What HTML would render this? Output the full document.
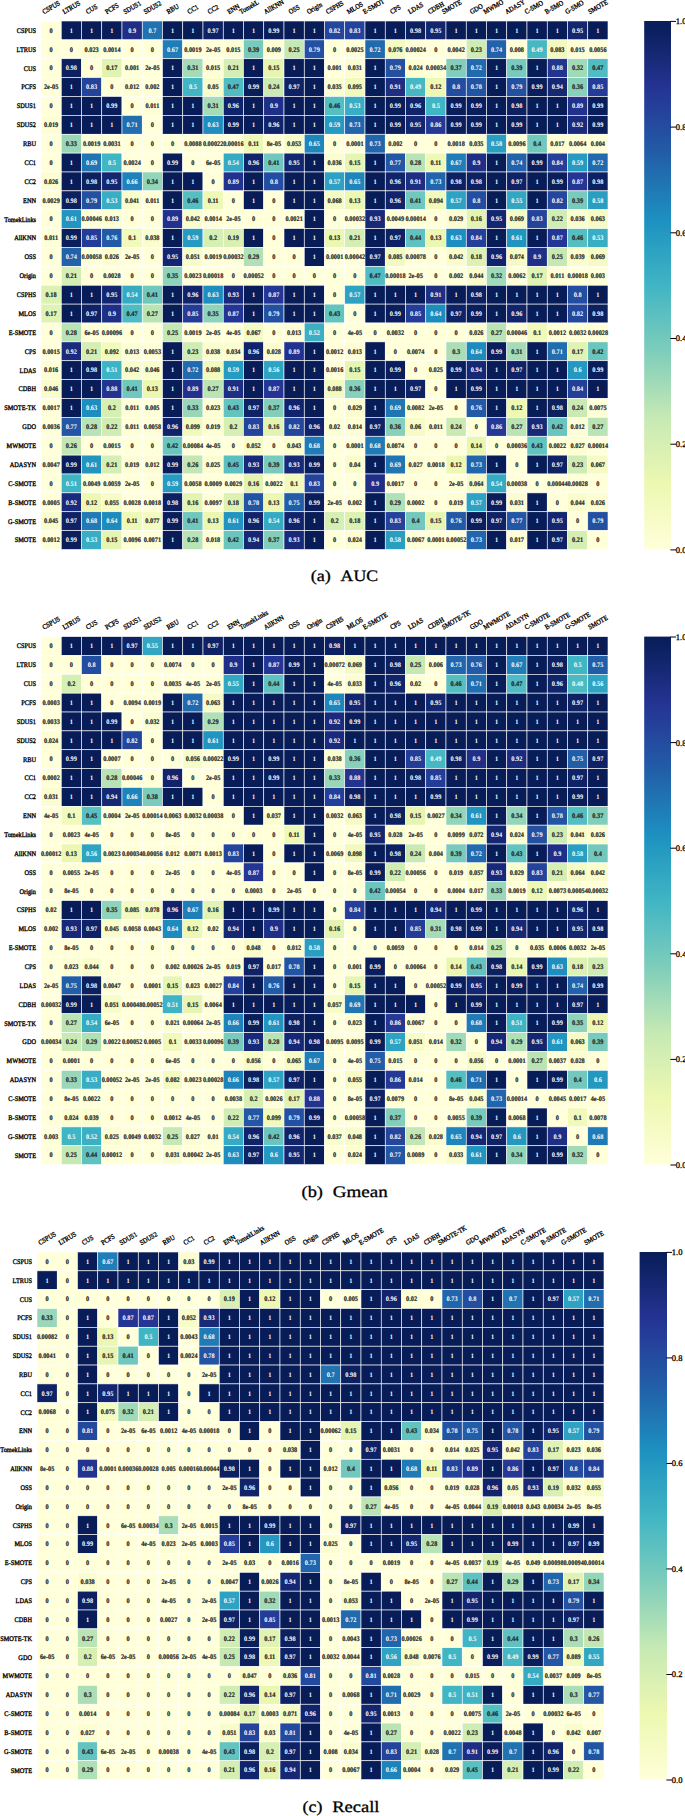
<!DOCTYPE html>
<html><head><meta charset="utf-8"><title>Heatmaps</title>
<style>html,body{margin:0;padding:0;background:#fff;width:685px;height:1816px;overflow:hidden}</style>
</head><body><svg width="685" height="1816" viewBox="0 0 685 1816" style="display:block;text-rendering:geometricPrecision" font-family="Liberation Serif, serif"><defs><linearGradient id="cb" x1="0" y1="1" x2="0" y2="0"><stop offset="0.0000" stop-color="#ffffd9"/><stop offset="0.0312" stop-color="#fafdcf"/><stop offset="0.0625" stop-color="#f6fbc5"/><stop offset="0.0938" stop-color="#f1fabb"/><stop offset="0.1250" stop-color="#edf8b1"/><stop offset="0.1562" stop-color="#e3f4b2"/><stop offset="0.1875" stop-color="#daf0b3"/><stop offset="0.2188" stop-color="#d0edb3"/><stop offset="0.2500" stop-color="#c6e9b4"/><stop offset="0.2812" stop-color="#b4e2b6"/><stop offset="0.3125" stop-color="#a2dbb8"/><stop offset="0.3438" stop-color="#90d4b9"/><stop offset="0.3750" stop-color="#7ecdbb"/><stop offset="0.4062" stop-color="#6fc7bd"/><stop offset="0.4375" stop-color="#5fc1c0"/><stop offset="0.4688" stop-color="#50bbc2"/><stop offset="0.5000" stop-color="#40b5c4"/><stop offset="0.5312" stop-color="#37acc3"/><stop offset="0.5625" stop-color="#2ea3c2"/><stop offset="0.5938" stop-color="#259ac1"/><stop offset="0.6250" stop-color="#1d90c0"/><stop offset="0.6562" stop-color="#1e83ba"/><stop offset="0.6875" stop-color="#2076b3"/><stop offset="0.7188" stop-color="#216aad"/><stop offset="0.7500" stop-color="#225da8"/><stop offset="0.7812" stop-color="#2352a3"/><stop offset="0.8125" stop-color="#24489d"/><stop offset="0.8438" stop-color="#243d98"/><stop offset="0.8750" stop-color="#243392"/><stop offset="0.9062" stop-color="#1d2e83"/><stop offset="0.9375" stop-color="#162874"/><stop offset="0.9688" stop-color="#0e2265"/><stop offset="1.0000" stop-color="#081d58"/></linearGradient></defs><g stroke="#fff" stroke-width="0.6"><rect x="41.00" y="21.00" width="20.25" height="18.88" fill="#ffffd9"/><rect x="61.25" y="21.00" width="20.25" height="18.88" fill="#081d58"/><rect x="81.50" y="21.00" width="20.25" height="18.88" fill="#081d58"/><rect x="101.75" y="21.00" width="20.25" height="18.88" fill="#081d58"/><rect x="122.00" y="21.00" width="20.25" height="18.88" fill="#1f2f87"/><rect x="142.25" y="21.00" width="20.25" height="18.88" fill="#2072b1"/><rect x="162.50" y="21.00" width="20.25" height="18.88" fill="#081d58"/><rect x="182.75" y="21.00" width="20.25" height="18.88" fill="#081d58"/><rect x="203.00" y="21.00" width="20.25" height="18.88" fill="#0e2265"/><rect x="223.25" y="21.00" width="20.25" height="18.88" fill="#081d58"/><rect x="243.50" y="21.00" width="20.25" height="18.88" fill="#081d58"/><rect x="263.75" y="21.00" width="20.25" height="18.88" fill="#0a1e5c"/><rect x="284.00" y="21.00" width="20.25" height="18.88" fill="#081d58"/><rect x="304.25" y="21.00" width="20.25" height="18.88" fill="#081d58"/><rect x="324.50" y="21.00" width="20.25" height="18.88" fill="#24479d"/><rect x="344.75" y="21.00" width="20.25" height="18.88" fill="#24439b"/><rect x="365.00" y="21.00" width="20.25" height="18.88" fill="#081d58"/><rect x="385.25" y="21.00" width="20.25" height="18.88" fill="#081d58"/><rect x="405.50" y="21.00" width="20.25" height="18.88" fill="#0d2161"/><rect x="425.75" y="21.00" width="20.25" height="18.88" fill="#13266f"/><rect x="446.00" y="21.00" width="20.25" height="18.88" fill="#081d58"/><rect x="466.25" y="21.00" width="20.25" height="18.88" fill="#081d58"/><rect x="486.50" y="21.00" width="20.25" height="18.88" fill="#081d58"/><rect x="506.75" y="21.00" width="20.25" height="18.88" fill="#081d58"/><rect x="527.00" y="21.00" width="20.25" height="18.88" fill="#081d58"/><rect x="547.25" y="21.00" width="20.25" height="18.88" fill="#081d58"/><rect x="567.50" y="21.00" width="20.25" height="18.88" fill="#13266f"/><rect x="587.75" y="21.00" width="20.25" height="18.88" fill="#081d58"/><rect x="41.00" y="39.88" width="20.25" height="18.88" fill="#ffffd9"/><rect x="61.25" y="39.88" width="20.25" height="18.88" fill="#ffffd9"/><rect x="81.50" y="39.88" width="20.25" height="18.88" fill="#fcfed3"/><rect x="101.75" y="39.88" width="20.25" height="18.88" fill="#ffffd9"/><rect x="122.00" y="39.88" width="20.25" height="18.88" fill="#ffffd9"/><rect x="142.25" y="39.88" width="20.25" height="18.88" fill="#ffffd9"/><rect x="162.50" y="39.88" width="20.25" height="18.88" fill="#1f7eb7"/><rect x="182.75" y="39.88" width="20.25" height="18.88" fill="#ffffd9"/><rect x="203.00" y="39.88" width="20.25" height="18.88" fill="#ffffd9"/><rect x="223.25" y="39.88" width="20.25" height="18.88" fill="#fdfed5"/><rect x="243.50" y="39.88" width="20.25" height="18.88" fill="#78cbbc"/><rect x="263.75" y="39.88" width="20.25" height="18.88" fill="#feffd6"/><rect x="284.00" y="39.88" width="20.25" height="18.88" fill="#c6e9b4"/><rect x="304.25" y="39.88" width="20.25" height="18.88" fill="#2350a1"/><rect x="324.50" y="39.88" width="20.25" height="18.88" fill="#ffffd9"/><rect x="344.75" y="39.88" width="20.25" height="18.88" fill="#ffffd9"/><rect x="365.00" y="39.88" width="20.25" height="18.88" fill="#216aad"/><rect x="385.25" y="39.88" width="20.25" height="18.88" fill="#f4fbc1"/><rect x="405.50" y="39.88" width="20.25" height="18.88" fill="#ffffd9"/><rect x="425.75" y="39.88" width="20.25" height="18.88" fill="#ffffd9"/><rect x="446.00" y="39.88" width="20.25" height="18.88" fill="#feffd8"/><rect x="466.25" y="39.88" width="20.25" height="18.88" fill="#ceecb3"/><rect x="486.50" y="39.88" width="20.25" height="18.88" fill="#2262aa"/><rect x="506.75" y="39.88" width="20.25" height="18.88" fill="#feffd6"/><rect x="527.00" y="39.88" width="20.25" height="18.88" fill="#46b8c3"/><rect x="547.25" y="39.88" width="20.25" height="18.88" fill="#f3fabf"/><rect x="567.50" y="39.88" width="20.25" height="18.88" fill="#fdfed5"/><rect x="587.75" y="39.88" width="20.25" height="18.88" fill="#feffd8"/><rect x="41.00" y="58.75" width="20.25" height="18.88" fill="#ffffd9"/><rect x="61.25" y="58.75" width="20.25" height="18.88" fill="#0d2161"/><rect x="81.50" y="58.75" width="20.25" height="18.88" fill="#ffffd9"/><rect x="101.75" y="58.75" width="20.25" height="18.88" fill="#e0f3b2"/><rect x="122.00" y="58.75" width="20.25" height="18.88" fill="#ffffd9"/><rect x="142.25" y="58.75" width="20.25" height="18.88" fill="#ffffd9"/><rect x="162.50" y="58.75" width="20.25" height="18.88" fill="#081d58"/><rect x="182.75" y="58.75" width="20.25" height="18.88" fill="#a5dcb7"/><rect x="203.00" y="58.75" width="20.25" height="18.88" fill="#fdfed5"/><rect x="223.25" y="58.75" width="20.25" height="18.88" fill="#d4eeb3"/><rect x="243.50" y="58.75" width="20.25" height="18.88" fill="#081d58"/><rect x="263.75" y="58.75" width="20.25" height="18.88" fill="#e6f5b2"/><rect x="284.00" y="58.75" width="20.25" height="18.88" fill="#081d58"/><rect x="304.25" y="58.75" width="20.25" height="18.88" fill="#081d58"/><rect x="324.50" y="58.75" width="20.25" height="18.88" fill="#ffffd9"/><rect x="344.75" y="58.75" width="20.25" height="18.88" fill="#fbfdd0"/><rect x="365.00" y="58.75" width="20.25" height="18.88" fill="#081d58"/><rect x="385.25" y="58.75" width="20.25" height="18.88" fill="#2350a1"/><rect x="405.50" y="58.75" width="20.25" height="18.88" fill="#fcfed1"/><rect x="425.75" y="58.75" width="20.25" height="18.88" fill="#ffffd9"/><rect x="446.00" y="58.75" width="20.25" height="18.88" fill="#83cebb"/><rect x="466.25" y="58.75" width="20.25" height="18.88" fill="#216aad"/><rect x="486.50" y="58.75" width="20.25" height="18.88" fill="#081d58"/><rect x="506.75" y="58.75" width="20.25" height="18.88" fill="#78cbbc"/><rect x="527.00" y="58.75" width="20.25" height="18.88" fill="#081d58"/><rect x="547.25" y="58.75" width="20.25" height="18.88" fill="#233390"/><rect x="567.50" y="58.75" width="20.25" height="18.88" fill="#a0dab8"/><rect x="587.75" y="58.75" width="20.25" height="18.88" fill="#50bbc2"/><rect x="41.00" y="77.62" width="20.25" height="18.88" fill="#ffffd9"/><rect x="61.25" y="77.62" width="20.25" height="18.88" fill="#081d58"/><rect x="81.50" y="77.62" width="20.25" height="18.88" fill="#24439b"/><rect x="101.75" y="77.62" width="20.25" height="18.88" fill="#ffffd9"/><rect x="122.00" y="77.62" width="20.25" height="18.88" fill="#fdfed5"/><rect x="142.25" y="77.62" width="20.25" height="18.88" fill="#ffffd9"/><rect x="162.50" y="77.62" width="20.25" height="18.88" fill="#081d58"/><rect x="182.75" y="77.62" width="20.25" height="18.88" fill="#40b5c4"/><rect x="203.00" y="77.62" width="20.25" height="18.88" fill="#f8fcca"/><rect x="223.25" y="77.62" width="20.25" height="18.88" fill="#50bbc2"/><rect x="243.50" y="77.62" width="20.25" height="18.88" fill="#0a1e5c"/><rect x="263.75" y="77.62" width="20.25" height="18.88" fill="#caeab4"/><rect x="284.00" y="77.62" width="20.25" height="18.88" fill="#0e2265"/><rect x="304.25" y="77.62" width="20.25" height="18.88" fill="#081d58"/><rect x="324.50" y="77.62" width="20.25" height="18.88" fill="#fafdcf"/><rect x="344.75" y="77.62" width="20.25" height="18.88" fill="#f1fabb"/><rect x="365.00" y="77.62" width="20.25" height="18.88" fill="#081d58"/><rect x="385.25" y="77.62" width="20.25" height="18.88" fill="#1d2e83"/><rect x="405.50" y="77.62" width="20.25" height="18.88" fill="#46b8c3"/><rect x="425.75" y="77.62" width="20.25" height="18.88" fill="#eef8b3"/><rect x="446.00" y="77.62" width="20.25" height="18.88" fill="#234da0"/><rect x="466.25" y="77.62" width="20.25" height="18.88" fill="#2354a3"/><rect x="486.50" y="77.62" width="20.25" height="18.88" fill="#081d58"/><rect x="506.75" y="77.62" width="20.25" height="18.88" fill="#2350a1"/><rect x="527.00" y="77.62" width="20.25" height="18.88" fill="#0a1e5c"/><rect x="547.25" y="77.62" width="20.25" height="18.88" fill="#162874"/><rect x="567.50" y="77.62" width="20.25" height="18.88" fill="#87d0ba"/><rect x="587.75" y="77.62" width="20.25" height="18.88" fill="#243c98"/><rect x="41.00" y="96.50" width="20.25" height="18.88" fill="#ffffd9"/><rect x="61.25" y="96.50" width="20.25" height="18.88" fill="#081d58"/><rect x="81.50" y="96.50" width="20.25" height="18.88" fill="#081d58"/><rect x="101.75" y="96.50" width="20.25" height="18.88" fill="#0a1e5c"/><rect x="122.00" y="96.50" width="20.25" height="18.88" fill="#ffffd9"/><rect x="142.25" y="96.50" width="20.25" height="18.88" fill="#feffd6"/><rect x="162.50" y="96.50" width="20.25" height="18.88" fill="#081d58"/><rect x="182.75" y="96.50" width="20.25" height="18.88" fill="#081d58"/><rect x="203.00" y="96.50" width="20.25" height="18.88" fill="#a5dcb7"/><rect x="223.25" y="96.50" width="20.25" height="18.88" fill="#11246b"/><rect x="243.50" y="96.50" width="20.25" height="18.88" fill="#081d58"/><rect x="263.75" y="96.50" width="20.25" height="18.88" fill="#1f2f87"/><rect x="284.00" y="96.50" width="20.25" height="18.88" fill="#081d58"/><rect x="304.25" y="96.50" width="20.25" height="18.88" fill="#081d58"/><rect x="324.50" y="96.50" width="20.25" height="18.88" fill="#55bec1"/><rect x="344.75" y="96.50" width="20.25" height="18.88" fill="#39adc3"/><rect x="365.00" y="96.50" width="20.25" height="18.88" fill="#081d58"/><rect x="385.25" y="96.50" width="20.25" height="18.88" fill="#0a1e5c"/><rect x="405.50" y="96.50" width="20.25" height="18.88" fill="#11246b"/><rect x="425.75" y="96.50" width="20.25" height="18.88" fill="#40b5c4"/><rect x="446.00" y="96.50" width="20.25" height="18.88" fill="#0a1e5c"/><rect x="466.25" y="96.50" width="20.25" height="18.88" fill="#0a1e5c"/><rect x="486.50" y="96.50" width="20.25" height="18.88" fill="#081d58"/><rect x="506.75" y="96.50" width="20.25" height="18.88" fill="#0d2161"/><rect x="527.00" y="96.50" width="20.25" height="18.88" fill="#081d58"/><rect x="547.25" y="96.50" width="20.25" height="18.88" fill="#081d58"/><rect x="567.50" y="96.50" width="20.25" height="18.88" fill="#21318d"/><rect x="587.75" y="96.50" width="20.25" height="18.88" fill="#0a1e5c"/><rect x="41.00" y="115.38" width="20.25" height="18.88" fill="#fdfed4"/><rect x="61.25" y="115.38" width="20.25" height="18.88" fill="#081d58"/><rect x="81.50" y="115.38" width="20.25" height="18.88" fill="#081d58"/><rect x="101.75" y="115.38" width="20.25" height="18.88" fill="#081d58"/><rect x="122.00" y="115.38" width="20.25" height="18.88" fill="#206eb0"/><rect x="142.25" y="115.38" width="20.25" height="18.88" fill="#ffffd9"/><rect x="162.50" y="115.38" width="20.25" height="18.88" fill="#081d58"/><rect x="182.75" y="115.38" width="20.25" height="18.88" fill="#081d58"/><rect x="203.00" y="115.38" width="20.25" height="18.88" fill="#1d8ebf"/><rect x="223.25" y="115.38" width="20.25" height="18.88" fill="#0a1e5c"/><rect x="243.50" y="115.38" width="20.25" height="18.88" fill="#081d58"/><rect x="263.75" y="115.38" width="20.25" height="18.88" fill="#11246b"/><rect x="284.00" y="115.38" width="20.25" height="18.88" fill="#081d58"/><rect x="304.25" y="115.38" width="20.25" height="18.88" fill="#081d58"/><rect x="324.50" y="115.38" width="20.25" height="18.88" fill="#269bc1"/><rect x="344.75" y="115.38" width="20.25" height="18.88" fill="#2166ac"/><rect x="365.00" y="115.38" width="20.25" height="18.88" fill="#081d58"/><rect x="385.25" y="115.38" width="20.25" height="18.88" fill="#0a1e5c"/><rect x="405.50" y="115.38" width="20.25" height="18.88" fill="#13266f"/><rect x="425.75" y="115.38" width="20.25" height="18.88" fill="#253896"/><rect x="446.00" y="115.38" width="20.25" height="18.88" fill="#0a1e5c"/><rect x="466.25" y="115.38" width="20.25" height="18.88" fill="#0a1e5c"/><rect x="486.50" y="115.38" width="20.25" height="18.88" fill="#081d58"/><rect x="506.75" y="115.38" width="20.25" height="18.88" fill="#0a1e5c"/><rect x="527.00" y="115.38" width="20.25" height="18.88" fill="#081d58"/><rect x="547.25" y="115.38" width="20.25" height="18.88" fill="#081d58"/><rect x="567.50" y="115.38" width="20.25" height="18.88" fill="#1a2b7e"/><rect x="587.75" y="115.38" width="20.25" height="18.88" fill="#0a1e5c"/><rect x="41.00" y="134.25" width="20.25" height="18.88" fill="#ffffd9"/><rect x="61.25" y="134.25" width="20.25" height="18.88" fill="#99d7b8"/><rect x="81.50" y="134.25" width="20.25" height="18.88" fill="#ffffd9"/><rect x="101.75" y="134.25" width="20.25" height="18.88" fill="#ffffd9"/><rect x="122.00" y="134.25" width="20.25" height="18.88" fill="#ffffd9"/><rect x="142.25" y="134.25" width="20.25" height="18.88" fill="#ffffd9"/><rect x="162.50" y="134.25" width="20.25" height="18.88" fill="#ffffd9"/><rect x="182.75" y="134.25" width="20.25" height="18.88" fill="#feffd6"/><rect x="203.00" y="134.25" width="20.25" height="18.88" fill="#ffffd9"/><rect x="223.25" y="134.25" width="20.25" height="18.88" fill="#ffffd9"/><rect x="243.50" y="134.25" width="20.25" height="18.88" fill="#eff9b6"/><rect x="263.75" y="134.25" width="20.25" height="18.88" fill="#ffffd9"/><rect x="284.00" y="134.25" width="20.25" height="18.88" fill="#f8fcc9"/><rect x="304.25" y="134.25" width="20.25" height="18.88" fill="#1e86bb"/><rect x="324.50" y="134.25" width="20.25" height="18.88" fill="#ffffd9"/><rect x="344.75" y="134.25" width="20.25" height="18.88" fill="#ffffd9"/><rect x="365.00" y="134.25" width="20.25" height="18.88" fill="#2166ac"/><rect x="385.25" y="134.25" width="20.25" height="18.88" fill="#ffffd9"/><rect x="405.50" y="134.25" width="20.25" height="18.88" fill="#ffffd9"/><rect x="425.75" y="134.25" width="20.25" height="18.88" fill="#ffffd9"/><rect x="446.00" y="134.25" width="20.25" height="18.88" fill="#ffffd9"/><rect x="466.25" y="134.25" width="20.25" height="18.88" fill="#fafdcf"/><rect x="486.50" y="134.25" width="20.25" height="18.88" fill="#2a9ec1"/><rect x="506.75" y="134.25" width="20.25" height="18.88" fill="#feffd6"/><rect x="527.00" y="134.25" width="20.25" height="18.88" fill="#73c8bd"/><rect x="547.25" y="134.25" width="20.25" height="18.88" fill="#fdfed4"/><rect x="567.50" y="134.25" width="20.25" height="18.88" fill="#feffd8"/><rect x="587.75" y="134.25" width="20.25" height="18.88" fill="#feffd8"/><rect x="41.00" y="153.12" width="20.25" height="18.88" fill="#ffffd9"/><rect x="61.25" y="153.12" width="20.25" height="18.88" fill="#081d58"/><rect x="81.50" y="153.12" width="20.25" height="18.88" fill="#2076b3"/><rect x="101.75" y="153.12" width="20.25" height="18.88" fill="#40b5c4"/><rect x="122.00" y="153.12" width="20.25" height="18.88" fill="#ffffd9"/><rect x="142.25" y="153.12" width="20.25" height="18.88" fill="#ffffd9"/><rect x="162.50" y="153.12" width="20.25" height="18.88" fill="#0a1e5c"/><rect x="182.75" y="153.12" width="20.25" height="18.88" fill="#ffffd9"/><rect x="203.00" y="153.12" width="20.25" height="18.88" fill="#ffffd9"/><rect x="223.25" y="153.12" width="20.25" height="18.88" fill="#35aac3"/><rect x="243.50" y="153.12" width="20.25" height="18.88" fill="#11246b"/><rect x="263.75" y="153.12" width="20.25" height="18.88" fill="#6fc7bd"/><rect x="284.00" y="153.12" width="20.25" height="18.88" fill="#13266f"/><rect x="304.25" y="153.12" width="20.25" height="18.88" fill="#081d58"/><rect x="324.50" y="153.12" width="20.25" height="18.88" fill="#fafdce"/><rect x="344.75" y="153.12" width="20.25" height="18.88" fill="#e6f5b2"/><rect x="365.00" y="153.12" width="20.25" height="18.88" fill="#081d58"/><rect x="385.25" y="153.12" width="20.25" height="18.88" fill="#2356a4"/><rect x="405.50" y="153.12" width="20.25" height="18.88" fill="#b7e3b6"/><rect x="425.75" y="153.12" width="20.25" height="18.88" fill="#eff9b6"/><rect x="446.00" y="153.12" width="20.25" height="18.88" fill="#1f7eb7"/><rect x="466.25" y="153.12" width="20.25" height="18.88" fill="#1f2f87"/><rect x="486.50" y="153.12" width="20.25" height="18.88" fill="#081d58"/><rect x="506.75" y="153.12" width="20.25" height="18.88" fill="#2262aa"/><rect x="527.00" y="153.12" width="20.25" height="18.88" fill="#0a1e5c"/><rect x="547.25" y="153.12" width="20.25" height="18.88" fill="#243f99"/><rect x="567.50" y="153.12" width="20.25" height="18.88" fill="#269bc1"/><rect x="587.75" y="153.12" width="20.25" height="18.88" fill="#216aad"/><rect x="41.00" y="172.00" width="20.25" height="18.88" fill="#fcfed1"/><rect x="61.25" y="172.00" width="20.25" height="18.88" fill="#081d58"/><rect x="81.50" y="172.00" width="20.25" height="18.88" fill="#0d2161"/><rect x="101.75" y="172.00" width="20.25" height="18.88" fill="#13266f"/><rect x="122.00" y="172.00" width="20.25" height="18.88" fill="#1e83ba"/><rect x="142.25" y="172.00" width="20.25" height="18.88" fill="#92d5b9"/><rect x="162.50" y="172.00" width="20.25" height="18.88" fill="#081d58"/><rect x="182.75" y="172.00" width="20.25" height="18.88" fill="#081d58"/><rect x="203.00" y="172.00" width="20.25" height="18.88" fill="#ffffd9"/><rect x="223.25" y="172.00" width="20.25" height="18.88" fill="#21318d"/><rect x="243.50" y="172.00" width="20.25" height="18.88" fill="#081d58"/><rect x="263.75" y="172.00" width="20.25" height="18.88" fill="#234da0"/><rect x="284.00" y="172.00" width="20.25" height="18.88" fill="#081d58"/><rect x="304.25" y="172.00" width="20.25" height="18.88" fill="#081d58"/><rect x="324.50" y="172.00" width="20.25" height="18.88" fill="#2da2c2"/><rect x="344.75" y="172.00" width="20.25" height="18.88" fill="#1e86bb"/><rect x="365.00" y="172.00" width="20.25" height="18.88" fill="#081d58"/><rect x="385.25" y="172.00" width="20.25" height="18.88" fill="#11246b"/><rect x="405.50" y="172.00" width="20.25" height="18.88" fill="#1d2e83"/><rect x="425.75" y="172.00" width="20.25" height="18.88" fill="#2166ac"/><rect x="446.00" y="172.00" width="20.25" height="18.88" fill="#0d2161"/><rect x="466.25" y="172.00" width="20.25" height="18.88" fill="#0d2161"/><rect x="486.50" y="172.00" width="20.25" height="18.88" fill="#081d58"/><rect x="506.75" y="172.00" width="20.25" height="18.88" fill="#0e2265"/><rect x="527.00" y="172.00" width="20.25" height="18.88" fill="#081d58"/><rect x="547.25" y="172.00" width="20.25" height="18.88" fill="#0a1e5c"/><rect x="567.50" y="172.00" width="20.25" height="18.88" fill="#253595"/><rect x="587.75" y="172.00" width="20.25" height="18.88" fill="#0d2161"/><rect x="41.00" y="190.88" width="20.25" height="18.88" fill="#ffffd9"/><rect x="61.25" y="190.88" width="20.25" height="18.88" fill="#0d2161"/><rect x="81.50" y="190.88" width="20.25" height="18.88" fill="#2350a1"/><rect x="101.75" y="190.88" width="20.25" height="18.88" fill="#39adc3"/><rect x="122.00" y="190.88" width="20.25" height="18.88" fill="#f9fdcc"/><rect x="142.25" y="190.88" width="20.25" height="18.88" fill="#feffd6"/><rect x="162.50" y="190.88" width="20.25" height="18.88" fill="#081d58"/><rect x="182.75" y="190.88" width="20.25" height="18.88" fill="#55bec1"/><rect x="203.00" y="190.88" width="20.25" height="18.88" fill="#eff9b6"/><rect x="223.25" y="190.88" width="20.25" height="18.88" fill="#ffffd9"/><rect x="243.50" y="190.88" width="20.25" height="18.88" fill="#081d58"/><rect x="263.75" y="190.88" width="20.25" height="18.88" fill="#ffffd9"/><rect x="284.00" y="190.88" width="20.25" height="18.88" fill="#081d58"/><rect x="304.25" y="190.88" width="20.25" height="18.88" fill="#081d58"/><rect x="324.50" y="190.88" width="20.25" height="18.88" fill="#f5fbc4"/><rect x="344.75" y="190.88" width="20.25" height="18.88" fill="#ecf7b1"/><rect x="365.00" y="190.88" width="20.25" height="18.88" fill="#081d58"/><rect x="385.25" y="190.88" width="20.25" height="18.88" fill="#11246b"/><rect x="405.50" y="190.88" width="20.25" height="18.88" fill="#6fc7bd"/><rect x="425.75" y="190.88" width="20.25" height="18.88" fill="#f1fabb"/><rect x="446.00" y="190.88" width="20.25" height="18.88" fill="#2da2c2"/><rect x="466.25" y="190.88" width="20.25" height="18.88" fill="#234da0"/><rect x="486.50" y="190.88" width="20.25" height="18.88" fill="#081d58"/><rect x="506.75" y="190.88" width="20.25" height="18.88" fill="#33a7c2"/><rect x="527.00" y="190.88" width="20.25" height="18.88" fill="#081d58"/><rect x="547.25" y="190.88" width="20.25" height="18.88" fill="#24479d"/><rect x="567.50" y="190.88" width="20.25" height="18.88" fill="#78cbbc"/><rect x="587.75" y="190.88" width="20.25" height="18.88" fill="#2a9ec1"/><rect x="41.00" y="209.75" width="20.25" height="18.88" fill="#ffffd9"/><rect x="61.25" y="209.75" width="20.25" height="18.88" fill="#2195c0"/><rect x="81.50" y="209.75" width="20.25" height="18.88" fill="#ffffd9"/><rect x="101.75" y="209.75" width="20.25" height="18.88" fill="#fdfed5"/><rect x="122.00" y="209.75" width="20.25" height="18.88" fill="#ffffd9"/><rect x="142.25" y="209.75" width="20.25" height="18.88" fill="#ffffd9"/><rect x="162.50" y="209.75" width="20.25" height="18.88" fill="#21318d"/><rect x="182.75" y="209.75" width="20.25" height="18.88" fill="#f9fdcc"/><rect x="203.00" y="209.75" width="20.25" height="18.88" fill="#ffffd9"/><rect x="223.25" y="209.75" width="20.25" height="18.88" fill="#ffffd9"/><rect x="243.50" y="209.75" width="20.25" height="18.88" fill="#ffffd9"/><rect x="263.75" y="209.75" width="20.25" height="18.88" fill="#ffffd9"/><rect x="284.00" y="209.75" width="20.25" height="18.88" fill="#ffffd9"/><rect x="304.25" y="209.75" width="20.25" height="18.88" fill="#081d58"/><rect x="324.50" y="209.75" width="20.25" height="18.88" fill="#ffffd9"/><rect x="344.75" y="209.75" width="20.25" height="18.88" fill="#ffffd9"/><rect x="365.00" y="209.75" width="20.25" height="18.88" fill="#172978"/><rect x="385.25" y="209.75" width="20.25" height="18.88" fill="#feffd8"/><rect x="405.50" y="209.75" width="20.25" height="18.88" fill="#ffffd9"/><rect x="425.75" y="209.75" width="20.25" height="18.88" fill="#ffffd9"/><rect x="446.00" y="209.75" width="20.25" height="18.88" fill="#fbfdd0"/><rect x="466.25" y="209.75" width="20.25" height="18.88" fill="#e3f4b2"/><rect x="486.50" y="209.75" width="20.25" height="18.88" fill="#13266f"/><rect x="506.75" y="209.75" width="20.25" height="18.88" fill="#f5fbc4"/><rect x="527.00" y="209.75" width="20.25" height="18.88" fill="#24439b"/><rect x="547.25" y="209.75" width="20.25" height="18.88" fill="#d0edb3"/><rect x="567.50" y="209.75" width="20.25" height="18.88" fill="#fafdce"/><rect x="587.75" y="209.75" width="20.25" height="18.88" fill="#f6fbc5"/><rect x="41.00" y="228.62" width="20.25" height="18.88" fill="#feffd6"/><rect x="61.25" y="228.62" width="20.25" height="18.88" fill="#0a1e5c"/><rect x="81.50" y="228.62" width="20.25" height="18.88" fill="#243c98"/><rect x="101.75" y="228.62" width="20.25" height="18.88" fill="#225aa6"/><rect x="122.00" y="228.62" width="20.25" height="18.88" fill="#f1faba"/><rect x="142.25" y="228.62" width="20.25" height="18.88" fill="#fafdce"/><rect x="162.50" y="228.62" width="20.25" height="18.88" fill="#081d58"/><rect x="182.75" y="228.62" width="20.25" height="18.88" fill="#269bc1"/><rect x="203.00" y="228.62" width="20.25" height="18.88" fill="#d6efb3"/><rect x="223.25" y="228.62" width="20.25" height="18.88" fill="#daf0b3"/><rect x="243.50" y="228.62" width="20.25" height="18.88" fill="#081d58"/><rect x="263.75" y="228.62" width="20.25" height="18.88" fill="#ffffd9"/><rect x="284.00" y="228.62" width="20.25" height="18.88" fill="#081d58"/><rect x="304.25" y="228.62" width="20.25" height="18.88" fill="#081d58"/><rect x="324.50" y="228.62" width="20.25" height="18.88" fill="#ecf7b1"/><rect x="344.75" y="228.62" width="20.25" height="18.88" fill="#d4eeb3"/><rect x="365.00" y="228.62" width="20.25" height="18.88" fill="#081d58"/><rect x="385.25" y="228.62" width="20.25" height="18.88" fill="#0e2265"/><rect x="405.50" y="228.62" width="20.25" height="18.88" fill="#5fc1c0"/><rect x="425.75" y="228.62" width="20.25" height="18.88" fill="#ecf7b1"/><rect x="446.00" y="228.62" width="20.25" height="18.88" fill="#1d8ebf"/><rect x="466.25" y="228.62" width="20.25" height="18.88" fill="#243f99"/><rect x="486.50" y="228.62" width="20.25" height="18.88" fill="#081d58"/><rect x="506.75" y="228.62" width="20.25" height="18.88" fill="#2195c0"/><rect x="527.00" y="228.62" width="20.25" height="18.88" fill="#081d58"/><rect x="547.25" y="228.62" width="20.25" height="18.88" fill="#253595"/><rect x="567.50" y="228.62" width="20.25" height="18.88" fill="#55bec1"/><rect x="587.75" y="228.62" width="20.25" height="18.88" fill="#39adc3"/><rect x="41.00" y="247.50" width="20.25" height="18.88" fill="#ffffd9"/><rect x="61.25" y="247.50" width="20.25" height="18.88" fill="#2262aa"/><rect x="81.50" y="247.50" width="20.25" height="18.88" fill="#ffffd9"/><rect x="101.75" y="247.50" width="20.25" height="18.88" fill="#fcfed1"/><rect x="122.00" y="247.50" width="20.25" height="18.88" fill="#ffffd9"/><rect x="142.25" y="247.50" width="20.25" height="18.88" fill="#ffffd9"/><rect x="162.50" y="247.50" width="20.25" height="18.88" fill="#13266f"/><rect x="182.75" y="247.50" width="20.25" height="18.88" fill="#f8fcc9"/><rect x="203.00" y="247.50" width="20.25" height="18.88" fill="#ffffd9"/><rect x="223.25" y="247.50" width="20.25" height="18.88" fill="#ffffd9"/><rect x="243.50" y="247.50" width="20.25" height="18.88" fill="#b0e0b6"/><rect x="263.75" y="247.50" width="20.25" height="18.88" fill="#ffffd9"/><rect x="284.00" y="247.50" width="20.25" height="18.88" fill="#ffffd9"/><rect x="304.25" y="247.50" width="20.25" height="18.88" fill="#081d58"/><rect x="324.50" y="247.50" width="20.25" height="18.88" fill="#ffffd9"/><rect x="344.75" y="247.50" width="20.25" height="18.88" fill="#ffffd9"/><rect x="365.00" y="247.50" width="20.25" height="18.88" fill="#0e2265"/><rect x="385.25" y="247.50" width="20.25" height="18.88" fill="#f3fabf"/><rect x="405.50" y="247.50" width="20.25" height="18.88" fill="#ffffd9"/><rect x="425.75" y="247.50" width="20.25" height="18.88" fill="#ffffd9"/><rect x="446.00" y="247.50" width="20.25" height="18.88" fill="#f9fdcc"/><rect x="466.25" y="247.50" width="20.25" height="18.88" fill="#dcf1b2"/><rect x="486.50" y="247.50" width="20.25" height="18.88" fill="#11246b"/><rect x="506.75" y="247.50" width="20.25" height="18.88" fill="#f5fbc2"/><rect x="527.00" y="247.50" width="20.25" height="18.88" fill="#1f2f87"/><rect x="547.25" y="247.50" width="20.25" height="18.88" fill="#c6e9b4"/><rect x="567.50" y="247.50" width="20.25" height="18.88" fill="#fafdce"/><rect x="587.75" y="247.50" width="20.25" height="18.88" fill="#f5fbc4"/><rect x="41.00" y="266.38" width="20.25" height="18.88" fill="#ffffd9"/><rect x="61.25" y="266.38" width="20.25" height="18.88" fill="#d4eeb3"/><rect x="81.50" y="266.38" width="20.25" height="18.88" fill="#ffffd9"/><rect x="101.75" y="266.38" width="20.25" height="18.88" fill="#ffffd9"/><rect x="122.00" y="266.38" width="20.25" height="18.88" fill="#ffffd9"/><rect x="142.25" y="266.38" width="20.25" height="18.88" fill="#ffffd9"/><rect x="162.50" y="266.38" width="20.25" height="18.88" fill="#8ed3ba"/><rect x="182.75" y="266.38" width="20.25" height="18.88" fill="#ffffd9"/><rect x="203.00" y="266.38" width="20.25" height="18.88" fill="#ffffd9"/><rect x="223.25" y="266.38" width="20.25" height="18.88" fill="#ffffd9"/><rect x="243.50" y="266.38" width="20.25" height="18.88" fill="#ffffd9"/><rect x="263.75" y="266.38" width="20.25" height="18.88" fill="#ffffd9"/><rect x="284.00" y="266.38" width="20.25" height="18.88" fill="#ffffd9"/><rect x="304.25" y="266.38" width="20.25" height="18.88" fill="#ffffd9"/><rect x="324.50" y="266.38" width="20.25" height="18.88" fill="#ffffd9"/><rect x="344.75" y="266.38" width="20.25" height="18.88" fill="#ffffd9"/><rect x="365.00" y="266.38" width="20.25" height="18.88" fill="#50bbc2"/><rect x="385.25" y="266.38" width="20.25" height="18.88" fill="#ffffd9"/><rect x="405.50" y="266.38" width="20.25" height="18.88" fill="#ffffd9"/><rect x="425.75" y="266.38" width="20.25" height="18.88" fill="#ffffd9"/><rect x="446.00" y="266.38" width="20.25" height="18.88" fill="#ffffd9"/><rect x="466.25" y="266.38" width="20.25" height="18.88" fill="#f9fdcb"/><rect x="486.50" y="266.38" width="20.25" height="18.88" fill="#a0dab8"/><rect x="506.75" y="266.38" width="20.25" height="18.88" fill="#feffd8"/><rect x="527.00" y="266.38" width="20.25" height="18.88" fill="#e0f3b2"/><rect x="547.25" y="266.38" width="20.25" height="18.88" fill="#feffd6"/><rect x="567.50" y="266.38" width="20.25" height="18.88" fill="#ffffd9"/><rect x="587.75" y="266.38" width="20.25" height="18.88" fill="#ffffd9"/><rect x="41.00" y="285.25" width="20.25" height="18.88" fill="#dcf1b2"/><rect x="61.25" y="285.25" width="20.25" height="18.88" fill="#081d58"/><rect x="81.50" y="285.25" width="20.25" height="18.88" fill="#081d58"/><rect x="101.75" y="285.25" width="20.25" height="18.88" fill="#13266f"/><rect x="122.00" y="285.25" width="20.25" height="18.88" fill="#35aac3"/><rect x="142.25" y="285.25" width="20.25" height="18.88" fill="#6fc7bd"/><rect x="162.50" y="285.25" width="20.25" height="18.88" fill="#081d58"/><rect x="182.75" y="285.25" width="20.25" height="18.88" fill="#11246b"/><rect x="203.00" y="285.25" width="20.25" height="18.88" fill="#1d8ebf"/><rect x="223.25" y="285.25" width="20.25" height="18.88" fill="#172978"/><rect x="243.50" y="285.25" width="20.25" height="18.88" fill="#081d58"/><rect x="263.75" y="285.25" width="20.25" height="18.88" fill="#253595"/><rect x="284.00" y="285.25" width="20.25" height="18.88" fill="#081d58"/><rect x="304.25" y="285.25" width="20.25" height="18.88" fill="#081d58"/><rect x="324.50" y="285.25" width="20.25" height="18.88" fill="#ffffd9"/><rect x="344.75" y="285.25" width="20.25" height="18.88" fill="#2da2c2"/><rect x="365.00" y="285.25" width="20.25" height="18.88" fill="#081d58"/><rect x="385.25" y="285.25" width="20.25" height="18.88" fill="#081d58"/><rect x="405.50" y="285.25" width="20.25" height="18.88" fill="#081d58"/><rect x="425.75" y="285.25" width="20.25" height="18.88" fill="#1d2e83"/><rect x="446.00" y="285.25" width="20.25" height="18.88" fill="#081d58"/><rect x="466.25" y="285.25" width="20.25" height="18.88" fill="#0d2161"/><rect x="486.50" y="285.25" width="20.25" height="18.88" fill="#081d58"/><rect x="506.75" y="285.25" width="20.25" height="18.88" fill="#081d58"/><rect x="527.00" y="285.25" width="20.25" height="18.88" fill="#081d58"/><rect x="547.25" y="285.25" width="20.25" height="18.88" fill="#081d58"/><rect x="567.50" y="285.25" width="20.25" height="18.88" fill="#234da0"/><rect x="587.75" y="285.25" width="20.25" height="18.88" fill="#081d58"/><rect x="41.00" y="304.12" width="20.25" height="18.88" fill="#e0f3b2"/><rect x="61.25" y="304.12" width="20.25" height="18.88" fill="#081d58"/><rect x="81.50" y="304.12" width="20.25" height="18.88" fill="#0e2265"/><rect x="101.75" y="304.12" width="20.25" height="18.88" fill="#1f2f87"/><rect x="122.00" y="304.12" width="20.25" height="18.88" fill="#50bbc2"/><rect x="142.25" y="304.12" width="20.25" height="18.88" fill="#bbe4b5"/><rect x="162.50" y="304.12" width="20.25" height="18.88" fill="#081d58"/><rect x="182.75" y="304.12" width="20.25" height="18.88" fill="#243c98"/><rect x="203.00" y="304.12" width="20.25" height="18.88" fill="#8ed3ba"/><rect x="223.25" y="304.12" width="20.25" height="18.88" fill="#253595"/><rect x="243.50" y="304.12" width="20.25" height="18.88" fill="#081d58"/><rect x="263.75" y="304.12" width="20.25" height="18.88" fill="#2350a1"/><rect x="284.00" y="304.12" width="20.25" height="18.88" fill="#081d58"/><rect x="304.25" y="304.12" width="20.25" height="18.88" fill="#081d58"/><rect x="324.50" y="304.12" width="20.25" height="18.88" fill="#63c3bf"/><rect x="344.75" y="304.12" width="20.25" height="18.88" fill="#ffffd9"/><rect x="365.00" y="304.12" width="20.25" height="18.88" fill="#081d58"/><rect x="385.25" y="304.12" width="20.25" height="18.88" fill="#0a1e5c"/><rect x="405.50" y="304.12" width="20.25" height="18.88" fill="#243c98"/><rect x="425.75" y="304.12" width="20.25" height="18.88" fill="#1e8bbd"/><rect x="446.00" y="304.12" width="20.25" height="18.88" fill="#0e2265"/><rect x="466.25" y="304.12" width="20.25" height="18.88" fill="#0a1e5c"/><rect x="486.50" y="304.12" width="20.25" height="18.88" fill="#081d58"/><rect x="506.75" y="304.12" width="20.25" height="18.88" fill="#11246b"/><rect x="527.00" y="304.12" width="20.25" height="18.88" fill="#081d58"/><rect x="547.25" y="304.12" width="20.25" height="18.88" fill="#081d58"/><rect x="567.50" y="304.12" width="20.25" height="18.88" fill="#24479d"/><rect x="587.75" y="304.12" width="20.25" height="18.88" fill="#0d2161"/><rect x="41.00" y="323.00" width="20.25" height="18.88" fill="#ffffd9"/><rect x="61.25" y="323.00" width="20.25" height="18.88" fill="#b7e3b6"/><rect x="81.50" y="323.00" width="20.25" height="18.88" fill="#ffffd9"/><rect x="101.75" y="323.00" width="20.25" height="18.88" fill="#ffffd9"/><rect x="122.00" y="323.00" width="20.25" height="18.88" fill="#ffffd9"/><rect x="142.25" y="323.00" width="20.25" height="18.88" fill="#ffffd9"/><rect x="162.50" y="323.00" width="20.25" height="18.88" fill="#c6e9b4"/><rect x="182.75" y="323.00" width="20.25" height="18.88" fill="#ffffd9"/><rect x="203.00" y="323.00" width="20.25" height="18.88" fill="#ffffd9"/><rect x="223.25" y="323.00" width="20.25" height="18.88" fill="#ffffd9"/><rect x="243.50" y="323.00" width="20.25" height="18.88" fill="#f5fbc4"/><rect x="263.75" y="323.00" width="20.25" height="18.88" fill="#ffffd9"/><rect x="284.00" y="323.00" width="20.25" height="18.88" fill="#fdfed5"/><rect x="304.25" y="323.00" width="20.25" height="18.88" fill="#3bb0c3"/><rect x="324.50" y="323.00" width="20.25" height="18.88" fill="#ffffd9"/><rect x="344.75" y="323.00" width="20.25" height="18.88" fill="#ffffd9"/><rect x="365.00" y="323.00" width="20.25" height="18.88" fill="#ffffd9"/><rect x="385.25" y="323.00" width="20.25" height="18.88" fill="#ffffd9"/><rect x="405.50" y="323.00" width="20.25" height="18.88" fill="#ffffd9"/><rect x="425.75" y="323.00" width="20.25" height="18.88" fill="#ffffd9"/><rect x="446.00" y="323.00" width="20.25" height="18.88" fill="#ffffd9"/><rect x="466.25" y="323.00" width="20.25" height="18.88" fill="#fcfed1"/><rect x="486.50" y="323.00" width="20.25" height="18.88" fill="#bbe4b5"/><rect x="506.75" y="323.00" width="20.25" height="18.88" fill="#ffffd9"/><rect x="527.00" y="323.00" width="20.25" height="18.88" fill="#f1faba"/><rect x="547.25" y="323.00" width="20.25" height="18.88" fill="#ffffd9"/><rect x="567.50" y="323.00" width="20.25" height="18.88" fill="#ffffd9"/><rect x="587.75" y="323.00" width="20.25" height="18.88" fill="#ffffd9"/><rect x="41.00" y="341.88" width="20.25" height="18.88" fill="#ffffd9"/><rect x="61.25" y="341.88" width="20.25" height="18.88" fill="#1a2b7e"/><rect x="81.50" y="341.88" width="20.25" height="18.88" fill="#d4eeb3"/><rect x="101.75" y="341.88" width="20.25" height="18.88" fill="#f2fabc"/><rect x="122.00" y="341.88" width="20.25" height="18.88" fill="#fdfed5"/><rect x="142.25" y="341.88" width="20.25" height="18.88" fill="#feffd8"/><rect x="162.50" y="341.88" width="20.25" height="18.88" fill="#081d58"/><rect x="182.75" y="341.88" width="20.25" height="18.88" fill="#ceecb3"/><rect x="203.00" y="341.88" width="20.25" height="18.88" fill="#fafdce"/><rect x="223.25" y="341.88" width="20.25" height="18.88" fill="#fafdcf"/><rect x="243.50" y="341.88" width="20.25" height="18.88" fill="#11246b"/><rect x="263.75" y="341.88" width="20.25" height="18.88" fill="#fbfdd0"/><rect x="284.00" y="341.88" width="20.25" height="18.88" fill="#21318d"/><rect x="304.25" y="341.88" width="20.25" height="18.88" fill="#081d58"/><rect x="324.50" y="341.88" width="20.25" height="18.88" fill="#ffffd9"/><rect x="344.75" y="341.88" width="20.25" height="18.88" fill="#fdfed5"/><rect x="365.00" y="341.88" width="20.25" height="18.88" fill="#081d58"/><rect x="385.25" y="341.88" width="20.25" height="18.88" fill="#ffffd9"/><rect x="405.50" y="341.88" width="20.25" height="18.88" fill="#feffd8"/><rect x="425.75" y="341.88" width="20.25" height="18.88" fill="#ffffd9"/><rect x="446.00" y="341.88" width="20.25" height="18.88" fill="#abdeb7"/><rect x="466.25" y="341.88" width="20.25" height="18.88" fill="#1e8bbd"/><rect x="486.50" y="341.88" width="20.25" height="18.88" fill="#0a1e5c"/><rect x="506.75" y="341.88" width="20.25" height="18.88" fill="#a5dcb7"/><rect x="527.00" y="341.88" width="20.25" height="18.88" fill="#081d58"/><rect x="547.25" y="341.88" width="20.25" height="18.88" fill="#206eb0"/><rect x="567.50" y="341.88" width="20.25" height="18.88" fill="#e0f3b2"/><rect x="587.75" y="341.88" width="20.25" height="18.88" fill="#69c5be"/><rect x="41.00" y="360.75" width="20.25" height="18.88" fill="#fdfed4"/><rect x="61.25" y="360.75" width="20.25" height="18.88" fill="#081d58"/><rect x="81.50" y="360.75" width="20.25" height="18.88" fill="#0d2161"/><rect x="101.75" y="360.75" width="20.25" height="18.88" fill="#3eb3c4"/><rect x="122.00" y="360.75" width="20.25" height="18.88" fill="#f9fdcc"/><rect x="142.25" y="360.75" width="20.25" height="18.88" fill="#f9fdcb"/><rect x="162.50" y="360.75" width="20.25" height="18.88" fill="#081d58"/><rect x="182.75" y="360.75" width="20.25" height="18.88" fill="#216aad"/><rect x="203.00" y="360.75" width="20.25" height="18.88" fill="#f3fabd"/><rect x="223.25" y="360.75" width="20.25" height="18.88" fill="#269bc1"/><rect x="243.50" y="360.75" width="20.25" height="18.88" fill="#081d58"/><rect x="263.75" y="360.75" width="20.25" height="18.88" fill="#2fa4c2"/><rect x="284.00" y="360.75" width="20.25" height="18.88" fill="#081d58"/><rect x="304.25" y="360.75" width="20.25" height="18.88" fill="#081d58"/><rect x="324.50" y="360.75" width="20.25" height="18.88" fill="#ffffd9"/><rect x="344.75" y="360.75" width="20.25" height="18.88" fill="#e6f5b2"/><rect x="365.00" y="360.75" width="20.25" height="18.88" fill="#081d58"/><rect x="385.25" y="360.75" width="20.25" height="18.88" fill="#0a1e5c"/><rect x="405.50" y="360.75" width="20.25" height="18.88" fill="#ffffd9"/><rect x="425.75" y="360.75" width="20.25" height="18.88" fill="#fcfed1"/><rect x="446.00" y="360.75" width="20.25" height="18.88" fill="#0a1e5c"/><rect x="466.25" y="360.75" width="20.25" height="18.88" fill="#162874"/><rect x="486.50" y="360.75" width="20.25" height="18.88" fill="#081d58"/><rect x="506.75" y="360.75" width="20.25" height="18.88" fill="#0e2265"/><rect x="527.00" y="360.75" width="20.25" height="18.88" fill="#081d58"/><rect x="547.25" y="360.75" width="20.25" height="18.88" fill="#081d58"/><rect x="567.50" y="360.75" width="20.25" height="18.88" fill="#2498c1"/><rect x="587.75" y="360.75" width="20.25" height="18.88" fill="#0a1e5c"/><rect x="41.00" y="379.62" width="20.25" height="18.88" fill="#f9fdcb"/><rect x="61.25" y="379.62" width="20.25" height="18.88" fill="#081d58"/><rect x="81.50" y="379.62" width="20.25" height="18.88" fill="#081d58"/><rect x="101.75" y="379.62" width="20.25" height="18.88" fill="#233390"/><rect x="122.00" y="379.62" width="20.25" height="18.88" fill="#6fc7bd"/><rect x="142.25" y="379.62" width="20.25" height="18.88" fill="#ecf7b1"/><rect x="162.50" y="379.62" width="20.25" height="18.88" fill="#081d58"/><rect x="182.75" y="379.62" width="20.25" height="18.88" fill="#21318d"/><rect x="203.00" y="379.62" width="20.25" height="18.88" fill="#bbe4b5"/><rect x="223.25" y="379.62" width="20.25" height="18.88" fill="#1d2e83"/><rect x="243.50" y="379.62" width="20.25" height="18.88" fill="#081d58"/><rect x="263.75" y="379.62" width="20.25" height="18.88" fill="#253595"/><rect x="284.00" y="379.62" width="20.25" height="18.88" fill="#081d58"/><rect x="304.25" y="379.62" width="20.25" height="18.88" fill="#081d58"/><rect x="324.50" y="379.62" width="20.25" height="18.88" fill="#f3fabd"/><rect x="344.75" y="379.62" width="20.25" height="18.88" fill="#87d0ba"/><rect x="365.00" y="379.62" width="20.25" height="18.88" fill="#081d58"/><rect x="385.25" y="379.62" width="20.25" height="18.88" fill="#081d58"/><rect x="405.50" y="379.62" width="20.25" height="18.88" fill="#0e2265"/><rect x="425.75" y="379.62" width="20.25" height="18.88" fill="#ffffd9"/><rect x="446.00" y="379.62" width="20.25" height="18.88" fill="#081d58"/><rect x="466.25" y="379.62" width="20.25" height="18.88" fill="#0a1e5c"/><rect x="486.50" y="379.62" width="20.25" height="18.88" fill="#081d58"/><rect x="506.75" y="379.62" width="20.25" height="18.88" fill="#081d58"/><rect x="527.00" y="379.62" width="20.25" height="18.88" fill="#081d58"/><rect x="547.25" y="379.62" width="20.25" height="18.88" fill="#081d58"/><rect x="567.50" y="379.62" width="20.25" height="18.88" fill="#243f99"/><rect x="587.75" y="379.62" width="20.25" height="18.88" fill="#081d58"/><rect x="41.00" y="398.50" width="20.25" height="18.88" fill="#ffffd9"/><rect x="61.25" y="398.50" width="20.25" height="18.88" fill="#081d58"/><rect x="81.50" y="398.50" width="20.25" height="18.88" fill="#1d8ebf"/><rect x="101.75" y="398.50" width="20.25" height="18.88" fill="#d6efb3"/><rect x="122.00" y="398.50" width="20.25" height="18.88" fill="#feffd6"/><rect x="142.25" y="398.50" width="20.25" height="18.88" fill="#feffd8"/><rect x="162.50" y="398.50" width="20.25" height="18.88" fill="#081d58"/><rect x="182.75" y="398.50" width="20.25" height="18.88" fill="#99d7b8"/><rect x="203.00" y="398.50" width="20.25" height="18.88" fill="#fcfed3"/><rect x="223.25" y="398.50" width="20.25" height="18.88" fill="#63c3bf"/><rect x="243.50" y="398.50" width="20.25" height="18.88" fill="#0e2265"/><rect x="263.75" y="398.50" width="20.25" height="18.88" fill="#83cebb"/><rect x="284.00" y="398.50" width="20.25" height="18.88" fill="#11246b"/><rect x="304.25" y="398.50" width="20.25" height="18.88" fill="#081d58"/><rect x="324.50" y="398.50" width="20.25" height="18.88" fill="#ffffd9"/><rect x="344.75" y="398.50" width="20.25" height="18.88" fill="#fbfdd0"/><rect x="365.00" y="398.50" width="20.25" height="18.88" fill="#081d58"/><rect x="385.25" y="398.50" width="20.25" height="18.88" fill="#2076b3"/><rect x="405.50" y="398.50" width="20.25" height="18.88" fill="#feffd6"/><rect x="425.75" y="398.50" width="20.25" height="18.88" fill="#ffffd9"/><rect x="446.00" y="398.50" width="20.25" height="18.88" fill="#ffffd9"/><rect x="466.25" y="398.50" width="20.25" height="18.88" fill="#225aa6"/><rect x="486.50" y="398.50" width="20.25" height="18.88" fill="#081d58"/><rect x="506.75" y="398.50" width="20.25" height="18.88" fill="#eef8b3"/><rect x="527.00" y="398.50" width="20.25" height="18.88" fill="#081d58"/><rect x="547.25" y="398.50" width="20.25" height="18.88" fill="#0d2161"/><rect x="567.50" y="398.50" width="20.25" height="18.88" fill="#caeab4"/><rect x="587.75" y="398.50" width="20.25" height="18.88" fill="#feffd8"/><rect x="41.00" y="417.38" width="20.25" height="18.88" fill="#ffffd9"/><rect x="61.25" y="417.38" width="20.25" height="18.88" fill="#2356a4"/><rect x="81.50" y="417.38" width="20.25" height="18.88" fill="#b7e3b6"/><rect x="101.75" y="417.38" width="20.25" height="18.88" fill="#d0edb3"/><rect x="122.00" y="417.38" width="20.25" height="18.88" fill="#feffd6"/><rect x="142.25" y="417.38" width="20.25" height="18.88" fill="#feffd8"/><rect x="162.50" y="417.38" width="20.25" height="18.88" fill="#11246b"/><rect x="182.75" y="417.38" width="20.25" height="18.88" fill="#f1faba"/><rect x="203.00" y="417.38" width="20.25" height="18.88" fill="#fdfed4"/><rect x="223.25" y="417.38" width="20.25" height="18.88" fill="#d6efb3"/><rect x="243.50" y="417.38" width="20.25" height="18.88" fill="#24439b"/><rect x="263.75" y="417.38" width="20.25" height="18.88" fill="#e3f4b2"/><rect x="284.00" y="417.38" width="20.25" height="18.88" fill="#24479d"/><rect x="304.25" y="417.38" width="20.25" height="18.88" fill="#11246b"/><rect x="324.50" y="417.38" width="20.25" height="18.88" fill="#fcfed3"/><rect x="344.75" y="417.38" width="20.25" height="18.88" fill="#fdfed5"/><rect x="365.00" y="417.38" width="20.25" height="18.88" fill="#0e2265"/><rect x="385.25" y="417.38" width="20.25" height="18.88" fill="#87d0ba"/><rect x="405.50" y="417.38" width="20.25" height="18.88" fill="#f7fcc6"/><rect x="425.75" y="417.38" width="20.25" height="18.88" fill="#feffd6"/><rect x="446.00" y="417.38" width="20.25" height="18.88" fill="#caeab4"/><rect x="466.25" y="417.38" width="20.25" height="18.88" fill="#ffffd9"/><rect x="486.50" y="417.38" width="20.25" height="18.88" fill="#253896"/><rect x="506.75" y="417.38" width="20.25" height="18.88" fill="#bbe4b5"/><rect x="527.00" y="417.38" width="20.25" height="18.88" fill="#172978"/><rect x="547.25" y="417.38" width="20.25" height="18.88" fill="#69c5be"/><rect x="567.50" y="417.38" width="20.25" height="18.88" fill="#fdfed5"/><rect x="587.75" y="417.38" width="20.25" height="18.88" fill="#bbe4b5"/><rect x="41.00" y="436.25" width="20.25" height="18.88" fill="#ffffd9"/><rect x="61.25" y="436.25" width="20.25" height="18.88" fill="#c2e7b4"/><rect x="81.50" y="436.25" width="20.25" height="18.88" fill="#ffffd9"/><rect x="101.75" y="436.25" width="20.25" height="18.88" fill="#ffffd9"/><rect x="122.00" y="436.25" width="20.25" height="18.88" fill="#ffffd9"/><rect x="142.25" y="436.25" width="20.25" height="18.88" fill="#ffffd9"/><rect x="162.50" y="436.25" width="20.25" height="18.88" fill="#69c5be"/><rect x="182.75" y="436.25" width="20.25" height="18.88" fill="#ffffd9"/><rect x="203.00" y="436.25" width="20.25" height="18.88" fill="#ffffd9"/><rect x="223.25" y="436.25" width="20.25" height="18.88" fill="#ffffd9"/><rect x="243.50" y="436.25" width="20.25" height="18.88" fill="#f8fcc9"/><rect x="263.75" y="436.25" width="20.25" height="18.88" fill="#ffffd9"/><rect x="284.00" y="436.25" width="20.25" height="18.88" fill="#f9fdcb"/><rect x="304.25" y="436.25" width="20.25" height="18.88" fill="#1f7ab5"/><rect x="324.50" y="436.25" width="20.25" height="18.88" fill="#ffffd9"/><rect x="344.75" y="436.25" width="20.25" height="18.88" fill="#ffffd9"/><rect x="365.00" y="436.25" width="20.25" height="18.88" fill="#1f7ab5"/><rect x="385.25" y="436.25" width="20.25" height="18.88" fill="#feffd8"/><rect x="405.50" y="436.25" width="20.25" height="18.88" fill="#ffffd9"/><rect x="425.75" y="436.25" width="20.25" height="18.88" fill="#ffffd9"/><rect x="446.00" y="436.25" width="20.25" height="18.88" fill="#ffffd9"/><rect x="466.25" y="436.25" width="20.25" height="18.88" fill="#e9f7b1"/><rect x="486.50" y="436.25" width="20.25" height="18.88" fill="#ffffd9"/><rect x="506.75" y="436.25" width="20.25" height="18.88" fill="#ffffd9"/><rect x="527.00" y="436.25" width="20.25" height="18.88" fill="#63c3bf"/><rect x="547.25" y="436.25" width="20.25" height="18.88" fill="#ffffd9"/><rect x="567.50" y="436.25" width="20.25" height="18.88" fill="#fcfed1"/><rect x="587.75" y="436.25" width="20.25" height="18.88" fill="#ffffd9"/><rect x="41.00" y="455.12" width="20.25" height="18.88" fill="#feffd8"/><rect x="61.25" y="455.12" width="20.25" height="18.88" fill="#0a1e5c"/><rect x="81.50" y="455.12" width="20.25" height="18.88" fill="#2195c0"/><rect x="101.75" y="455.12" width="20.25" height="18.88" fill="#d4eeb3"/><rect x="122.00" y="455.12" width="20.25" height="18.88" fill="#fdfed4"/><rect x="142.25" y="455.12" width="20.25" height="18.88" fill="#fdfed5"/><rect x="162.50" y="455.12" width="20.25" height="18.88" fill="#0a1e5c"/><rect x="182.75" y="455.12" width="20.25" height="18.88" fill="#c2e7b4"/><rect x="203.00" y="455.12" width="20.25" height="18.88" fill="#fcfed1"/><rect x="223.25" y="455.12" width="20.25" height="18.88" fill="#59bfc0"/><rect x="243.50" y="455.12" width="20.25" height="18.88" fill="#172978"/><rect x="263.75" y="455.12" width="20.25" height="18.88" fill="#78cbbc"/><rect x="284.00" y="455.12" width="20.25" height="18.88" fill="#172978"/><rect x="304.25" y="455.12" width="20.25" height="18.88" fill="#0a1e5c"/><rect x="324.50" y="455.12" width="20.25" height="18.88" fill="#ffffd9"/><rect x="344.75" y="455.12" width="20.25" height="18.88" fill="#f9fdcc"/><rect x="365.00" y="455.12" width="20.25" height="18.88" fill="#081d58"/><rect x="385.25" y="455.12" width="20.25" height="18.88" fill="#2076b3"/><rect x="405.50" y="455.12" width="20.25" height="18.88" fill="#fcfed1"/><rect x="425.75" y="455.12" width="20.25" height="18.88" fill="#ffffd9"/><rect x="446.00" y="455.12" width="20.25" height="18.88" fill="#eef8b3"/><rect x="466.25" y="455.12" width="20.25" height="18.88" fill="#2166ac"/><rect x="486.50" y="455.12" width="20.25" height="18.88" fill="#081d58"/><rect x="506.75" y="455.12" width="20.25" height="18.88" fill="#ffffd9"/><rect x="527.00" y="455.12" width="20.25" height="18.88" fill="#081d58"/><rect x="547.25" y="455.12" width="20.25" height="18.88" fill="#0e2265"/><rect x="567.50" y="455.12" width="20.25" height="18.88" fill="#ceecb3"/><rect x="587.75" y="455.12" width="20.25" height="18.88" fill="#f5fbc4"/><rect x="41.00" y="474.00" width="20.25" height="18.88" fill="#ffffd9"/><rect x="61.25" y="474.00" width="20.25" height="18.88" fill="#3eb3c4"/><rect x="81.50" y="474.00" width="20.25" height="18.88" fill="#feffd8"/><rect x="101.75" y="474.00" width="20.25" height="18.88" fill="#feffd8"/><rect x="122.00" y="474.00" width="20.25" height="18.88" fill="#ffffd9"/><rect x="142.25" y="474.00" width="20.25" height="18.88" fill="#ffffd9"/><rect x="162.50" y="474.00" width="20.25" height="18.88" fill="#269bc1"/><rect x="182.75" y="474.00" width="20.25" height="18.88" fill="#feffd8"/><rect x="203.00" y="474.00" width="20.25" height="18.88" fill="#ffffd9"/><rect x="223.25" y="474.00" width="20.25" height="18.88" fill="#ffffd9"/><rect x="243.50" y="474.00" width="20.25" height="18.88" fill="#e3f4b2"/><rect x="263.75" y="474.00" width="20.25" height="18.88" fill="#ffffd9"/><rect x="284.00" y="474.00" width="20.25" height="18.88" fill="#f1faba"/><rect x="304.25" y="474.00" width="20.25" height="18.88" fill="#24439b"/><rect x="324.50" y="474.00" width="20.25" height="18.88" fill="#ffffd9"/><rect x="344.75" y="474.00" width="20.25" height="18.88" fill="#ffffd9"/><rect x="365.00" y="474.00" width="20.25" height="18.88" fill="#1f2f87"/><rect x="385.25" y="474.00" width="20.25" height="18.88" fill="#ffffd9"/><rect x="405.50" y="474.00" width="20.25" height="18.88" fill="#ffffd9"/><rect x="425.75" y="474.00" width="20.25" height="18.88" fill="#ffffd9"/><rect x="446.00" y="474.00" width="20.25" height="18.88" fill="#ffffd9"/><rect x="466.25" y="474.00" width="20.25" height="18.88" fill="#f6fbc5"/><rect x="486.50" y="474.00" width="20.25" height="18.88" fill="#35aac3"/><rect x="506.75" y="474.00" width="20.25" height="18.88" fill="#ffffd9"/><rect x="527.00" y="474.00" width="20.25" height="18.88" fill="#ffffd9"/><rect x="547.25" y="474.00" width="20.25" height="18.88" fill="#ffffd9"/><rect x="567.50" y="474.00" width="20.25" height="18.88" fill="#ffffd9"/><rect x="587.75" y="474.00" width="20.25" height="18.88" fill="#ffffd9"/><rect x="41.00" y="492.88" width="20.25" height="18.88" fill="#ffffd9"/><rect x="61.25" y="492.88" width="20.25" height="18.88" fill="#1a2b7e"/><rect x="81.50" y="492.88" width="20.25" height="18.88" fill="#eef8b3"/><rect x="101.75" y="492.88" width="20.25" height="18.88" fill="#f7fcc7"/><rect x="122.00" y="492.88" width="20.25" height="18.88" fill="#ffffd9"/><rect x="142.25" y="492.88" width="20.25" height="18.88" fill="#ffffd9"/><rect x="162.50" y="492.88" width="20.25" height="18.88" fill="#0d2161"/><rect x="182.75" y="492.88" width="20.25" height="18.88" fill="#e3f4b2"/><rect x="203.00" y="492.88" width="20.25" height="18.88" fill="#feffd6"/><rect x="223.25" y="492.88" width="20.25" height="18.88" fill="#dcf1b2"/><rect x="243.50" y="492.88" width="20.25" height="18.88" fill="#2354a3"/><rect x="263.75" y="492.88" width="20.25" height="18.88" fill="#ecf7b1"/><rect x="284.00" y="492.88" width="20.25" height="18.88" fill="#225da8"/><rect x="304.25" y="492.88" width="20.25" height="18.88" fill="#0a1e5c"/><rect x="324.50" y="492.88" width="20.25" height="18.88" fill="#ffffd9"/><rect x="344.75" y="492.88" width="20.25" height="18.88" fill="#ffffd9"/><rect x="365.00" y="492.88" width="20.25" height="18.88" fill="#081d58"/><rect x="385.25" y="492.88" width="20.25" height="18.88" fill="#b0e0b6"/><rect x="405.50" y="492.88" width="20.25" height="18.88" fill="#ffffd9"/><rect x="425.75" y="492.88" width="20.25" height="18.88" fill="#ffffd9"/><rect x="446.00" y="492.88" width="20.25" height="18.88" fill="#fdfed4"/><rect x="466.25" y="492.88" width="20.25" height="18.88" fill="#2da2c2"/><rect x="486.50" y="492.88" width="20.25" height="18.88" fill="#0a1e5c"/><rect x="506.75" y="492.88" width="20.25" height="18.88" fill="#fbfdd0"/><rect x="527.00" y="492.88" width="20.25" height="18.88" fill="#081d58"/><rect x="547.25" y="492.88" width="20.25" height="18.88" fill="#ffffd9"/><rect x="567.50" y="492.88" width="20.25" height="18.88" fill="#f9fdcb"/><rect x="587.75" y="492.88" width="20.25" height="18.88" fill="#fcfed1"/><rect x="41.00" y="511.75" width="20.25" height="18.88" fill="#f9fdcb"/><rect x="61.25" y="511.75" width="20.25" height="18.88" fill="#0e2265"/><rect x="81.50" y="511.75" width="20.25" height="18.88" fill="#1f7ab5"/><rect x="101.75" y="511.75" width="20.25" height="18.88" fill="#1e8bbd"/><rect x="122.00" y="511.75" width="20.25" height="18.88" fill="#eff9b6"/><rect x="142.25" y="511.75" width="20.25" height="18.88" fill="#f4fbc1"/><rect x="162.50" y="511.75" width="20.25" height="18.88" fill="#0a1e5c"/><rect x="182.75" y="511.75" width="20.25" height="18.88" fill="#6fc7bd"/><rect x="203.00" y="511.75" width="20.25" height="18.88" fill="#ecf7b1"/><rect x="223.25" y="511.75" width="20.25" height="18.88" fill="#2195c0"/><rect x="243.50" y="511.75" width="20.25" height="18.88" fill="#11246b"/><rect x="263.75" y="511.75" width="20.25" height="18.88" fill="#35aac3"/><rect x="284.00" y="511.75" width="20.25" height="18.88" fill="#11246b"/><rect x="304.25" y="511.75" width="20.25" height="18.88" fill="#081d58"/><rect x="324.50" y="511.75" width="20.25" height="18.88" fill="#d6efb3"/><rect x="344.75" y="511.75" width="20.25" height="18.88" fill="#dcf1b2"/><rect x="365.00" y="511.75" width="20.25" height="18.88" fill="#081d58"/><rect x="385.25" y="511.75" width="20.25" height="18.88" fill="#24439b"/><rect x="405.50" y="511.75" width="20.25" height="18.88" fill="#73c8bd"/><rect x="425.75" y="511.75" width="20.25" height="18.88" fill="#e6f5b2"/><rect x="446.00" y="511.75" width="20.25" height="18.88" fill="#225aa6"/><rect x="466.25" y="511.75" width="20.25" height="18.88" fill="#0a1e5c"/><rect x="486.50" y="511.75" width="20.25" height="18.88" fill="#0e2265"/><rect x="506.75" y="511.75" width="20.25" height="18.88" fill="#2356a4"/><rect x="527.00" y="511.75" width="20.25" height="18.88" fill="#081d58"/><rect x="547.25" y="511.75" width="20.25" height="18.88" fill="#13266f"/><rect x="567.50" y="511.75" width="20.25" height="18.88" fill="#ffffd9"/><rect x="587.75" y="511.75" width="20.25" height="18.88" fill="#2350a1"/><rect x="41.00" y="530.62" width="20.25" height="18.88" fill="#ffffd9"/><rect x="61.25" y="530.62" width="20.25" height="18.88" fill="#0a1e5c"/><rect x="81.50" y="530.62" width="20.25" height="18.88" fill="#39adc3"/><rect x="101.75" y="530.62" width="20.25" height="18.88" fill="#e6f5b2"/><rect x="122.00" y="530.62" width="20.25" height="18.88" fill="#feffd6"/><rect x="142.25" y="530.62" width="20.25" height="18.88" fill="#feffd8"/><rect x="162.50" y="530.62" width="20.25" height="18.88" fill="#081d58"/><rect x="182.75" y="530.62" width="20.25" height="18.88" fill="#b7e3b6"/><rect x="203.00" y="530.62" width="20.25" height="18.88" fill="#fdfed4"/><rect x="223.25" y="530.62" width="20.25" height="18.88" fill="#69c5be"/><rect x="243.50" y="530.62" width="20.25" height="18.88" fill="#162874"/><rect x="263.75" y="530.62" width="20.25" height="18.88" fill="#83cebb"/><rect x="284.00" y="530.62" width="20.25" height="18.88" fill="#172978"/><rect x="304.25" y="530.62" width="20.25" height="18.88" fill="#081d58"/><rect x="324.50" y="530.62" width="20.25" height="18.88" fill="#ffffd9"/><rect x="344.75" y="530.62" width="20.25" height="18.88" fill="#fcfed1"/><rect x="365.00" y="530.62" width="20.25" height="18.88" fill="#081d58"/><rect x="385.25" y="530.62" width="20.25" height="18.88" fill="#2a9ec1"/><rect x="405.50" y="530.62" width="20.25" height="18.88" fill="#feffd8"/><rect x="425.75" y="530.62" width="20.25" height="18.88" fill="#ffffd9"/><rect x="446.00" y="530.62" width="20.25" height="18.88" fill="#ffffd9"/><rect x="466.25" y="530.62" width="20.25" height="18.88" fill="#2166ac"/><rect x="486.50" y="530.62" width="20.25" height="18.88" fill="#081d58"/><rect x="506.75" y="530.62" width="20.25" height="18.88" fill="#fdfed4"/><rect x="527.00" y="530.62" width="20.25" height="18.88" fill="#081d58"/><rect x="547.25" y="530.62" width="20.25" height="18.88" fill="#0e2265"/><rect x="567.50" y="530.62" width="20.25" height="18.88" fill="#d4eeb3"/><rect x="587.75" y="530.62" width="20.25" height="18.88" fill="#ffffd9"/></g><g transform="scale(0.9,1)" font-size="7.0" font-weight="bold" text-anchor="middle"><g fill="#262626" stroke="#262626" stroke-width="0.2" stroke-linejoin="round"><text x="56.81" y="32.74">0</text><text x="56.81" y="51.61">0</text><text x="79.31" y="51.61">0</text><text x="101.81" y="51.61">0.023</text><text x="124.31" y="51.61">0.0014</text><text x="146.81" y="51.61">0</text><text x="169.31" y="51.61">0</text><text x="214.31" y="51.61">0.0019</text><text x="236.81" y="51.61">2e-05</text><text x="259.31" y="51.61">0.015</text><text x="281.81" y="51.61">0.39</text><text x="304.31" y="51.61">0.009</text><text x="326.81" y="51.61">0.25</text><text x="371.81" y="51.61">0</text><text x="394.31" y="51.61">0.0025</text><text x="439.31" y="51.61">0.076</text><text x="461.81" y="51.61">0.00024</text><text x="484.31" y="51.61">0</text><text x="506.81" y="51.61">0.0042</text><text x="529.31" y="51.61">0.23</text><text x="574.31" y="51.61">0.008</text><text x="619.31" y="51.61">0.083</text><text x="641.81" y="51.61">0.015</text><text x="664.31" y="51.61">0.0056</text><text x="56.81" y="70.49">0</text><text x="101.81" y="70.49">0</text><text x="124.31" y="70.49">0.17</text><text x="146.81" y="70.49">0.001</text><text x="169.31" y="70.49">2e-05</text><text x="214.31" y="70.49">0.31</text><text x="236.81" y="70.49">0.015</text><text x="259.31" y="70.49">0.21</text><text x="304.31" y="70.49">0.15</text><text x="371.81" y="70.49">0.001</text><text x="394.31" y="70.49">0.031</text><text x="461.81" y="70.49">0.024</text><text x="484.31" y="70.49">0.00034</text><text x="506.81" y="70.49">0.37</text><text x="574.31" y="70.49">0.39</text><text x="641.81" y="70.49">0.32</text><text x="664.31" y="70.49">0.47</text><text x="56.81" y="89.36">2e-05</text><text x="124.31" y="89.36">0</text><text x="146.81" y="89.36">0.012</text><text x="169.31" y="89.36">0.002</text><text x="236.81" y="89.36">0.05</text><text x="259.31" y="89.36">0.47</text><text x="304.31" y="89.36">0.24</text><text x="371.81" y="89.36">0.035</text><text x="394.31" y="89.36">0.095</text><text x="484.31" y="89.36">0.12</text><text x="641.81" y="89.36">0.36</text><text x="56.81" y="108.24">0</text><text x="146.81" y="108.24">0</text><text x="169.31" y="108.24">0.011</text><text x="236.81" y="108.24">0.31</text><text x="371.81" y="108.24">0.46</text><text x="56.81" y="127.11">0.019</text><text x="169.31" y="127.11">0</text><text x="56.81" y="145.99">0</text><text x="79.31" y="145.99">0.33</text><text x="101.81" y="145.99">0.0019</text><text x="124.31" y="145.99">0.0031</text><text x="146.81" y="145.99">0</text><text x="169.31" y="145.99">0</text><text x="191.81" y="145.99">0</text><text x="214.31" y="145.99">0.0088</text><text x="236.81" y="145.99">0.00022</text><text x="259.31" y="145.99">0.00016</text><text x="281.81" y="145.99">0.11</text><text x="304.31" y="145.99">8e-05</text><text x="326.81" y="145.99">0.053</text><text x="371.81" y="145.99">0</text><text x="394.31" y="145.99">0.0001</text><text x="439.31" y="145.99">0.002</text><text x="461.81" y="145.99">0</text><text x="484.31" y="145.99">0</text><text x="506.81" y="145.99">0.0018</text><text x="529.31" y="145.99">0.035</text><text x="574.31" y="145.99">0.0096</text><text x="596.81" y="145.99">0.4</text><text x="619.31" y="145.99">0.017</text><text x="641.81" y="145.99">0.0064</text><text x="664.31" y="145.99">0.004</text><text x="56.81" y="164.86">0</text><text x="146.81" y="164.86">0.0024</text><text x="169.31" y="164.86">0</text><text x="214.31" y="164.86">0</text><text x="236.81" y="164.86">6e-05</text><text x="304.31" y="164.86">0.41</text><text x="371.81" y="164.86">0.036</text><text x="394.31" y="164.86">0.15</text><text x="461.81" y="164.86">0.28</text><text x="484.31" y="164.86">0.11</text><text x="56.81" y="183.74">0.026</text><text x="169.31" y="183.74">0.34</text><text x="236.81" y="183.74">0</text><text x="56.81" y="202.61">0.0029</text><text x="146.81" y="202.61">0.041</text><text x="169.31" y="202.61">0.011</text><text x="214.31" y="202.61">0.46</text><text x="236.81" y="202.61">0.11</text><text x="259.31" y="202.61">0</text><text x="304.31" y="202.61">0</text><text x="371.81" y="202.61">0.068</text><text x="394.31" y="202.61">0.13</text><text x="461.81" y="202.61">0.41</text><text x="484.31" y="202.61">0.094</text><text x="641.81" y="202.61">0.39</text><text x="56.81" y="221.49">0</text><text x="101.81" y="221.49">0.00046</text><text x="124.31" y="221.49">0.013</text><text x="146.81" y="221.49">0</text><text x="169.31" y="221.49">0</text><text x="214.31" y="221.49">0.042</text><text x="236.81" y="221.49">0.0014</text><text x="259.31" y="221.49">2e-05</text><text x="281.81" y="221.49">0</text><text x="304.31" y="221.49">0</text><text x="326.81" y="221.49">0.0021</text><text x="371.81" y="221.49">0</text><text x="394.31" y="221.49">0.00032</text><text x="439.31" y="221.49">0.0049</text><text x="461.81" y="221.49">0.00014</text><text x="484.31" y="221.49">0</text><text x="506.81" y="221.49">0.029</text><text x="529.31" y="221.49">0.16</text><text x="574.31" y="221.49">0.069</text><text x="619.31" y="221.49">0.22</text><text x="641.81" y="221.49">0.036</text><text x="664.31" y="221.49">0.063</text><text x="56.81" y="240.36">0.011</text><text x="146.81" y="240.36">0.1</text><text x="169.31" y="240.36">0.038</text><text x="236.81" y="240.36">0.2</text><text x="259.31" y="240.36">0.19</text><text x="304.31" y="240.36">0</text><text x="371.81" y="240.36">0.13</text><text x="394.31" y="240.36">0.21</text><text x="461.81" y="240.36">0.44</text><text x="484.31" y="240.36">0.13</text><text x="641.81" y="240.36">0.46</text><text x="56.81" y="259.24">0</text><text x="101.81" y="259.24">0.00058</text><text x="124.31" y="259.24">0.026</text><text x="146.81" y="259.24">2e-05</text><text x="169.31" y="259.24">0</text><text x="214.31" y="259.24">0.051</text><text x="236.81" y="259.24">0.0019</text><text x="259.31" y="259.24">0.00032</text><text x="281.81" y="259.24">0.29</text><text x="304.31" y="259.24">0</text><text x="326.81" y="259.24">0</text><text x="371.81" y="259.24">0.0001</text><text x="394.31" y="259.24">0.00042</text><text x="439.31" y="259.24">0.085</text><text x="461.81" y="259.24">0.00078</text><text x="484.31" y="259.24">0</text><text x="506.81" y="259.24">0.042</text><text x="529.31" y="259.24">0.18</text><text x="574.31" y="259.24">0.074</text><text x="619.31" y="259.24">0.25</text><text x="641.81" y="259.24">0.039</text><text x="664.31" y="259.24">0.069</text><text x="56.81" y="278.11">0</text><text x="79.31" y="278.11">0.21</text><text x="101.81" y="278.11">0</text><text x="124.31" y="278.11">0.0028</text><text x="146.81" y="278.11">0</text><text x="169.31" y="278.11">0</text><text x="191.81" y="278.11">0.35</text><text x="214.31" y="278.11">0.0023</text><text x="236.81" y="278.11">0.00018</text><text x="259.31" y="278.11">0</text><text x="281.81" y="278.11">0.00052</text><text x="304.31" y="278.11">0</text><text x="326.81" y="278.11">0</text><text x="349.31" y="278.11">0</text><text x="371.81" y="278.11">0</text><text x="394.31" y="278.11">0</text><text x="416.81" y="278.11">0.47</text><text x="439.31" y="278.11">0.00018</text><text x="461.81" y="278.11">2e-05</text><text x="484.31" y="278.11">0</text><text x="506.81" y="278.11">0.002</text><text x="529.31" y="278.11">0.044</text><text x="551.81" y="278.11">0.32</text><text x="574.31" y="278.11">0.0062</text><text x="596.81" y="278.11">0.17</text><text x="619.31" y="278.11">0.011</text><text x="641.81" y="278.11">0.00018</text><text x="664.31" y="278.11">0.003</text><text x="56.81" y="296.99">0.18</text><text x="169.31" y="296.99">0.41</text><text x="371.81" y="296.99">0</text><text x="56.81" y="315.86">0.17</text><text x="146.81" y="315.86">0.47</text><text x="169.31" y="315.86">0.27</text><text x="236.81" y="315.86">0.35</text><text x="371.81" y="315.86">0.43</text><text x="394.31" y="315.86">0</text><text x="56.81" y="334.74">0</text><text x="79.31" y="334.74">0.28</text><text x="101.81" y="334.74">6e-05</text><text x="124.31" y="334.74">0.00096</text><text x="146.81" y="334.74">0</text><text x="169.31" y="334.74">0</text><text x="191.81" y="334.74">0.25</text><text x="214.31" y="334.74">0.0019</text><text x="236.81" y="334.74">2e-05</text><text x="259.31" y="334.74">4e-05</text><text x="281.81" y="334.74">0.067</text><text x="304.31" y="334.74">0</text><text x="326.81" y="334.74">0.013</text><text x="371.81" y="334.74">0</text><text x="394.31" y="334.74">4e-05</text><text x="416.81" y="334.74">0</text><text x="439.31" y="334.74">0.0032</text><text x="461.81" y="334.74">0</text><text x="484.31" y="334.74">0</text><text x="506.81" y="334.74">0</text><text x="529.31" y="334.74">0.026</text><text x="551.81" y="334.74">0.27</text><text x="574.31" y="334.74">0.00046</text><text x="596.81" y="334.74">0.1</text><text x="619.31" y="334.74">0.0012</text><text x="641.81" y="334.74">0.0032</text><text x="664.31" y="334.74">0.00028</text><text x="56.81" y="353.61">0.0015</text><text x="101.81" y="353.61">0.21</text><text x="124.31" y="353.61">0.092</text><text x="146.81" y="353.61">0.013</text><text x="169.31" y="353.61">0.0053</text><text x="214.31" y="353.61">0.23</text><text x="236.81" y="353.61">0.038</text><text x="259.31" y="353.61">0.034</text><text x="304.31" y="353.61">0.028</text><text x="371.81" y="353.61">0.0012</text><text x="394.31" y="353.61">0.013</text><text x="439.31" y="353.61">0</text><text x="461.81" y="353.61">0.0074</text><text x="484.31" y="353.61">0</text><text x="506.81" y="353.61">0.3</text><text x="574.31" y="353.61">0.31</text><text x="641.81" y="353.61">0.17</text><text x="664.31" y="353.61">0.42</text><text x="56.81" y="372.49">0.016</text><text x="146.81" y="372.49">0.042</text><text x="169.31" y="372.49">0.046</text><text x="236.81" y="372.49">0.088</text><text x="371.81" y="372.49">0.0016</text><text x="394.31" y="372.49">0.15</text><text x="461.81" y="372.49">0</text><text x="484.31" y="372.49">0.025</text><text x="56.81" y="391.36">0.046</text><text x="146.81" y="391.36">0.41</text><text x="169.31" y="391.36">0.13</text><text x="236.81" y="391.36">0.27</text><text x="371.81" y="391.36">0.088</text><text x="394.31" y="391.36">0.36</text><text x="484.31" y="391.36">0</text><text x="56.81" y="410.24">0.0017</text><text x="124.31" y="410.24">0.2</text><text x="146.81" y="410.24">0.011</text><text x="169.31" y="410.24">0.005</text><text x="214.31" y="410.24">0.33</text><text x="236.81" y="410.24">0.023</text><text x="259.31" y="410.24">0.43</text><text x="304.31" y="410.24">0.37</text><text x="371.81" y="410.24">0</text><text x="394.31" y="410.24">0.029</text><text x="461.81" y="410.24">0.0082</text><text x="484.31" y="410.24">2e-05</text><text x="506.81" y="410.24">0</text><text x="574.31" y="410.24">0.12</text><text x="641.81" y="410.24">0.24</text><text x="664.31" y="410.24">0.0075</text><text x="56.81" y="429.11">0.0036</text><text x="101.81" y="429.11">0.28</text><text x="124.31" y="429.11">0.22</text><text x="146.81" y="429.11">0.011</text><text x="169.31" y="429.11">0.0058</text><text x="214.31" y="429.11">0.099</text><text x="236.81" y="429.11">0.019</text><text x="259.31" y="429.11">0.2</text><text x="304.31" y="429.11">0.16</text><text x="371.81" y="429.11">0.02</text><text x="394.31" y="429.11">0.014</text><text x="439.31" y="429.11">0.36</text><text x="461.81" y="429.11">0.06</text><text x="484.31" y="429.11">0.011</text><text x="506.81" y="429.11">0.24</text><text x="529.31" y="429.11">0</text><text x="574.31" y="429.11">0.27</text><text x="619.31" y="429.11">0.42</text><text x="641.81" y="429.11">0.012</text><text x="664.31" y="429.11">0.27</text><text x="56.81" y="447.99">0</text><text x="79.31" y="447.99">0.26</text><text x="101.81" y="447.99">0</text><text x="124.31" y="447.99">0.0015</text><text x="146.81" y="447.99">0</text><text x="169.31" y="447.99">0</text><text x="191.81" y="447.99">0.42</text><text x="214.31" y="447.99">0.00084</text><text x="236.81" y="447.99">4e-05</text><text x="259.31" y="447.99">0</text><text x="281.81" y="447.99">0.052</text><text x="304.31" y="447.99">0</text><text x="326.81" y="447.99">0.043</text><text x="371.81" y="447.99">0</text><text x="394.31" y="447.99">0.0001</text><text x="439.31" y="447.99">0.0074</text><text x="461.81" y="447.99">0</text><text x="484.31" y="447.99">0</text><text x="506.81" y="447.99">0</text><text x="529.31" y="447.99">0.14</text><text x="551.81" y="447.99">0</text><text x="574.31" y="447.99">0.00036</text><text x="596.81" y="447.99">0.43</text><text x="619.31" y="447.99">0.0022</text><text x="641.81" y="447.99">0.027</text><text x="664.31" y="447.99">0.00014</text><text x="56.81" y="466.86">0.0047</text><text x="124.31" y="466.86">0.21</text><text x="146.81" y="466.86">0.019</text><text x="169.31" y="466.86">0.012</text><text x="214.31" y="466.86">0.26</text><text x="236.81" y="466.86">0.025</text><text x="259.31" y="466.86">0.45</text><text x="304.31" y="466.86">0.39</text><text x="371.81" y="466.86">0</text><text x="394.31" y="466.86">0.04</text><text x="461.81" y="466.86">0.027</text><text x="484.31" y="466.86">0.0018</text><text x="506.81" y="466.86">0.12</text><text x="574.31" y="466.86">0</text><text x="641.81" y="466.86">0.23</text><text x="664.31" y="466.86">0.067</text><text x="56.81" y="485.74">0</text><text x="101.81" y="485.74">0.0049</text><text x="124.31" y="485.74">0.0059</text><text x="146.81" y="485.74">2e-05</text><text x="169.31" y="485.74">0</text><text x="214.31" y="485.74">0.0058</text><text x="236.81" y="485.74">0.0009</text><text x="259.31" y="485.74">0.0029</text><text x="281.81" y="485.74">0.16</text><text x="304.31" y="485.74">0.0022</text><text x="326.81" y="485.74">0.1</text><text x="371.81" y="485.74">0</text><text x="394.31" y="485.74">0</text><text x="439.31" y="485.74">0.0017</text><text x="461.81" y="485.74">0</text><text x="484.31" y="485.74">0</text><text x="506.81" y="485.74">2e-05</text><text x="529.31" y="485.74">0.064</text><text x="574.31" y="485.74">0.00038</text><text x="596.81" y="485.74">0</text><text x="619.31" y="485.74">0.00044</text><text x="641.81" y="485.74">0.00028</text><text x="664.31" y="485.74">0</text><text x="56.81" y="504.61">0.0005</text><text x="101.81" y="504.61">0.12</text><text x="124.31" y="504.61">0.055</text><text x="146.81" y="504.61">0.0028</text><text x="169.31" y="504.61">0.0018</text><text x="214.31" y="504.61">0.16</text><text x="236.81" y="504.61">0.0097</text><text x="259.31" y="504.61">0.18</text><text x="304.31" y="504.61">0.13</text><text x="371.81" y="504.61">2e-05</text><text x="394.31" y="504.61">0.002</text><text x="439.31" y="504.61">0.29</text><text x="461.81" y="504.61">0.0002</text><text x="484.31" y="504.61">0</text><text x="506.81" y="504.61">0.019</text><text x="574.31" y="504.61">0.031</text><text x="619.31" y="504.61">0</text><text x="641.81" y="504.61">0.044</text><text x="664.31" y="504.61">0.026</text><text x="56.81" y="523.49">0.045</text><text x="146.81" y="523.49">0.11</text><text x="169.31" y="523.49">0.077</text><text x="214.31" y="523.49">0.41</text><text x="236.81" y="523.49">0.13</text><text x="371.81" y="523.49">0.2</text><text x="394.31" y="523.49">0.18</text><text x="461.81" y="523.49">0.4</text><text x="484.31" y="523.49">0.15</text><text x="641.81" y="523.49">0</text><text x="56.81" y="542.36">0.0012</text><text x="124.31" y="542.36">0.15</text><text x="146.81" y="542.36">0.0096</text><text x="169.31" y="542.36">0.0071</text><text x="214.31" y="542.36">0.28</text><text x="236.81" y="542.36">0.018</text><text x="259.31" y="542.36">0.42</text><text x="304.31" y="542.36">0.37</text><text x="371.81" y="542.36">0</text><text x="394.31" y="542.36">0.024</text><text x="461.81" y="542.36">0.0067</text><text x="484.31" y="542.36">0.0001</text><text x="506.81" y="542.36">0.00052</text><text x="574.31" y="542.36">0.017</text><text x="641.81" y="542.36">0.21</text><text x="664.31" y="542.36">0</text></g><g fill="#fff" stroke="#fff" stroke-width="0.0" stroke-linejoin="round"><text x="79.31" y="32.74">1</text><text x="101.81" y="32.74">1</text><text x="124.31" y="32.74">1</text><text x="146.81" y="32.74">0.9</text><text x="169.31" y="32.74">0.7</text><text x="191.81" y="32.74">1</text><text x="214.31" y="32.74">1</text><text x="236.81" y="32.74">0.97</text><text x="259.31" y="32.74">1</text><text x="281.81" y="32.74">1</text><text x="304.31" y="32.74">0.99</text><text x="326.81" y="32.74">1</text><text x="349.31" y="32.74">1</text><text x="371.81" y="32.74">0.82</text><text x="394.31" y="32.74">0.83</text><text x="416.81" y="32.74">1</text><text x="439.31" y="32.74">1</text><text x="461.81" y="32.74">0.98</text><text x="484.31" y="32.74">0.95</text><text x="506.81" y="32.74">1</text><text x="529.31" y="32.74">1</text><text x="551.81" y="32.74">1</text><text x="574.31" y="32.74">1</text><text x="596.81" y="32.74">1</text><text x="619.31" y="32.74">1</text><text x="641.81" y="32.74">0.95</text><text x="664.31" y="32.74">1</text><text x="191.81" y="51.61">0.67</text><text x="349.31" y="51.61">0.79</text><text x="416.81" y="51.61">0.72</text><text x="551.81" y="51.61">0.74</text><text x="596.81" y="51.61">0.49</text><text x="79.31" y="70.49">0.98</text><text x="191.81" y="70.49">1</text><text x="281.81" y="70.49">1</text><text x="326.81" y="70.49">1</text><text x="349.31" y="70.49">1</text><text x="416.81" y="70.49">1</text><text x="439.31" y="70.49">0.79</text><text x="529.31" y="70.49">0.72</text><text x="551.81" y="70.49">1</text><text x="596.81" y="70.49">1</text><text x="619.31" y="70.49">0.88</text><text x="79.31" y="89.36">1</text><text x="101.81" y="89.36">0.83</text><text x="191.81" y="89.36">1</text><text x="214.31" y="89.36">0.5</text><text x="281.81" y="89.36">0.99</text><text x="326.81" y="89.36">0.97</text><text x="349.31" y="89.36">1</text><text x="416.81" y="89.36">1</text><text x="439.31" y="89.36">0.91</text><text x="461.81" y="89.36">0.49</text><text x="506.81" y="89.36">0.8</text><text x="529.31" y="89.36">0.78</text><text x="551.81" y="89.36">1</text><text x="574.31" y="89.36">0.79</text><text x="596.81" y="89.36">0.99</text><text x="619.31" y="89.36">0.94</text><text x="664.31" y="89.36">0.85</text><text x="79.31" y="108.24">1</text><text x="101.81" y="108.24">1</text><text x="124.31" y="108.24">0.99</text><text x="191.81" y="108.24">1</text><text x="214.31" y="108.24">1</text><text x="259.31" y="108.24">0.96</text><text x="281.81" y="108.24">1</text><text x="304.31" y="108.24">0.9</text><text x="326.81" y="108.24">1</text><text x="349.31" y="108.24">1</text><text x="394.31" y="108.24">0.53</text><text x="416.81" y="108.24">1</text><text x="439.31" y="108.24">0.99</text><text x="461.81" y="108.24">0.96</text><text x="484.31" y="108.24">0.5</text><text x="506.81" y="108.24">0.99</text><text x="529.31" y="108.24">0.99</text><text x="551.81" y="108.24">1</text><text x="574.31" y="108.24">0.98</text><text x="596.81" y="108.24">1</text><text x="619.31" y="108.24">1</text><text x="641.81" y="108.24">0.89</text><text x="664.31" y="108.24">0.99</text><text x="79.31" y="127.11">1</text><text x="101.81" y="127.11">1</text><text x="124.31" y="127.11">1</text><text x="146.81" y="127.11">0.71</text><text x="191.81" y="127.11">1</text><text x="214.31" y="127.11">1</text><text x="236.81" y="127.11">0.63</text><text x="259.31" y="127.11">0.99</text><text x="281.81" y="127.11">1</text><text x="304.31" y="127.11">0.96</text><text x="326.81" y="127.11">1</text><text x="349.31" y="127.11">1</text><text x="371.81" y="127.11">0.59</text><text x="394.31" y="127.11">0.73</text><text x="416.81" y="127.11">1</text><text x="439.31" y="127.11">0.99</text><text x="461.81" y="127.11">0.95</text><text x="484.31" y="127.11">0.86</text><text x="506.81" y="127.11">0.99</text><text x="529.31" y="127.11">0.99</text><text x="551.81" y="127.11">1</text><text x="574.31" y="127.11">0.99</text><text x="596.81" y="127.11">1</text><text x="619.31" y="127.11">1</text><text x="641.81" y="127.11">0.92</text><text x="664.31" y="127.11">0.99</text><text x="349.31" y="145.99">0.65</text><text x="416.81" y="145.99">0.73</text><text x="551.81" y="145.99">0.58</text><text x="79.31" y="164.86">1</text><text x="101.81" y="164.86">0.69</text><text x="124.31" y="164.86">0.5</text><text x="191.81" y="164.86">0.99</text><text x="259.31" y="164.86">0.54</text><text x="281.81" y="164.86">0.96</text><text x="326.81" y="164.86">0.95</text><text x="349.31" y="164.86">1</text><text x="416.81" y="164.86">1</text><text x="439.31" y="164.86">0.77</text><text x="506.81" y="164.86">0.67</text><text x="529.31" y="164.86">0.9</text><text x="551.81" y="164.86">1</text><text x="574.31" y="164.86">0.74</text><text x="596.81" y="164.86">0.99</text><text x="619.31" y="164.86">0.84</text><text x="641.81" y="164.86">0.59</text><text x="664.31" y="164.86">0.72</text><text x="79.31" y="183.74">1</text><text x="101.81" y="183.74">0.98</text><text x="124.31" y="183.74">0.95</text><text x="146.81" y="183.74">0.66</text><text x="191.81" y="183.74">1</text><text x="214.31" y="183.74">1</text><text x="259.31" y="183.74">0.89</text><text x="281.81" y="183.74">1</text><text x="304.31" y="183.74">0.8</text><text x="326.81" y="183.74">1</text><text x="349.31" y="183.74">1</text><text x="371.81" y="183.74">0.57</text><text x="394.31" y="183.74">0.65</text><text x="416.81" y="183.74">1</text><text x="439.31" y="183.74">0.96</text><text x="461.81" y="183.74">0.91</text><text x="484.31" y="183.74">0.73</text><text x="506.81" y="183.74">0.98</text><text x="529.31" y="183.74">0.98</text><text x="551.81" y="183.74">1</text><text x="574.31" y="183.74">0.97</text><text x="596.81" y="183.74">1</text><text x="619.31" y="183.74">0.99</text><text x="641.81" y="183.74">0.87</text><text x="664.31" y="183.74">0.98</text><text x="79.31" y="202.61">0.98</text><text x="101.81" y="202.61">0.79</text><text x="124.31" y="202.61">0.53</text><text x="191.81" y="202.61">1</text><text x="281.81" y="202.61">1</text><text x="326.81" y="202.61">1</text><text x="349.31" y="202.61">1</text><text x="416.81" y="202.61">1</text><text x="439.31" y="202.61">0.96</text><text x="506.81" y="202.61">0.57</text><text x="529.31" y="202.61">0.8</text><text x="551.81" y="202.61">1</text><text x="574.31" y="202.61">0.55</text><text x="596.81" y="202.61">1</text><text x="619.31" y="202.61">0.82</text><text x="664.31" y="202.61">0.58</text><text x="79.31" y="221.49">0.61</text><text x="191.81" y="221.49">0.89</text><text x="349.31" y="221.49">1</text><text x="416.81" y="221.49">0.93</text><text x="551.81" y="221.49">0.95</text><text x="596.81" y="221.49">0.83</text><text x="79.31" y="240.36">0.99</text><text x="101.81" y="240.36">0.85</text><text x="124.31" y="240.36">0.76</text><text x="191.81" y="240.36">1</text><text x="214.31" y="240.36">0.59</text><text x="281.81" y="240.36">1</text><text x="326.81" y="240.36">1</text><text x="349.31" y="240.36">1</text><text x="416.81" y="240.36">1</text><text x="439.31" y="240.36">0.97</text><text x="506.81" y="240.36">0.63</text><text x="529.31" y="240.36">0.84</text><text x="551.81" y="240.36">1</text><text x="574.31" y="240.36">0.61</text><text x="596.81" y="240.36">1</text><text x="619.31" y="240.36">0.87</text><text x="664.31" y="240.36">0.53</text><text x="79.31" y="259.24">0.74</text><text x="191.81" y="259.24">0.95</text><text x="349.31" y="259.24">1</text><text x="416.81" y="259.24">0.97</text><text x="551.81" y="259.24">0.96</text><text x="596.81" y="259.24">0.9</text><text x="79.31" y="296.99">1</text><text x="101.81" y="296.99">1</text><text x="124.31" y="296.99">0.95</text><text x="146.81" y="296.99">0.54</text><text x="191.81" y="296.99">1</text><text x="214.31" y="296.99">0.96</text><text x="236.81" y="296.99">0.63</text><text x="259.31" y="296.99">0.93</text><text x="281.81" y="296.99">1</text><text x="304.31" y="296.99">0.87</text><text x="326.81" y="296.99">1</text><text x="349.31" y="296.99">1</text><text x="394.31" y="296.99">0.57</text><text x="416.81" y="296.99">1</text><text x="439.31" y="296.99">1</text><text x="461.81" y="296.99">1</text><text x="484.31" y="296.99">0.91</text><text x="506.81" y="296.99">1</text><text x="529.31" y="296.99">0.98</text><text x="551.81" y="296.99">1</text><text x="574.31" y="296.99">1</text><text x="596.81" y="296.99">1</text><text x="619.31" y="296.99">1</text><text x="641.81" y="296.99">0.8</text><text x="664.31" y="296.99">1</text><text x="79.31" y="315.86">1</text><text x="101.81" y="315.86">0.97</text><text x="124.31" y="315.86">0.9</text><text x="191.81" y="315.86">1</text><text x="214.31" y="315.86">0.85</text><text x="259.31" y="315.86">0.87</text><text x="281.81" y="315.86">1</text><text x="304.31" y="315.86">0.79</text><text x="326.81" y="315.86">1</text><text x="349.31" y="315.86">1</text><text x="416.81" y="315.86">1</text><text x="439.31" y="315.86">0.99</text><text x="461.81" y="315.86">0.85</text><text x="484.31" y="315.86">0.64</text><text x="506.81" y="315.86">0.97</text><text x="529.31" y="315.86">0.99</text><text x="551.81" y="315.86">1</text><text x="574.31" y="315.86">0.96</text><text x="596.81" y="315.86">1</text><text x="619.31" y="315.86">1</text><text x="641.81" y="315.86">0.82</text><text x="664.31" y="315.86">0.98</text><text x="349.31" y="334.74">0.52</text><text x="79.31" y="353.61">0.92</text><text x="191.81" y="353.61">1</text><text x="281.81" y="353.61">0.96</text><text x="326.81" y="353.61">0.89</text><text x="349.31" y="353.61">1</text><text x="416.81" y="353.61">1</text><text x="529.31" y="353.61">0.64</text><text x="551.81" y="353.61">0.99</text><text x="596.81" y="353.61">1</text><text x="619.31" y="353.61">0.71</text><text x="79.31" y="372.49">1</text><text x="101.81" y="372.49">0.98</text><text x="124.31" y="372.49">0.51</text><text x="191.81" y="372.49">1</text><text x="214.31" y="372.49">0.72</text><text x="259.31" y="372.49">0.59</text><text x="281.81" y="372.49">1</text><text x="304.31" y="372.49">0.56</text><text x="326.81" y="372.49">1</text><text x="349.31" y="372.49">1</text><text x="416.81" y="372.49">1</text><text x="439.31" y="372.49">0.99</text><text x="506.81" y="372.49">0.99</text><text x="529.31" y="372.49">0.94</text><text x="551.81" y="372.49">1</text><text x="574.31" y="372.49">0.97</text><text x="596.81" y="372.49">1</text><text x="619.31" y="372.49">1</text><text x="641.81" y="372.49">0.6</text><text x="664.31" y="372.49">0.99</text><text x="79.31" y="391.36">1</text><text x="101.81" y="391.36">1</text><text x="124.31" y="391.36">0.88</text><text x="191.81" y="391.36">1</text><text x="214.31" y="391.36">0.89</text><text x="259.31" y="391.36">0.91</text><text x="281.81" y="391.36">1</text><text x="304.31" y="391.36">0.87</text><text x="326.81" y="391.36">1</text><text x="349.31" y="391.36">1</text><text x="416.81" y="391.36">1</text><text x="439.31" y="391.36">1</text><text x="461.81" y="391.36">0.97</text><text x="506.81" y="391.36">1</text><text x="529.31" y="391.36">0.99</text><text x="551.81" y="391.36">1</text><text x="574.31" y="391.36">1</text><text x="596.81" y="391.36">1</text><text x="619.31" y="391.36">1</text><text x="641.81" y="391.36">0.84</text><text x="664.31" y="391.36">1</text><text x="79.31" y="410.24">1</text><text x="101.81" y="410.24">0.63</text><text x="191.81" y="410.24">1</text><text x="281.81" y="410.24">0.97</text><text x="326.81" y="410.24">0.96</text><text x="349.31" y="410.24">1</text><text x="416.81" y="410.24">1</text><text x="439.31" y="410.24">0.69</text><text x="529.31" y="410.24">0.76</text><text x="551.81" y="410.24">1</text><text x="596.81" y="410.24">1</text><text x="619.31" y="410.24">0.98</text><text x="79.31" y="429.11">0.77</text><text x="191.81" y="429.11">0.96</text><text x="281.81" y="429.11">0.83</text><text x="326.81" y="429.11">0.82</text><text x="349.31" y="429.11">0.96</text><text x="416.81" y="429.11">0.97</text><text x="551.81" y="429.11">0.86</text><text x="596.81" y="429.11">0.93</text><text x="349.31" y="447.99">0.68</text><text x="416.81" y="447.99">0.68</text><text x="79.31" y="466.86">0.99</text><text x="101.81" y="466.86">0.61</text><text x="191.81" y="466.86">0.99</text><text x="281.81" y="466.86">0.93</text><text x="326.81" y="466.86">0.93</text><text x="349.31" y="466.86">0.99</text><text x="416.81" y="466.86">1</text><text x="439.31" y="466.86">0.69</text><text x="529.31" y="466.86">0.73</text><text x="551.81" y="466.86">1</text><text x="596.81" y="466.86">1</text><text x="619.31" y="466.86">0.97</text><text x="79.31" y="485.74">0.51</text><text x="191.81" y="485.74">0.59</text><text x="349.31" y="485.74">0.83</text><text x="416.81" y="485.74">0.9</text><text x="551.81" y="485.74">0.54</text><text x="79.31" y="504.61">0.92</text><text x="191.81" y="504.61">0.98</text><text x="281.81" y="504.61">0.78</text><text x="326.81" y="504.61">0.75</text><text x="349.31" y="504.61">0.99</text><text x="416.81" y="504.61">1</text><text x="529.31" y="504.61">0.57</text><text x="551.81" y="504.61">0.99</text><text x="596.81" y="504.61">1</text><text x="79.31" y="523.49">0.97</text><text x="101.81" y="523.49">0.68</text><text x="124.31" y="523.49">0.64</text><text x="191.81" y="523.49">0.99</text><text x="259.31" y="523.49">0.61</text><text x="281.81" y="523.49">0.96</text><text x="304.31" y="523.49">0.54</text><text x="326.81" y="523.49">0.96</text><text x="349.31" y="523.49">1</text><text x="416.81" y="523.49">1</text><text x="439.31" y="523.49">0.83</text><text x="506.81" y="523.49">0.76</text><text x="529.31" y="523.49">0.99</text><text x="551.81" y="523.49">0.97</text><text x="574.31" y="523.49">0.77</text><text x="596.81" y="523.49">1</text><text x="619.31" y="523.49">0.95</text><text x="664.31" y="523.49">0.79</text><text x="79.31" y="542.36">0.99</text><text x="101.81" y="542.36">0.53</text><text x="191.81" y="542.36">1</text><text x="281.81" y="542.36">0.94</text><text x="326.81" y="542.36">0.93</text><text x="349.31" y="542.36">1</text><text x="416.81" y="542.36">1</text><text x="439.31" y="542.36">0.58</text><text x="529.31" y="542.36">0.73</text><text x="551.81" y="542.36">1</text><text x="596.81" y="542.36">1</text><text x="619.31" y="542.36">0.97</text></g></g><g transform="scale(0.9,1)" font-size="7.0" font-weight="normal" text-anchor="end" fill="#000" stroke="#000" stroke-width="0.35" stroke-linejoin="round"><text x="40.00" y="32.84">CSPUS</text><text x="40.00" y="51.71">LTRUS</text><text x="40.00" y="70.59">CUS</text><text x="40.00" y="89.46">PCFS</text><text x="40.00" y="108.34">SDUS1</text><text x="40.00" y="127.21">SDUS2</text><text x="40.00" y="146.09">RBU</text><text x="40.00" y="164.96">CC1</text><text x="40.00" y="183.84">CC2</text><text x="40.00" y="202.71">ENN</text><text x="40.00" y="221.59">TomekLinks</text><text x="40.00" y="240.46">AllKNN</text><text x="40.00" y="259.34">OSS</text><text x="40.00" y="278.21">Origin</text><text x="40.00" y="297.09">CSPHS</text><text x="40.00" y="315.96">MLOS</text><text x="40.00" y="334.84">E-SMOTE</text><text x="40.00" y="353.71">CPS</text><text x="40.00" y="372.59">LDAS</text><text x="40.00" y="391.46">CDBH</text><text x="40.00" y="410.34">SMOTE-TK</text><text x="40.00" y="429.21">GDO</text><text x="40.00" y="448.09">MWMOTE</text><text x="40.00" y="466.96">ADASYN</text><text x="40.00" y="485.84">C-SMOTE</text><text x="40.00" y="504.71">B-SMOTE</text><text x="40.00" y="523.59">G-SMOTE</text><text x="40.00" y="542.46">SMOTE</text></g><g font-size="7.0" font-weight="normal" text-anchor="middle" fill="#000" stroke="#000" stroke-width="0.3" stroke-linejoin="round"><text transform="translate(52.27,9.38) rotate(-30) scale(0.9,1)">CSPUS</text><text transform="translate(72.52,9.36) rotate(-30) scale(0.9,1)">LTRUS</text><text transform="translate(92.77,11.14) rotate(-30) scale(0.9,1)">CUS</text><text transform="translate(113.02,10.52) rotate(-30) scale(0.9,1)">PCFS</text><text transform="translate(133.27,9.39) rotate(-30) scale(0.9,1)">SDUS1</text><text transform="translate(153.52,9.39) rotate(-30) scale(0.9,1)">SDUS2</text><text transform="translate(173.77,10.96) rotate(-30) scale(0.9,1)">RBU</text><text transform="translate(194.02,11.31) rotate(-30) scale(0.9,1)">CC1</text><text transform="translate(214.27,11.31) rotate(-30) scale(0.9,1)">CC2</text><text transform="translate(234.52,10.96) rotate(-30) scale(0.9,1)">ENN</text><text text-anchor="start" transform="translate(241.02,14.20) rotate(-30) scale(0.9,1)">TomekL</text><text transform="translate(275.02,8.78) rotate(-30) scale(0.9,1)">AllKNN</text><text transform="translate(295.27,11.31) rotate(-30) scale(0.9,1)">OSS</text><text transform="translate(315.52,10.09) rotate(-30) scale(0.9,1)">Origin</text><text transform="translate(335.77,9.38) rotate(-30) scale(0.9,1)">CSPHS</text><text transform="translate(356.02,9.82) rotate(-30) scale(0.9,1)">MLOS</text><text text-anchor="start" transform="translate(364.45,14.20) rotate(-30) scale(0.9,1)">E-SMOT</text><text transform="translate(396.52,11.40) rotate(-30) scale(0.9,1)">CPS</text><text transform="translate(416.77,10.09) rotate(-30) scale(0.9,1)">LDAS</text><text transform="translate(437.02,9.82) rotate(-30) scale(0.9,1)">CDBH</text><text text-anchor="start" transform="translate(443.48,14.20) rotate(-30) scale(0.9,1)">SMOTE</text><text transform="translate(477.52,10.79) rotate(-30) scale(0.9,1)">GDO</text><text text-anchor="start" transform="translate(485.04,14.20) rotate(-30) scale(0.9,1)">MWMO</text><text text-anchor="start" transform="translate(506.65,14.20) rotate(-30) scale(0.9,1)">ADASY</text><text text-anchor="start" transform="translate(526.30,14.20) rotate(-30) scale(0.9,1)">C-SMO</text><text text-anchor="start" transform="translate(546.55,14.20) rotate(-30) scale(0.9,1)">B-SMO</text><text text-anchor="start" transform="translate(566.65,14.20) rotate(-30) scale(0.9,1)">G-SMO</text><text transform="translate(599.02,8.86) rotate(-30) scale(0.9,1)">SMOTE</text></g><rect x="644.2" y="21.0" width="26.80" height="528.50" fill="url(#cb)"/><g font-size="8.5" fill="#000" stroke="#000" stroke-width="0.3" stroke-linejoin="round"><line x1="670.40" x2="676.00" y1="549.90" y2="549.90" stroke="#000" stroke-width="1.0"/><text x="675.80" y="552.80">0.0</text><line x1="670.40" x2="676.00" y1="444.20" y2="444.20" stroke="#000" stroke-width="1.0"/><text x="675.80" y="447.10">0.2</text><line x1="670.40" x2="676.00" y1="338.50" y2="338.50" stroke="#000" stroke-width="1.0"/><text x="675.80" y="341.40">0.4</text><line x1="670.40" x2="676.00" y1="232.80" y2="232.80" stroke="#000" stroke-width="1.0"/><text x="675.80" y="235.70">0.6</text><line x1="670.40" x2="676.00" y1="127.10" y2="127.10" stroke="#000" stroke-width="1.0"/><text x="675.80" y="130.00">0.8</text><line x1="670.40" x2="676.00" y1="21.40" y2="21.40" stroke="#000" stroke-width="1.0"/><text x="675.80" y="24.30">1.0</text></g><g font-size="15.9" fill="#000" stroke="#000" stroke-width="0.3" stroke-linejoin="round"><text x="310.80" y="581.35" textLength="20.10" lengthAdjust="spacingAndGlyphs">(a)</text><text x="340.60" y="581.35" textLength="37.42" lengthAdjust="spacingAndGlyphs">AUC</text></g><g stroke="#fff" stroke-width="0.6"><rect x="41.00" y="636.60" width="20.25" height="18.86" fill="#ffffd9"/><rect x="61.25" y="636.60" width="20.25" height="18.86" fill="#081d58"/><rect x="81.50" y="636.60" width="20.25" height="18.86" fill="#081d58"/><rect x="101.75" y="636.60" width="20.25" height="18.86" fill="#081d58"/><rect x="122.00" y="636.60" width="20.25" height="18.86" fill="#0e2265"/><rect x="142.25" y="636.60" width="20.25" height="18.86" fill="#33a7c2"/><rect x="162.50" y="636.60" width="20.25" height="18.86" fill="#081d58"/><rect x="182.75" y="636.60" width="20.25" height="18.86" fill="#081d58"/><rect x="203.00" y="636.60" width="20.25" height="18.86" fill="#0e2265"/><rect x="223.25" y="636.60" width="20.25" height="18.86" fill="#081d58"/><rect x="243.50" y="636.60" width="20.25" height="18.86" fill="#081d58"/><rect x="263.75" y="636.60" width="20.25" height="18.86" fill="#081d58"/><rect x="284.00" y="636.60" width="20.25" height="18.86" fill="#081d58"/><rect x="304.25" y="636.60" width="20.25" height="18.86" fill="#081d58"/><rect x="324.50" y="636.60" width="20.25" height="18.86" fill="#0d2161"/><rect x="344.75" y="636.60" width="20.25" height="18.86" fill="#081d58"/><rect x="365.00" y="636.60" width="20.25" height="18.86" fill="#081d58"/><rect x="385.25" y="636.60" width="20.25" height="18.86" fill="#081d58"/><rect x="405.50" y="636.60" width="20.25" height="18.86" fill="#081d58"/><rect x="425.75" y="636.60" width="20.25" height="18.86" fill="#081d58"/><rect x="446.00" y="636.60" width="20.25" height="18.86" fill="#081d58"/><rect x="466.25" y="636.60" width="20.25" height="18.86" fill="#081d58"/><rect x="486.50" y="636.60" width="20.25" height="18.86" fill="#081d58"/><rect x="506.75" y="636.60" width="20.25" height="18.86" fill="#081d58"/><rect x="527.00" y="636.60" width="20.25" height="18.86" fill="#081d58"/><rect x="547.25" y="636.60" width="20.25" height="18.86" fill="#081d58"/><rect x="567.50" y="636.60" width="20.25" height="18.86" fill="#081d58"/><rect x="587.75" y="636.60" width="20.25" height="18.86" fill="#081d58"/><rect x="41.00" y="655.46" width="20.25" height="18.86" fill="#ffffd9"/><rect x="61.25" y="655.46" width="20.25" height="18.86" fill="#ffffd9"/><rect x="81.50" y="655.46" width="20.25" height="18.86" fill="#234da0"/><rect x="101.75" y="655.46" width="20.25" height="18.86" fill="#ffffd9"/><rect x="122.00" y="655.46" width="20.25" height="18.86" fill="#ffffd9"/><rect x="142.25" y="655.46" width="20.25" height="18.86" fill="#ffffd9"/><rect x="162.50" y="655.46" width="20.25" height="18.86" fill="#feffd8"/><rect x="182.75" y="655.46" width="20.25" height="18.86" fill="#ffffd9"/><rect x="203.00" y="655.46" width="20.25" height="18.86" fill="#ffffd9"/><rect x="223.25" y="655.46" width="20.25" height="18.86" fill="#1f2f87"/><rect x="243.50" y="655.46" width="20.25" height="18.86" fill="#081d58"/><rect x="263.75" y="655.46" width="20.25" height="18.86" fill="#253595"/><rect x="284.00" y="655.46" width="20.25" height="18.86" fill="#0a1e5c"/><rect x="304.25" y="655.46" width="20.25" height="18.86" fill="#081d58"/><rect x="324.50" y="655.46" width="20.25" height="18.86" fill="#ffffd9"/><rect x="344.75" y="655.46" width="20.25" height="18.86" fill="#f5fbc4"/><rect x="365.00" y="655.46" width="20.25" height="18.86" fill="#081d58"/><rect x="385.25" y="655.46" width="20.25" height="18.86" fill="#0d2161"/><rect x="405.50" y="655.46" width="20.25" height="18.86" fill="#c6e9b4"/><rect x="425.75" y="655.46" width="20.25" height="18.86" fill="#feffd8"/><rect x="446.00" y="655.46" width="20.25" height="18.86" fill="#2166ac"/><rect x="466.25" y="655.46" width="20.25" height="18.86" fill="#225aa6"/><rect x="486.50" y="655.46" width="20.25" height="18.86" fill="#081d58"/><rect x="506.75" y="655.46" width="20.25" height="18.86" fill="#1f7eb7"/><rect x="527.00" y="655.46" width="20.25" height="18.86" fill="#081d58"/><rect x="547.25" y="655.46" width="20.25" height="18.86" fill="#0d2161"/><rect x="567.50" y="655.46" width="20.25" height="18.86" fill="#40b5c4"/><rect x="587.75" y="655.46" width="20.25" height="18.86" fill="#225da8"/><rect x="41.00" y="674.31" width="20.25" height="18.86" fill="#ffffd9"/><rect x="61.25" y="674.31" width="20.25" height="18.86" fill="#d6efb3"/><rect x="81.50" y="674.31" width="20.25" height="18.86" fill="#ffffd9"/><rect x="101.75" y="674.31" width="20.25" height="18.86" fill="#ffffd9"/><rect x="122.00" y="674.31" width="20.25" height="18.86" fill="#ffffd9"/><rect x="142.25" y="674.31" width="20.25" height="18.86" fill="#ffffd9"/><rect x="162.50" y="674.31" width="20.25" height="18.86" fill="#ffffd9"/><rect x="182.75" y="674.31" width="20.25" height="18.86" fill="#ffffd9"/><rect x="203.00" y="674.31" width="20.25" height="18.86" fill="#ffffd9"/><rect x="223.25" y="674.31" width="20.25" height="18.86" fill="#33a7c2"/><rect x="243.50" y="674.31" width="20.25" height="18.86" fill="#081d58"/><rect x="263.75" y="674.31" width="20.25" height="18.86" fill="#5fc1c0"/><rect x="284.00" y="674.31" width="20.25" height="18.86" fill="#081d58"/><rect x="304.25" y="674.31" width="20.25" height="18.86" fill="#081d58"/><rect x="324.50" y="674.31" width="20.25" height="18.86" fill="#ffffd9"/><rect x="344.75" y="674.31" width="20.25" height="18.86" fill="#fafdcf"/><rect x="365.00" y="674.31" width="20.25" height="18.86" fill="#081d58"/><rect x="385.25" y="674.31" width="20.25" height="18.86" fill="#11246b"/><rect x="405.50" y="674.31" width="20.25" height="18.86" fill="#fcfed3"/><rect x="425.75" y="674.31" width="20.25" height="18.86" fill="#ffffd9"/><rect x="446.00" y="674.31" width="20.25" height="18.86" fill="#55bec1"/><rect x="466.25" y="674.31" width="20.25" height="18.86" fill="#206eb0"/><rect x="486.50" y="674.31" width="20.25" height="18.86" fill="#081d58"/><rect x="506.75" y="674.31" width="20.25" height="18.86" fill="#50bbc2"/><rect x="527.00" y="674.31" width="20.25" height="18.86" fill="#081d58"/><rect x="547.25" y="674.31" width="20.25" height="18.86" fill="#11246b"/><rect x="567.50" y="674.31" width="20.25" height="18.86" fill="#4cbac2"/><rect x="587.75" y="674.31" width="20.25" height="18.86" fill="#2fa4c2"/><rect x="41.00" y="693.17" width="20.25" height="18.86" fill="#ffffd9"/><rect x="61.25" y="693.17" width="20.25" height="18.86" fill="#081d58"/><rect x="81.50" y="693.17" width="20.25" height="18.86" fill="#081d58"/><rect x="101.75" y="693.17" width="20.25" height="18.86" fill="#ffffd9"/><rect x="122.00" y="693.17" width="20.25" height="18.86" fill="#feffd6"/><rect x="142.25" y="693.17" width="20.25" height="18.86" fill="#ffffd9"/><rect x="162.50" y="693.17" width="20.25" height="18.86" fill="#081d58"/><rect x="182.75" y="693.17" width="20.25" height="18.86" fill="#216aad"/><rect x="203.00" y="693.17" width="20.25" height="18.86" fill="#f6fbc5"/><rect x="223.25" y="693.17" width="20.25" height="18.86" fill="#081d58"/><rect x="243.50" y="693.17" width="20.25" height="18.86" fill="#081d58"/><rect x="263.75" y="693.17" width="20.25" height="18.86" fill="#081d58"/><rect x="284.00" y="693.17" width="20.25" height="18.86" fill="#081d58"/><rect x="304.25" y="693.17" width="20.25" height="18.86" fill="#081d58"/><rect x="324.50" y="693.17" width="20.25" height="18.86" fill="#1e86bb"/><rect x="344.75" y="693.17" width="20.25" height="18.86" fill="#13266f"/><rect x="365.00" y="693.17" width="20.25" height="18.86" fill="#081d58"/><rect x="385.25" y="693.17" width="20.25" height="18.86" fill="#081d58"/><rect x="405.50" y="693.17" width="20.25" height="18.86" fill="#081d58"/><rect x="425.75" y="693.17" width="20.25" height="18.86" fill="#13266f"/><rect x="446.00" y="693.17" width="20.25" height="18.86" fill="#081d58"/><rect x="466.25" y="693.17" width="20.25" height="18.86" fill="#081d58"/><rect x="486.50" y="693.17" width="20.25" height="18.86" fill="#081d58"/><rect x="506.75" y="693.17" width="20.25" height="18.86" fill="#081d58"/><rect x="527.00" y="693.17" width="20.25" height="18.86" fill="#081d58"/><rect x="547.25" y="693.17" width="20.25" height="18.86" fill="#081d58"/><rect x="567.50" y="693.17" width="20.25" height="18.86" fill="#0e2265"/><rect x="587.75" y="693.17" width="20.25" height="18.86" fill="#081d58"/><rect x="41.00" y="712.03" width="20.25" height="18.86" fill="#ffffd9"/><rect x="61.25" y="712.03" width="20.25" height="18.86" fill="#081d58"/><rect x="81.50" y="712.03" width="20.25" height="18.86" fill="#081d58"/><rect x="101.75" y="712.03" width="20.25" height="18.86" fill="#0a1e5c"/><rect x="122.00" y="712.03" width="20.25" height="18.86" fill="#ffffd9"/><rect x="142.25" y="712.03" width="20.25" height="18.86" fill="#fafdcf"/><rect x="162.50" y="712.03" width="20.25" height="18.86" fill="#081d58"/><rect x="182.75" y="712.03" width="20.25" height="18.86" fill="#081d58"/><rect x="203.00" y="712.03" width="20.25" height="18.86" fill="#b0e0b6"/><rect x="223.25" y="712.03" width="20.25" height="18.86" fill="#081d58"/><rect x="243.50" y="712.03" width="20.25" height="18.86" fill="#081d58"/><rect x="263.75" y="712.03" width="20.25" height="18.86" fill="#081d58"/><rect x="284.00" y="712.03" width="20.25" height="18.86" fill="#081d58"/><rect x="304.25" y="712.03" width="20.25" height="18.86" fill="#081d58"/><rect x="324.50" y="712.03" width="20.25" height="18.86" fill="#1a2b7e"/><rect x="344.75" y="712.03" width="20.25" height="18.86" fill="#0a1e5c"/><rect x="365.00" y="712.03" width="20.25" height="18.86" fill="#081d58"/><rect x="385.25" y="712.03" width="20.25" height="18.86" fill="#081d58"/><rect x="405.50" y="712.03" width="20.25" height="18.86" fill="#081d58"/><rect x="425.75" y="712.03" width="20.25" height="18.86" fill="#081d58"/><rect x="446.00" y="712.03" width="20.25" height="18.86" fill="#081d58"/><rect x="466.25" y="712.03" width="20.25" height="18.86" fill="#081d58"/><rect x="486.50" y="712.03" width="20.25" height="18.86" fill="#081d58"/><rect x="506.75" y="712.03" width="20.25" height="18.86" fill="#081d58"/><rect x="527.00" y="712.03" width="20.25" height="18.86" fill="#081d58"/><rect x="547.25" y="712.03" width="20.25" height="18.86" fill="#081d58"/><rect x="567.50" y="712.03" width="20.25" height="18.86" fill="#081d58"/><rect x="587.75" y="712.03" width="20.25" height="18.86" fill="#081d58"/><rect x="41.00" y="730.89" width="20.25" height="18.86" fill="#fcfed1"/><rect x="61.25" y="730.89" width="20.25" height="18.86" fill="#081d58"/><rect x="81.50" y="730.89" width="20.25" height="18.86" fill="#081d58"/><rect x="101.75" y="730.89" width="20.25" height="18.86" fill="#081d58"/><rect x="122.00" y="730.89" width="20.25" height="18.86" fill="#24479d"/><rect x="142.25" y="730.89" width="20.25" height="18.86" fill="#ffffd9"/><rect x="162.50" y="730.89" width="20.25" height="18.86" fill="#081d58"/><rect x="182.75" y="730.89" width="20.25" height="18.86" fill="#081d58"/><rect x="203.00" y="730.89" width="20.25" height="18.86" fill="#2195c0"/><rect x="223.25" y="730.89" width="20.25" height="18.86" fill="#081d58"/><rect x="243.50" y="730.89" width="20.25" height="18.86" fill="#081d58"/><rect x="263.75" y="730.89" width="20.25" height="18.86" fill="#081d58"/><rect x="284.00" y="730.89" width="20.25" height="18.86" fill="#081d58"/><rect x="304.25" y="730.89" width="20.25" height="18.86" fill="#081d58"/><rect x="324.50" y="730.89" width="20.25" height="18.86" fill="#1a2b7e"/><rect x="344.75" y="730.89" width="20.25" height="18.86" fill="#081d58"/><rect x="365.00" y="730.89" width="20.25" height="18.86" fill="#081d58"/><rect x="385.25" y="730.89" width="20.25" height="18.86" fill="#081d58"/><rect x="405.50" y="730.89" width="20.25" height="18.86" fill="#081d58"/><rect x="425.75" y="730.89" width="20.25" height="18.86" fill="#081d58"/><rect x="446.00" y="730.89" width="20.25" height="18.86" fill="#081d58"/><rect x="466.25" y="730.89" width="20.25" height="18.86" fill="#081d58"/><rect x="486.50" y="730.89" width="20.25" height="18.86" fill="#081d58"/><rect x="506.75" y="730.89" width="20.25" height="18.86" fill="#081d58"/><rect x="527.00" y="730.89" width="20.25" height="18.86" fill="#081d58"/><rect x="547.25" y="730.89" width="20.25" height="18.86" fill="#081d58"/><rect x="567.50" y="730.89" width="20.25" height="18.86" fill="#081d58"/><rect x="587.75" y="730.89" width="20.25" height="18.86" fill="#081d58"/><rect x="41.00" y="749.74" width="20.25" height="18.86" fill="#ffffd9"/><rect x="61.25" y="749.74" width="20.25" height="18.86" fill="#0a1e5c"/><rect x="81.50" y="749.74" width="20.25" height="18.86" fill="#081d58"/><rect x="101.75" y="749.74" width="20.25" height="18.86" fill="#ffffd9"/><rect x="122.00" y="749.74" width="20.25" height="18.86" fill="#ffffd9"/><rect x="142.25" y="749.74" width="20.25" height="18.86" fill="#ffffd9"/><rect x="162.50" y="749.74" width="20.25" height="18.86" fill="#ffffd9"/><rect x="182.75" y="749.74" width="20.25" height="18.86" fill="#f7fcc7"/><rect x="203.00" y="749.74" width="20.25" height="18.86" fill="#ffffd9"/><rect x="223.25" y="749.74" width="20.25" height="18.86" fill="#0a1e5c"/><rect x="243.50" y="749.74" width="20.25" height="18.86" fill="#081d58"/><rect x="263.75" y="749.74" width="20.25" height="18.86" fill="#0a1e5c"/><rect x="284.00" y="749.74" width="20.25" height="18.86" fill="#081d58"/><rect x="304.25" y="749.74" width="20.25" height="18.86" fill="#081d58"/><rect x="324.50" y="749.74" width="20.25" height="18.86" fill="#fafdce"/><rect x="344.75" y="749.74" width="20.25" height="18.86" fill="#87d0ba"/><rect x="365.00" y="749.74" width="20.25" height="18.86" fill="#081d58"/><rect x="385.25" y="749.74" width="20.25" height="18.86" fill="#081d58"/><rect x="405.50" y="749.74" width="20.25" height="18.86" fill="#243c98"/><rect x="425.75" y="749.74" width="20.25" height="18.86" fill="#46b8c3"/><rect x="446.00" y="749.74" width="20.25" height="18.86" fill="#0d2161"/><rect x="466.25" y="749.74" width="20.25" height="18.86" fill="#1f2f87"/><rect x="486.50" y="749.74" width="20.25" height="18.86" fill="#081d58"/><rect x="506.75" y="749.74" width="20.25" height="18.86" fill="#1a2b7e"/><rect x="527.00" y="749.74" width="20.25" height="18.86" fill="#081d58"/><rect x="547.25" y="749.74" width="20.25" height="18.86" fill="#081d58"/><rect x="567.50" y="749.74" width="20.25" height="18.86" fill="#225da8"/><rect x="587.75" y="749.74" width="20.25" height="18.86" fill="#0e2265"/><rect x="41.00" y="768.60" width="20.25" height="18.86" fill="#ffffd9"/><rect x="61.25" y="768.60" width="20.25" height="18.86" fill="#081d58"/><rect x="81.50" y="768.60" width="20.25" height="18.86" fill="#081d58"/><rect x="101.75" y="768.60" width="20.25" height="18.86" fill="#b7e3b6"/><rect x="122.00" y="768.60" width="20.25" height="18.86" fill="#ffffd9"/><rect x="142.25" y="768.60" width="20.25" height="18.86" fill="#ffffd9"/><rect x="162.50" y="768.60" width="20.25" height="18.86" fill="#11246b"/><rect x="182.75" y="768.60" width="20.25" height="18.86" fill="#ffffd9"/><rect x="203.00" y="768.60" width="20.25" height="18.86" fill="#ffffd9"/><rect x="223.25" y="768.60" width="20.25" height="18.86" fill="#081d58"/><rect x="243.50" y="768.60" width="20.25" height="18.86" fill="#081d58"/><rect x="263.75" y="768.60" width="20.25" height="18.86" fill="#0a1e5c"/><rect x="284.00" y="768.60" width="20.25" height="18.86" fill="#081d58"/><rect x="304.25" y="768.60" width="20.25" height="18.86" fill="#081d58"/><rect x="324.50" y="768.60" width="20.25" height="18.86" fill="#99d7b8"/><rect x="344.75" y="768.60" width="20.25" height="18.86" fill="#233390"/><rect x="365.00" y="768.60" width="20.25" height="18.86" fill="#081d58"/><rect x="385.25" y="768.60" width="20.25" height="18.86" fill="#081d58"/><rect x="405.50" y="768.60" width="20.25" height="18.86" fill="#0d2161"/><rect x="425.75" y="768.60" width="20.25" height="18.86" fill="#243c98"/><rect x="446.00" y="768.60" width="20.25" height="18.86" fill="#081d58"/><rect x="466.25" y="768.60" width="20.25" height="18.86" fill="#081d58"/><rect x="486.50" y="768.60" width="20.25" height="18.86" fill="#081d58"/><rect x="506.75" y="768.60" width="20.25" height="18.86" fill="#081d58"/><rect x="527.00" y="768.60" width="20.25" height="18.86" fill="#081d58"/><rect x="547.25" y="768.60" width="20.25" height="18.86" fill="#081d58"/><rect x="567.50" y="768.60" width="20.25" height="18.86" fill="#0e2265"/><rect x="587.75" y="768.60" width="20.25" height="18.86" fill="#081d58"/><rect x="41.00" y="787.46" width="20.25" height="18.86" fill="#fbfdd0"/><rect x="61.25" y="787.46" width="20.25" height="18.86" fill="#081d58"/><rect x="81.50" y="787.46" width="20.25" height="18.86" fill="#081d58"/><rect x="101.75" y="787.46" width="20.25" height="18.86" fill="#162874"/><rect x="122.00" y="787.46" width="20.25" height="18.86" fill="#1e83ba"/><rect x="142.25" y="787.46" width="20.25" height="18.86" fill="#7cccbb"/><rect x="162.50" y="787.46" width="20.25" height="18.86" fill="#081d58"/><rect x="182.75" y="787.46" width="20.25" height="18.86" fill="#081d58"/><rect x="203.00" y="787.46" width="20.25" height="18.86" fill="#ffffd9"/><rect x="223.25" y="787.46" width="20.25" height="18.86" fill="#081d58"/><rect x="243.50" y="787.46" width="20.25" height="18.86" fill="#081d58"/><rect x="263.75" y="787.46" width="20.25" height="18.86" fill="#081d58"/><rect x="284.00" y="787.46" width="20.25" height="18.86" fill="#081d58"/><rect x="304.25" y="787.46" width="20.25" height="18.86" fill="#081d58"/><rect x="324.50" y="787.46" width="20.25" height="18.86" fill="#243f99"/><rect x="344.75" y="787.46" width="20.25" height="18.86" fill="#0d2161"/><rect x="365.00" y="787.46" width="20.25" height="18.86" fill="#081d58"/><rect x="385.25" y="787.46" width="20.25" height="18.86" fill="#081d58"/><rect x="405.50" y="787.46" width="20.25" height="18.86" fill="#081d58"/><rect x="425.75" y="787.46" width="20.25" height="18.86" fill="#0a1e5c"/><rect x="446.00" y="787.46" width="20.25" height="18.86" fill="#081d58"/><rect x="466.25" y="787.46" width="20.25" height="18.86" fill="#081d58"/><rect x="486.50" y="787.46" width="20.25" height="18.86" fill="#081d58"/><rect x="506.75" y="787.46" width="20.25" height="18.86" fill="#081d58"/><rect x="527.00" y="787.46" width="20.25" height="18.86" fill="#081d58"/><rect x="547.25" y="787.46" width="20.25" height="18.86" fill="#081d58"/><rect x="567.50" y="787.46" width="20.25" height="18.86" fill="#0a1e5c"/><rect x="587.75" y="787.46" width="20.25" height="18.86" fill="#081d58"/><rect x="41.00" y="806.31" width="20.25" height="18.86" fill="#ffffd9"/><rect x="61.25" y="806.31" width="20.25" height="18.86" fill="#f1faba"/><rect x="81.50" y="806.31" width="20.25" height="18.86" fill="#59bfc0"/><rect x="101.75" y="806.31" width="20.25" height="18.86" fill="#ffffd9"/><rect x="122.00" y="806.31" width="20.25" height="18.86" fill="#ffffd9"/><rect x="142.25" y="806.31" width="20.25" height="18.86" fill="#ffffd9"/><rect x="162.50" y="806.31" width="20.25" height="18.86" fill="#feffd8"/><rect x="182.75" y="806.31" width="20.25" height="18.86" fill="#ffffd9"/><rect x="203.00" y="806.31" width="20.25" height="18.86" fill="#ffffd9"/><rect x="223.25" y="806.31" width="20.25" height="18.86" fill="#ffffd9"/><rect x="243.50" y="806.31" width="20.25" height="18.86" fill="#081d58"/><rect x="263.75" y="806.31" width="20.25" height="18.86" fill="#fafdce"/><rect x="284.00" y="806.31" width="20.25" height="18.86" fill="#081d58"/><rect x="304.25" y="806.31" width="20.25" height="18.86" fill="#081d58"/><rect x="324.50" y="806.31" width="20.25" height="18.86" fill="#ffffd9"/><rect x="344.75" y="806.31" width="20.25" height="18.86" fill="#f6fbc5"/><rect x="365.00" y="806.31" width="20.25" height="18.86" fill="#081d58"/><rect x="385.25" y="806.31" width="20.25" height="18.86" fill="#0d2161"/><rect x="405.50" y="806.31" width="20.25" height="18.86" fill="#e6f5b2"/><rect x="425.75" y="806.31" width="20.25" height="18.86" fill="#ffffd9"/><rect x="446.00" y="806.31" width="20.25" height="18.86" fill="#92d5b9"/><rect x="466.25" y="806.31" width="20.25" height="18.86" fill="#2195c0"/><rect x="486.50" y="806.31" width="20.25" height="18.86" fill="#081d58"/><rect x="506.75" y="806.31" width="20.25" height="18.86" fill="#92d5b9"/><rect x="527.00" y="806.31" width="20.25" height="18.86" fill="#081d58"/><rect x="547.25" y="806.31" width="20.25" height="18.86" fill="#2354a3"/><rect x="567.50" y="806.31" width="20.25" height="18.86" fill="#55bec1"/><rect x="587.75" y="806.31" width="20.25" height="18.86" fill="#83cebb"/><rect x="41.00" y="825.17" width="20.25" height="18.86" fill="#ffffd9"/><rect x="61.25" y="825.17" width="20.25" height="18.86" fill="#ffffd9"/><rect x="81.50" y="825.17" width="20.25" height="18.86" fill="#ffffd9"/><rect x="101.75" y="825.17" width="20.25" height="18.86" fill="#ffffd9"/><rect x="122.00" y="825.17" width="20.25" height="18.86" fill="#ffffd9"/><rect x="142.25" y="825.17" width="20.25" height="18.86" fill="#ffffd9"/><rect x="162.50" y="825.17" width="20.25" height="18.86" fill="#ffffd9"/><rect x="182.75" y="825.17" width="20.25" height="18.86" fill="#ffffd9"/><rect x="203.00" y="825.17" width="20.25" height="18.86" fill="#ffffd9"/><rect x="223.25" y="825.17" width="20.25" height="18.86" fill="#ffffd9"/><rect x="243.50" y="825.17" width="20.25" height="18.86" fill="#ffffd9"/><rect x="263.75" y="825.17" width="20.25" height="18.86" fill="#ffffd9"/><rect x="284.00" y="825.17" width="20.25" height="18.86" fill="#eff9b6"/><rect x="304.25" y="825.17" width="20.25" height="18.86" fill="#081d58"/><rect x="324.50" y="825.17" width="20.25" height="18.86" fill="#ffffd9"/><rect x="344.75" y="825.17" width="20.25" height="18.86" fill="#ffffd9"/><rect x="365.00" y="825.17" width="20.25" height="18.86" fill="#13266f"/><rect x="385.25" y="825.17" width="20.25" height="18.86" fill="#fbfdd0"/><rect x="405.50" y="825.17" width="20.25" height="18.86" fill="#ffffd9"/><rect x="425.75" y="825.17" width="20.25" height="18.86" fill="#ffffd9"/><rect x="446.00" y="825.17" width="20.25" height="18.86" fill="#feffd6"/><rect x="466.25" y="825.17" width="20.25" height="18.86" fill="#f5fbc2"/><rect x="486.50" y="825.17" width="20.25" height="18.86" fill="#162874"/><rect x="506.75" y="825.17" width="20.25" height="18.86" fill="#fcfed1"/><rect x="527.00" y="825.17" width="20.25" height="18.86" fill="#2350a1"/><rect x="547.25" y="825.17" width="20.25" height="18.86" fill="#ceecb3"/><rect x="567.50" y="825.17" width="20.25" height="18.86" fill="#f9fdcc"/><rect x="587.75" y="825.17" width="20.25" height="18.86" fill="#fcfed1"/><rect x="41.00" y="844.03" width="20.25" height="18.86" fill="#ffffd9"/><rect x="61.25" y="844.03" width="20.25" height="18.86" fill="#ecf7b1"/><rect x="81.50" y="844.03" width="20.25" height="18.86" fill="#2fa4c2"/><rect x="101.75" y="844.03" width="20.25" height="18.86" fill="#ffffd9"/><rect x="122.00" y="844.03" width="20.25" height="18.86" fill="#ffffd9"/><rect x="142.25" y="844.03" width="20.25" height="18.86" fill="#ffffd9"/><rect x="162.50" y="844.03" width="20.25" height="18.86" fill="#fdfed5"/><rect x="182.75" y="844.03" width="20.25" height="18.86" fill="#feffd8"/><rect x="203.00" y="844.03" width="20.25" height="18.86" fill="#ffffd9"/><rect x="223.25" y="844.03" width="20.25" height="18.86" fill="#24439b"/><rect x="243.50" y="844.03" width="20.25" height="18.86" fill="#081d58"/><rect x="263.75" y="844.03" width="20.25" height="18.86" fill="#ffffd9"/><rect x="284.00" y="844.03" width="20.25" height="18.86" fill="#081d58"/><rect x="304.25" y="844.03" width="20.25" height="18.86" fill="#081d58"/><rect x="324.50" y="844.03" width="20.25" height="18.86" fill="#feffd8"/><rect x="344.75" y="844.03" width="20.25" height="18.86" fill="#f1faba"/><rect x="365.00" y="844.03" width="20.25" height="18.86" fill="#081d58"/><rect x="385.25" y="844.03" width="20.25" height="18.86" fill="#0d2161"/><rect x="405.50" y="844.03" width="20.25" height="18.86" fill="#caeab4"/><rect x="425.75" y="844.03" width="20.25" height="18.86" fill="#feffd8"/><rect x="446.00" y="844.03" width="20.25" height="18.86" fill="#78cbbc"/><rect x="466.25" y="844.03" width="20.25" height="18.86" fill="#216aad"/><rect x="486.50" y="844.03" width="20.25" height="18.86" fill="#081d58"/><rect x="506.75" y="844.03" width="20.25" height="18.86" fill="#63c3bf"/><rect x="527.00" y="844.03" width="20.25" height="18.86" fill="#081d58"/><rect x="547.25" y="844.03" width="20.25" height="18.86" fill="#1f2f87"/><rect x="567.50" y="844.03" width="20.25" height="18.86" fill="#2a9ec1"/><rect x="587.75" y="844.03" width="20.25" height="18.86" fill="#73c8bd"/><rect x="41.00" y="862.89" width="20.25" height="18.86" fill="#ffffd9"/><rect x="61.25" y="862.89" width="20.25" height="18.86" fill="#feffd8"/><rect x="81.50" y="862.89" width="20.25" height="18.86" fill="#ffffd9"/><rect x="101.75" y="862.89" width="20.25" height="18.86" fill="#ffffd9"/><rect x="122.00" y="862.89" width="20.25" height="18.86" fill="#ffffd9"/><rect x="142.25" y="862.89" width="20.25" height="18.86" fill="#ffffd9"/><rect x="162.50" y="862.89" width="20.25" height="18.86" fill="#ffffd9"/><rect x="182.75" y="862.89" width="20.25" height="18.86" fill="#ffffd9"/><rect x="203.00" y="862.89" width="20.25" height="18.86" fill="#ffffd9"/><rect x="223.25" y="862.89" width="20.25" height="18.86" fill="#ffffd9"/><rect x="243.50" y="862.89" width="20.25" height="18.86" fill="#253595"/><rect x="263.75" y="862.89" width="20.25" height="18.86" fill="#ffffd9"/><rect x="284.00" y="862.89" width="20.25" height="18.86" fill="#ffffd9"/><rect x="304.25" y="862.89" width="20.25" height="18.86" fill="#081d58"/><rect x="324.50" y="862.89" width="20.25" height="18.86" fill="#ffffd9"/><rect x="344.75" y="862.89" width="20.25" height="18.86" fill="#ffffd9"/><rect x="365.00" y="862.89" width="20.25" height="18.86" fill="#0a1e5c"/><rect x="385.25" y="862.89" width="20.25" height="18.86" fill="#d0edb3"/><rect x="405.50" y="862.89" width="20.25" height="18.86" fill="#ffffd9"/><rect x="425.75" y="862.89" width="20.25" height="18.86" fill="#ffffd9"/><rect x="446.00" y="862.89" width="20.25" height="18.86" fill="#fdfed4"/><rect x="466.25" y="862.89" width="20.25" height="18.86" fill="#f7fcc7"/><rect x="486.50" y="862.89" width="20.25" height="18.86" fill="#172978"/><rect x="506.75" y="862.89" width="20.25" height="18.86" fill="#fbfdd0"/><rect x="527.00" y="862.89" width="20.25" height="18.86" fill="#24439b"/><rect x="547.25" y="862.89" width="20.25" height="18.86" fill="#d4eeb3"/><rect x="567.50" y="862.89" width="20.25" height="18.86" fill="#f6fbc5"/><rect x="587.75" y="862.89" width="20.25" height="18.86" fill="#f9fdcc"/><rect x="41.00" y="881.74" width="20.25" height="18.86" fill="#ffffd9"/><rect x="61.25" y="881.74" width="20.25" height="18.86" fill="#ffffd9"/><rect x="81.50" y="881.74" width="20.25" height="18.86" fill="#ffffd9"/><rect x="101.75" y="881.74" width="20.25" height="18.86" fill="#ffffd9"/><rect x="122.00" y="881.74" width="20.25" height="18.86" fill="#ffffd9"/><rect x="142.25" y="881.74" width="20.25" height="18.86" fill="#ffffd9"/><rect x="162.50" y="881.74" width="20.25" height="18.86" fill="#ffffd9"/><rect x="182.75" y="881.74" width="20.25" height="18.86" fill="#ffffd9"/><rect x="203.00" y="881.74" width="20.25" height="18.86" fill="#ffffd9"/><rect x="223.25" y="881.74" width="20.25" height="18.86" fill="#ffffd9"/><rect x="243.50" y="881.74" width="20.25" height="18.86" fill="#ffffd9"/><rect x="263.75" y="881.74" width="20.25" height="18.86" fill="#ffffd9"/><rect x="284.00" y="881.74" width="20.25" height="18.86" fill="#ffffd9"/><rect x="304.25" y="881.74" width="20.25" height="18.86" fill="#ffffd9"/><rect x="324.50" y="881.74" width="20.25" height="18.86" fill="#ffffd9"/><rect x="344.75" y="881.74" width="20.25" height="18.86" fill="#ffffd9"/><rect x="365.00" y="881.74" width="20.25" height="18.86" fill="#69c5be"/><rect x="385.25" y="881.74" width="20.25" height="18.86" fill="#ffffd9"/><rect x="405.50" y="881.74" width="20.25" height="18.86" fill="#ffffd9"/><rect x="425.75" y="881.74" width="20.25" height="18.86" fill="#ffffd9"/><rect x="446.00" y="881.74" width="20.25" height="18.86" fill="#ffffd9"/><rect x="466.25" y="881.74" width="20.25" height="18.86" fill="#fdfed4"/><rect x="486.50" y="881.74" width="20.25" height="18.86" fill="#99d7b8"/><rect x="506.75" y="881.74" width="20.25" height="18.86" fill="#ffffd9"/><rect x="527.00" y="881.74" width="20.25" height="18.86" fill="#eef8b3"/><rect x="547.25" y="881.74" width="20.25" height="18.86" fill="#feffd8"/><rect x="567.50" y="881.74" width="20.25" height="18.86" fill="#ffffd9"/><rect x="587.75" y="881.74" width="20.25" height="18.86" fill="#ffffd9"/><rect x="41.00" y="900.60" width="20.25" height="18.86" fill="#fcfed3"/><rect x="61.25" y="900.60" width="20.25" height="18.86" fill="#081d58"/><rect x="81.50" y="900.60" width="20.25" height="18.86" fill="#081d58"/><rect x="101.75" y="900.60" width="20.25" height="18.86" fill="#8ed3ba"/><rect x="122.00" y="900.60" width="20.25" height="18.86" fill="#f3fabf"/><rect x="142.25" y="900.60" width="20.25" height="18.86" fill="#f4fbc1"/><rect x="162.50" y="900.60" width="20.25" height="18.86" fill="#11246b"/><rect x="182.75" y="900.60" width="20.25" height="18.86" fill="#1f7eb7"/><rect x="203.00" y="900.60" width="20.25" height="18.86" fill="#e3f4b2"/><rect x="223.25" y="900.60" width="20.25" height="18.86" fill="#081d58"/><rect x="243.50" y="900.60" width="20.25" height="18.86" fill="#081d58"/><rect x="263.75" y="900.60" width="20.25" height="18.86" fill="#0a1e5c"/><rect x="284.00" y="900.60" width="20.25" height="18.86" fill="#081d58"/><rect x="304.25" y="900.60" width="20.25" height="18.86" fill="#081d58"/><rect x="324.50" y="900.60" width="20.25" height="18.86" fill="#ffffd9"/><rect x="344.75" y="900.60" width="20.25" height="18.86" fill="#243f99"/><rect x="365.00" y="900.60" width="20.25" height="18.86" fill="#081d58"/><rect x="385.25" y="900.60" width="20.25" height="18.86" fill="#081d58"/><rect x="405.50" y="900.60" width="20.25" height="18.86" fill="#081d58"/><rect x="425.75" y="900.60" width="20.25" height="18.86" fill="#162874"/><rect x="446.00" y="900.60" width="20.25" height="18.86" fill="#081d58"/><rect x="466.25" y="900.60" width="20.25" height="18.86" fill="#0a1e5c"/><rect x="486.50" y="900.60" width="20.25" height="18.86" fill="#081d58"/><rect x="506.75" y="900.60" width="20.25" height="18.86" fill="#081d58"/><rect x="527.00" y="900.60" width="20.25" height="18.86" fill="#081d58"/><rect x="547.25" y="900.60" width="20.25" height="18.86" fill="#081d58"/><rect x="567.50" y="900.60" width="20.25" height="18.86" fill="#11246b"/><rect x="587.75" y="900.60" width="20.25" height="18.86" fill="#081d58"/><rect x="41.00" y="919.46" width="20.25" height="18.86" fill="#ffffd9"/><rect x="61.25" y="919.46" width="20.25" height="18.86" fill="#172978"/><rect x="81.50" y="919.46" width="20.25" height="18.86" fill="#0e2265"/><rect x="101.75" y="919.46" width="20.25" height="18.86" fill="#f9fdcb"/><rect x="122.00" y="919.46" width="20.25" height="18.86" fill="#feffd8"/><rect x="142.25" y="919.46" width="20.25" height="18.86" fill="#feffd8"/><rect x="162.50" y="919.46" width="20.25" height="18.86" fill="#1e8bbd"/><rect x="182.75" y="919.46" width="20.25" height="18.86" fill="#eef8b3"/><rect x="203.00" y="919.46" width="20.25" height="18.86" fill="#fcfed3"/><rect x="223.25" y="919.46" width="20.25" height="18.86" fill="#162874"/><rect x="243.50" y="919.46" width="20.25" height="18.86" fill="#081d58"/><rect x="263.75" y="919.46" width="20.25" height="18.86" fill="#1f2f87"/><rect x="284.00" y="919.46" width="20.25" height="18.86" fill="#081d58"/><rect x="304.25" y="919.46" width="20.25" height="18.86" fill="#081d58"/><rect x="324.50" y="919.46" width="20.25" height="18.86" fill="#e3f4b2"/><rect x="344.75" y="919.46" width="20.25" height="18.86" fill="#ffffd9"/><rect x="365.00" y="919.46" width="20.25" height="18.86" fill="#081d58"/><rect x="385.25" y="919.46" width="20.25" height="18.86" fill="#081d58"/><rect x="405.50" y="919.46" width="20.25" height="18.86" fill="#243c98"/><rect x="425.75" y="919.46" width="20.25" height="18.86" fill="#a5dcb7"/><rect x="446.00" y="919.46" width="20.25" height="18.86" fill="#0d2161"/><rect x="466.25" y="919.46" width="20.25" height="18.86" fill="#0a1e5c"/><rect x="486.50" y="919.46" width="20.25" height="18.86" fill="#081d58"/><rect x="506.75" y="919.46" width="20.25" height="18.86" fill="#162874"/><rect x="527.00" y="919.46" width="20.25" height="18.86" fill="#081d58"/><rect x="547.25" y="919.46" width="20.25" height="18.86" fill="#081d58"/><rect x="567.50" y="919.46" width="20.25" height="18.86" fill="#13266f"/><rect x="587.75" y="919.46" width="20.25" height="18.86" fill="#0d2161"/><rect x="41.00" y="938.31" width="20.25" height="18.86" fill="#ffffd9"/><rect x="61.25" y="938.31" width="20.25" height="18.86" fill="#ffffd9"/><rect x="81.50" y="938.31" width="20.25" height="18.86" fill="#ffffd9"/><rect x="101.75" y="938.31" width="20.25" height="18.86" fill="#ffffd9"/><rect x="122.00" y="938.31" width="20.25" height="18.86" fill="#ffffd9"/><rect x="142.25" y="938.31" width="20.25" height="18.86" fill="#ffffd9"/><rect x="162.50" y="938.31" width="20.25" height="18.86" fill="#ffffd9"/><rect x="182.75" y="938.31" width="20.25" height="18.86" fill="#ffffd9"/><rect x="203.00" y="938.31" width="20.25" height="18.86" fill="#ffffd9"/><rect x="223.25" y="938.31" width="20.25" height="18.86" fill="#ffffd9"/><rect x="243.50" y="938.31" width="20.25" height="18.86" fill="#f8fcca"/><rect x="263.75" y="938.31" width="20.25" height="18.86" fill="#ffffd9"/><rect x="284.00" y="938.31" width="20.25" height="18.86" fill="#fdfed5"/><rect x="304.25" y="938.31" width="20.25" height="18.86" fill="#2a9ec1"/><rect x="324.50" y="938.31" width="20.25" height="18.86" fill="#ffffd9"/><rect x="344.75" y="938.31" width="20.25" height="18.86" fill="#ffffd9"/><rect x="365.00" y="938.31" width="20.25" height="18.86" fill="#ffffd9"/><rect x="385.25" y="938.31" width="20.25" height="18.86" fill="#feffd8"/><rect x="405.50" y="938.31" width="20.25" height="18.86" fill="#ffffd9"/><rect x="425.75" y="938.31" width="20.25" height="18.86" fill="#ffffd9"/><rect x="446.00" y="938.31" width="20.25" height="18.86" fill="#ffffd9"/><rect x="466.25" y="938.31" width="20.25" height="18.86" fill="#fdfed5"/><rect x="486.50" y="938.31" width="20.25" height="18.86" fill="#c6e9b4"/><rect x="506.75" y="938.31" width="20.25" height="18.86" fill="#ffffd9"/><rect x="527.00" y="938.31" width="20.25" height="18.86" fill="#fafdcf"/><rect x="547.25" y="938.31" width="20.25" height="18.86" fill="#ffffd9"/><rect x="567.50" y="938.31" width="20.25" height="18.86" fill="#ffffd9"/><rect x="587.75" y="938.31" width="20.25" height="18.86" fill="#ffffd9"/><rect x="41.00" y="957.17" width="20.25" height="18.86" fill="#ffffd9"/><rect x="61.25" y="957.17" width="20.25" height="18.86" fill="#fcfed3"/><rect x="81.50" y="957.17" width="20.25" height="18.86" fill="#f9fdcb"/><rect x="101.75" y="957.17" width="20.25" height="18.86" fill="#ffffd9"/><rect x="122.00" y="957.17" width="20.25" height="18.86" fill="#ffffd9"/><rect x="142.25" y="957.17" width="20.25" height="18.86" fill="#ffffd9"/><rect x="162.50" y="957.17" width="20.25" height="18.86" fill="#ffffd9"/><rect x="182.75" y="957.17" width="20.25" height="18.86" fill="#ffffd9"/><rect x="203.00" y="957.17" width="20.25" height="18.86" fill="#ffffd9"/><rect x="223.25" y="957.17" width="20.25" height="18.86" fill="#fdfed4"/><rect x="243.50" y="957.17" width="20.25" height="18.86" fill="#0e2265"/><rect x="263.75" y="957.17" width="20.25" height="18.86" fill="#fdfed4"/><rect x="284.00" y="957.17" width="20.25" height="18.86" fill="#2354a3"/><rect x="304.25" y="957.17" width="20.25" height="18.86" fill="#081d58"/><rect x="324.50" y="957.17" width="20.25" height="18.86" fill="#ffffd9"/><rect x="344.75" y="957.17" width="20.25" height="18.86" fill="#ffffd9"/><rect x="365.00" y="957.17" width="20.25" height="18.86" fill="#0a1e5c"/><rect x="385.25" y="957.17" width="20.25" height="18.86" fill="#ffffd9"/><rect x="405.50" y="957.17" width="20.25" height="18.86" fill="#ffffd9"/><rect x="425.75" y="957.17" width="20.25" height="18.86" fill="#ffffd9"/><rect x="446.00" y="957.17" width="20.25" height="18.86" fill="#e9f7b1"/><rect x="466.25" y="957.17" width="20.25" height="18.86" fill="#63c3bf"/><rect x="486.50" y="957.17" width="20.25" height="18.86" fill="#0d2161"/><rect x="506.75" y="957.17" width="20.25" height="18.86" fill="#e9f7b1"/><rect x="527.00" y="957.17" width="20.25" height="18.86" fill="#0a1e5c"/><rect x="547.25" y="957.17" width="20.25" height="18.86" fill="#1d8ebf"/><rect x="567.50" y="957.17" width="20.25" height="18.86" fill="#dcf1b2"/><rect x="587.75" y="957.17" width="20.25" height="18.86" fill="#ceecb3"/><rect x="41.00" y="976.03" width="20.25" height="18.86" fill="#ffffd9"/><rect x="61.25" y="976.03" width="20.25" height="18.86" fill="#225da8"/><rect x="81.50" y="976.03" width="20.25" height="18.86" fill="#0d2161"/><rect x="101.75" y="976.03" width="20.25" height="18.86" fill="#feffd8"/><rect x="122.00" y="976.03" width="20.25" height="18.86" fill="#ffffd9"/><rect x="142.25" y="976.03" width="20.25" height="18.86" fill="#ffffd9"/><rect x="162.50" y="976.03" width="20.25" height="18.86" fill="#e6f5b2"/><rect x="182.75" y="976.03" width="20.25" height="18.86" fill="#fcfed3"/><rect x="203.00" y="976.03" width="20.25" height="18.86" fill="#ffffd9"/><rect x="223.25" y="976.03" width="20.25" height="18.86" fill="#243f99"/><rect x="243.50" y="976.03" width="20.25" height="18.86" fill="#081d58"/><rect x="263.75" y="976.03" width="20.25" height="18.86" fill="#225aa6"/><rect x="284.00" y="976.03" width="20.25" height="18.86" fill="#081d58"/><rect x="304.25" y="976.03" width="20.25" height="18.86" fill="#081d58"/><rect x="324.50" y="976.03" width="20.25" height="18.86" fill="#ffffd9"/><rect x="344.75" y="976.03" width="20.25" height="18.86" fill="#e6f5b2"/><rect x="365.00" y="976.03" width="20.25" height="18.86" fill="#081d58"/><rect x="385.25" y="976.03" width="20.25" height="18.86" fill="#081d58"/><rect x="405.50" y="976.03" width="20.25" height="18.86" fill="#ffffd9"/><rect x="425.75" y="976.03" width="20.25" height="18.86" fill="#ffffd9"/><rect x="446.00" y="976.03" width="20.25" height="18.86" fill="#0a1e5c"/><rect x="466.25" y="976.03" width="20.25" height="18.86" fill="#13266f"/><rect x="486.50" y="976.03" width="20.25" height="18.86" fill="#081d58"/><rect x="506.75" y="976.03" width="20.25" height="18.86" fill="#0a1e5c"/><rect x="527.00" y="976.03" width="20.25" height="18.86" fill="#081d58"/><rect x="547.25" y="976.03" width="20.25" height="18.86" fill="#081d58"/><rect x="567.50" y="976.03" width="20.25" height="18.86" fill="#2262aa"/><rect x="587.75" y="976.03" width="20.25" height="18.86" fill="#0a1e5c"/><rect x="41.00" y="994.89" width="20.25" height="18.86" fill="#ffffd9"/><rect x="61.25" y="994.89" width="20.25" height="18.86" fill="#0a1e5c"/><rect x="81.50" y="994.89" width="20.25" height="18.86" fill="#081d58"/><rect x="101.75" y="994.89" width="20.25" height="18.86" fill="#f8fcc9"/><rect x="122.00" y="994.89" width="20.25" height="18.86" fill="#ffffd9"/><rect x="142.25" y="994.89" width="20.25" height="18.86" fill="#ffffd9"/><rect x="162.50" y="994.89" width="20.25" height="18.86" fill="#3eb3c4"/><rect x="182.75" y="994.89" width="20.25" height="18.86" fill="#e6f5b2"/><rect x="203.00" y="994.89" width="20.25" height="18.86" fill="#feffd8"/><rect x="223.25" y="994.89" width="20.25" height="18.86" fill="#081d58"/><rect x="243.50" y="994.89" width="20.25" height="18.86" fill="#081d58"/><rect x="263.75" y="994.89" width="20.25" height="18.86" fill="#081d58"/><rect x="284.00" y="994.89" width="20.25" height="18.86" fill="#081d58"/><rect x="304.25" y="994.89" width="20.25" height="18.86" fill="#081d58"/><rect x="324.50" y="994.89" width="20.25" height="18.86" fill="#f7fcc7"/><rect x="344.75" y="994.89" width="20.25" height="18.86" fill="#2076b3"/><rect x="365.00" y="994.89" width="20.25" height="18.86" fill="#081d58"/><rect x="385.25" y="994.89" width="20.25" height="18.86" fill="#081d58"/><rect x="405.50" y="994.89" width="20.25" height="18.86" fill="#081d58"/><rect x="425.75" y="994.89" width="20.25" height="18.86" fill="#ffffd9"/><rect x="446.00" y="994.89" width="20.25" height="18.86" fill="#081d58"/><rect x="466.25" y="994.89" width="20.25" height="18.86" fill="#0a1e5c"/><rect x="486.50" y="994.89" width="20.25" height="18.86" fill="#081d58"/><rect x="506.75" y="994.89" width="20.25" height="18.86" fill="#081d58"/><rect x="527.00" y="994.89" width="20.25" height="18.86" fill="#081d58"/><rect x="547.25" y="994.89" width="20.25" height="18.86" fill="#081d58"/><rect x="567.50" y="994.89" width="20.25" height="18.86" fill="#0e2265"/><rect x="587.75" y="994.89" width="20.25" height="18.86" fill="#081d58"/><rect x="41.00" y="1013.74" width="20.25" height="18.86" fill="#ffffd9"/><rect x="61.25" y="1013.74" width="20.25" height="18.86" fill="#bbe4b5"/><rect x="81.50" y="1013.74" width="20.25" height="18.86" fill="#35aac3"/><rect x="101.75" y="1013.74" width="20.25" height="18.86" fill="#ffffd9"/><rect x="122.00" y="1013.74" width="20.25" height="18.86" fill="#ffffd9"/><rect x="142.25" y="1013.74" width="20.25" height="18.86" fill="#ffffd9"/><rect x="162.50" y="1013.74" width="20.25" height="18.86" fill="#fcfed3"/><rect x="182.75" y="1013.74" width="20.25" height="18.86" fill="#ffffd9"/><rect x="203.00" y="1013.74" width="20.25" height="18.86" fill="#ffffd9"/><rect x="223.25" y="1013.74" width="20.25" height="18.86" fill="#1e83ba"/><rect x="243.50" y="1013.74" width="20.25" height="18.86" fill="#0a1e5c"/><rect x="263.75" y="1013.74" width="20.25" height="18.86" fill="#2195c0"/><rect x="284.00" y="1013.74" width="20.25" height="18.86" fill="#0d2161"/><rect x="304.25" y="1013.74" width="20.25" height="18.86" fill="#081d58"/><rect x="324.50" y="1013.74" width="20.25" height="18.86" fill="#ffffd9"/><rect x="344.75" y="1013.74" width="20.25" height="18.86" fill="#fcfed3"/><rect x="365.00" y="1013.74" width="20.25" height="18.86" fill="#081d58"/><rect x="385.25" y="1013.74" width="20.25" height="18.86" fill="#253896"/><rect x="405.50" y="1013.74" width="20.25" height="18.86" fill="#feffd8"/><rect x="425.75" y="1013.74" width="20.25" height="18.86" fill="#ffffd9"/><rect x="446.00" y="1013.74" width="20.25" height="18.86" fill="#ffffd9"/><rect x="466.25" y="1013.74" width="20.25" height="18.86" fill="#1f7ab5"/><rect x="486.50" y="1013.74" width="20.25" height="18.86" fill="#081d58"/><rect x="506.75" y="1013.74" width="20.25" height="18.86" fill="#3eb3c4"/><rect x="527.00" y="1013.74" width="20.25" height="18.86" fill="#081d58"/><rect x="547.25" y="1013.74" width="20.25" height="18.86" fill="#0a1e5c"/><rect x="567.50" y="1013.74" width="20.25" height="18.86" fill="#8ed3ba"/><rect x="587.75" y="1013.74" width="20.25" height="18.86" fill="#eef8b3"/><rect x="41.00" y="1032.60" width="20.25" height="18.86" fill="#ffffd9"/><rect x="61.25" y="1032.60" width="20.25" height="18.86" fill="#caeab4"/><rect x="81.50" y="1032.60" width="20.25" height="18.86" fill="#b0e0b6"/><rect x="101.75" y="1032.60" width="20.25" height="18.86" fill="#ffffd9"/><rect x="122.00" y="1032.60" width="20.25" height="18.86" fill="#ffffd9"/><rect x="142.25" y="1032.60" width="20.25" height="18.86" fill="#ffffd9"/><rect x="162.50" y="1032.60" width="20.25" height="18.86" fill="#f1faba"/><rect x="182.75" y="1032.60" width="20.25" height="18.86" fill="#ffffd9"/><rect x="203.00" y="1032.60" width="20.25" height="18.86" fill="#ffffd9"/><rect x="223.25" y="1032.60" width="20.25" height="18.86" fill="#78cbbc"/><rect x="243.50" y="1032.60" width="20.25" height="18.86" fill="#172978"/><rect x="263.75" y="1032.60" width="20.25" height="18.86" fill="#b7e3b6"/><rect x="284.00" y="1032.60" width="20.25" height="18.86" fill="#162874"/><rect x="304.25" y="1032.60" width="20.25" height="18.86" fill="#0d2161"/><rect x="324.50" y="1032.60" width="20.25" height="18.86" fill="#feffd6"/><rect x="344.75" y="1032.60" width="20.25" height="18.86" fill="#feffd6"/><rect x="365.00" y="1032.60" width="20.25" height="18.86" fill="#0a1e5c"/><rect x="385.25" y="1032.60" width="20.25" height="18.86" fill="#2da2c2"/><rect x="405.50" y="1032.60" width="20.25" height="18.86" fill="#f8fcc9"/><rect x="425.75" y="1032.60" width="20.25" height="18.86" fill="#fdfed5"/><rect x="446.00" y="1032.60" width="20.25" height="18.86" fill="#a0dab8"/><rect x="466.25" y="1032.60" width="20.25" height="18.86" fill="#ffffd9"/><rect x="486.50" y="1032.60" width="20.25" height="18.86" fill="#162874"/><rect x="506.75" y="1032.60" width="20.25" height="18.86" fill="#b0e0b6"/><rect x="527.00" y="1032.60" width="20.25" height="18.86" fill="#13266f"/><rect x="547.25" y="1032.60" width="20.25" height="18.86" fill="#2195c0"/><rect x="567.50" y="1032.60" width="20.25" height="18.86" fill="#f6fbc5"/><rect x="587.75" y="1032.60" width="20.25" height="18.86" fill="#78cbbc"/><rect x="41.00" y="1051.46" width="20.25" height="18.86" fill="#ffffd9"/><rect x="61.25" y="1051.46" width="20.25" height="18.86" fill="#ffffd9"/><rect x="81.50" y="1051.46" width="20.25" height="18.86" fill="#ffffd9"/><rect x="101.75" y="1051.46" width="20.25" height="18.86" fill="#ffffd9"/><rect x="122.00" y="1051.46" width="20.25" height="18.86" fill="#ffffd9"/><rect x="142.25" y="1051.46" width="20.25" height="18.86" fill="#ffffd9"/><rect x="162.50" y="1051.46" width="20.25" height="18.86" fill="#ffffd9"/><rect x="182.75" y="1051.46" width="20.25" height="18.86" fill="#ffffd9"/><rect x="203.00" y="1051.46" width="20.25" height="18.86" fill="#ffffd9"/><rect x="223.25" y="1051.46" width="20.25" height="18.86" fill="#ffffd9"/><rect x="243.50" y="1051.46" width="20.25" height="18.86" fill="#f7fcc7"/><rect x="263.75" y="1051.46" width="20.25" height="18.86" fill="#ffffd9"/><rect x="284.00" y="1051.46" width="20.25" height="18.86" fill="#f6fbc5"/><rect x="304.25" y="1051.46" width="20.25" height="18.86" fill="#1f7eb7"/><rect x="324.50" y="1051.46" width="20.25" height="18.86" fill="#ffffd9"/><rect x="344.75" y="1051.46" width="20.25" height="18.86" fill="#ffffd9"/><rect x="365.00" y="1051.46" width="20.25" height="18.86" fill="#225da8"/><rect x="385.25" y="1051.46" width="20.25" height="18.86" fill="#fdfed5"/><rect x="405.50" y="1051.46" width="20.25" height="18.86" fill="#ffffd9"/><rect x="425.75" y="1051.46" width="20.25" height="18.86" fill="#ffffd9"/><rect x="446.00" y="1051.46" width="20.25" height="18.86" fill="#ffffd9"/><rect x="466.25" y="1051.46" width="20.25" height="18.86" fill="#f7fcc7"/><rect x="486.50" y="1051.46" width="20.25" height="18.86" fill="#ffffd9"/><rect x="506.75" y="1051.46" width="20.25" height="18.86" fill="#ffffd9"/><rect x="527.00" y="1051.46" width="20.25" height="18.86" fill="#bbe4b5"/><rect x="547.25" y="1051.46" width="20.25" height="18.86" fill="#ffffd9"/><rect x="567.50" y="1051.46" width="20.25" height="18.86" fill="#fbfdd0"/><rect x="587.75" y="1051.46" width="20.25" height="18.86" fill="#ffffd9"/><rect x="41.00" y="1070.31" width="20.25" height="18.86" fill="#ffffd9"/><rect x="61.25" y="1070.31" width="20.25" height="18.86" fill="#99d7b8"/><rect x="81.50" y="1070.31" width="20.25" height="18.86" fill="#39adc3"/><rect x="101.75" y="1070.31" width="20.25" height="18.86" fill="#ffffd9"/><rect x="122.00" y="1070.31" width="20.25" height="18.86" fill="#ffffd9"/><rect x="142.25" y="1070.31" width="20.25" height="18.86" fill="#ffffd9"/><rect x="162.50" y="1070.31" width="20.25" height="18.86" fill="#f4fbc0"/><rect x="182.75" y="1070.31" width="20.25" height="18.86" fill="#ffffd9"/><rect x="203.00" y="1070.31" width="20.25" height="18.86" fill="#ffffd9"/><rect x="223.25" y="1070.31" width="20.25" height="18.86" fill="#1e83ba"/><rect x="243.50" y="1070.31" width="20.25" height="18.86" fill="#0d2161"/><rect x="263.75" y="1070.31" width="20.25" height="18.86" fill="#2da2c2"/><rect x="284.00" y="1070.31" width="20.25" height="18.86" fill="#0e2265"/><rect x="304.25" y="1070.31" width="20.25" height="18.86" fill="#081d58"/><rect x="324.50" y="1070.31" width="20.25" height="18.86" fill="#ffffd9"/><rect x="344.75" y="1070.31" width="20.25" height="18.86" fill="#f7fcc7"/><rect x="365.00" y="1070.31" width="20.25" height="18.86" fill="#081d58"/><rect x="385.25" y="1070.31" width="20.25" height="18.86" fill="#253896"/><rect x="405.50" y="1070.31" width="20.25" height="18.86" fill="#fdfed5"/><rect x="425.75" y="1070.31" width="20.25" height="18.86" fill="#ffffd9"/><rect x="446.00" y="1070.31" width="20.25" height="18.86" fill="#55bec1"/><rect x="466.25" y="1070.31" width="20.25" height="18.86" fill="#206eb0"/><rect x="486.50" y="1070.31" width="20.25" height="18.86" fill="#081d58"/><rect x="506.75" y="1070.31" width="20.25" height="18.86" fill="#ffffd9"/><rect x="527.00" y="1070.31" width="20.25" height="18.86" fill="#081d58"/><rect x="547.25" y="1070.31" width="20.25" height="18.86" fill="#0a1e5c"/><rect x="567.50" y="1070.31" width="20.25" height="18.86" fill="#73c8bd"/><rect x="587.75" y="1070.31" width="20.25" height="18.86" fill="#2498c1"/><rect x="41.00" y="1089.17" width="20.25" height="18.86" fill="#ffffd9"/><rect x="61.25" y="1089.17" width="20.25" height="18.86" fill="#ffffd9"/><rect x="81.50" y="1089.17" width="20.25" height="18.86" fill="#ffffd9"/><rect x="101.75" y="1089.17" width="20.25" height="18.86" fill="#ffffd9"/><rect x="122.00" y="1089.17" width="20.25" height="18.86" fill="#ffffd9"/><rect x="142.25" y="1089.17" width="20.25" height="18.86" fill="#ffffd9"/><rect x="162.50" y="1089.17" width="20.25" height="18.86" fill="#ffffd9"/><rect x="182.75" y="1089.17" width="20.25" height="18.86" fill="#ffffd9"/><rect x="203.00" y="1089.17" width="20.25" height="18.86" fill="#ffffd9"/><rect x="223.25" y="1089.17" width="20.25" height="18.86" fill="#ffffd9"/><rect x="243.50" y="1089.17" width="20.25" height="18.86" fill="#d6efb3"/><rect x="263.75" y="1089.17" width="20.25" height="18.86" fill="#ffffd9"/><rect x="284.00" y="1089.17" width="20.25" height="18.86" fill="#e0f3b2"/><rect x="304.25" y="1089.17" width="20.25" height="18.86" fill="#233390"/><rect x="324.50" y="1089.17" width="20.25" height="18.86" fill="#ffffd9"/><rect x="344.75" y="1089.17" width="20.25" height="18.86" fill="#ffffd9"/><rect x="365.00" y="1089.17" width="20.25" height="18.86" fill="#0e2265"/><rect x="385.25" y="1089.17" width="20.25" height="18.86" fill="#feffd6"/><rect x="405.50" y="1089.17" width="20.25" height="18.86" fill="#ffffd9"/><rect x="425.75" y="1089.17" width="20.25" height="18.86" fill="#ffffd9"/><rect x="446.00" y="1089.17" width="20.25" height="18.86" fill="#ffffd9"/><rect x="466.25" y="1089.17" width="20.25" height="18.86" fill="#f9fdcb"/><rect x="486.50" y="1089.17" width="20.25" height="18.86" fill="#2166ac"/><rect x="506.75" y="1089.17" width="20.25" height="18.86" fill="#ffffd9"/><rect x="527.00" y="1089.17" width="20.25" height="18.86" fill="#ffffd9"/><rect x="547.25" y="1089.17" width="20.25" height="18.86" fill="#feffd8"/><rect x="567.50" y="1089.17" width="20.25" height="18.86" fill="#ffffd9"/><rect x="587.75" y="1089.17" width="20.25" height="18.86" fill="#ffffd9"/><rect x="41.00" y="1108.03" width="20.25" height="18.86" fill="#ffffd9"/><rect x="61.25" y="1108.03" width="20.25" height="18.86" fill="#fcfed1"/><rect x="81.50" y="1108.03" width="20.25" height="18.86" fill="#fafdce"/><rect x="101.75" y="1108.03" width="20.25" height="18.86" fill="#ffffd9"/><rect x="122.00" y="1108.03" width="20.25" height="18.86" fill="#ffffd9"/><rect x="142.25" y="1108.03" width="20.25" height="18.86" fill="#ffffd9"/><rect x="162.50" y="1108.03" width="20.25" height="18.86" fill="#ffffd9"/><rect x="182.75" y="1108.03" width="20.25" height="18.86" fill="#ffffd9"/><rect x="203.00" y="1108.03" width="20.25" height="18.86" fill="#ffffd9"/><rect x="223.25" y="1108.03" width="20.25" height="18.86" fill="#d0edb3"/><rect x="243.50" y="1108.03" width="20.25" height="18.86" fill="#2356a4"/><rect x="263.75" y="1108.03" width="20.25" height="18.86" fill="#f1faba"/><rect x="284.00" y="1108.03" width="20.25" height="18.86" fill="#2350a1"/><rect x="304.25" y="1108.03" width="20.25" height="18.86" fill="#0a1e5c"/><rect x="324.50" y="1108.03" width="20.25" height="18.86" fill="#ffffd9"/><rect x="344.75" y="1108.03" width="20.25" height="18.86" fill="#ffffd9"/><rect x="365.00" y="1108.03" width="20.25" height="18.86" fill="#081d58"/><rect x="385.25" y="1108.03" width="20.25" height="18.86" fill="#83cebb"/><rect x="405.50" y="1108.03" width="20.25" height="18.86" fill="#ffffd9"/><rect x="425.75" y="1108.03" width="20.25" height="18.86" fill="#ffffd9"/><rect x="446.00" y="1108.03" width="20.25" height="18.86" fill="#feffd8"/><rect x="466.25" y="1108.03" width="20.25" height="18.86" fill="#78cbbc"/><rect x="486.50" y="1108.03" width="20.25" height="18.86" fill="#081d58"/><rect x="506.75" y="1108.03" width="20.25" height="18.86" fill="#feffd8"/><rect x="527.00" y="1108.03" width="20.25" height="18.86" fill="#081d58"/><rect x="547.25" y="1108.03" width="20.25" height="18.86" fill="#ffffd9"/><rect x="567.50" y="1108.03" width="20.25" height="18.86" fill="#f1faba"/><rect x="587.75" y="1108.03" width="20.25" height="18.86" fill="#feffd8"/><rect x="41.00" y="1126.89" width="20.25" height="18.86" fill="#ffffd9"/><rect x="61.25" y="1126.89" width="20.25" height="18.86" fill="#40b5c4"/><rect x="81.50" y="1126.89" width="20.25" height="18.86" fill="#3bb0c3"/><rect x="101.75" y="1126.89" width="20.25" height="18.86" fill="#fcfed1"/><rect x="122.00" y="1126.89" width="20.25" height="18.86" fill="#feffd8"/><rect x="142.25" y="1126.89" width="20.25" height="18.86" fill="#ffffd9"/><rect x="162.50" y="1126.89" width="20.25" height="18.86" fill="#c6e9b4"/><rect x="182.75" y="1126.89" width="20.25" height="18.86" fill="#fcfed1"/><rect x="203.00" y="1126.89" width="20.25" height="18.86" fill="#feffd6"/><rect x="223.25" y="1126.89" width="20.25" height="18.86" fill="#35aac3"/><rect x="243.50" y="1126.89" width="20.25" height="18.86" fill="#11246b"/><rect x="263.75" y="1126.89" width="20.25" height="18.86" fill="#69c5be"/><rect x="284.00" y="1126.89" width="20.25" height="18.86" fill="#11246b"/><rect x="304.25" y="1126.89" width="20.25" height="18.86" fill="#081d58"/><rect x="324.50" y="1126.89" width="20.25" height="18.86" fill="#fafdce"/><rect x="344.75" y="1126.89" width="20.25" height="18.86" fill="#f8fcca"/><rect x="365.00" y="1126.89" width="20.25" height="18.86" fill="#081d58"/><rect x="385.25" y="1126.89" width="20.25" height="18.86" fill="#24479d"/><rect x="405.50" y="1126.89" width="20.25" height="18.86" fill="#c2e7b4"/><rect x="425.75" y="1126.89" width="20.25" height="18.86" fill="#fbfdd0"/><rect x="446.00" y="1126.89" width="20.25" height="18.86" fill="#1e86bb"/><rect x="466.25" y="1126.89" width="20.25" height="18.86" fill="#162874"/><rect x="486.50" y="1126.89" width="20.25" height="18.86" fill="#0e2265"/><rect x="506.75" y="1126.89" width="20.25" height="18.86" fill="#2498c1"/><rect x="527.00" y="1126.89" width="20.25" height="18.86" fill="#081d58"/><rect x="547.25" y="1126.89" width="20.25" height="18.86" fill="#1f2f87"/><rect x="567.50" y="1126.89" width="20.25" height="18.86" fill="#ffffd9"/><rect x="587.75" y="1126.89" width="20.25" height="18.86" fill="#1f7ab5"/><rect x="41.00" y="1145.74" width="20.25" height="18.86" fill="#ffffd9"/><rect x="61.25" y="1145.74" width="20.25" height="18.86" fill="#c6e9b4"/><rect x="81.50" y="1145.74" width="20.25" height="18.86" fill="#5fc1c0"/><rect x="101.75" y="1145.74" width="20.25" height="18.86" fill="#ffffd9"/><rect x="122.00" y="1145.74" width="20.25" height="18.86" fill="#ffffd9"/><rect x="142.25" y="1145.74" width="20.25" height="18.86" fill="#ffffd9"/><rect x="162.50" y="1145.74" width="20.25" height="18.86" fill="#fbfdd0"/><rect x="182.75" y="1145.74" width="20.25" height="18.86" fill="#ffffd9"/><rect x="203.00" y="1145.74" width="20.25" height="18.86" fill="#ffffd9"/><rect x="223.25" y="1145.74" width="20.25" height="18.86" fill="#1d8ebf"/><rect x="243.50" y="1145.74" width="20.25" height="18.86" fill="#0e2265"/><rect x="263.75" y="1145.74" width="20.25" height="18.86" fill="#2498c1"/><rect x="284.00" y="1145.74" width="20.25" height="18.86" fill="#13266f"/><rect x="304.25" y="1145.74" width="20.25" height="18.86" fill="#081d58"/><rect x="324.50" y="1145.74" width="20.25" height="18.86" fill="#ffffd9"/><rect x="344.75" y="1145.74" width="20.25" height="18.86" fill="#fcfed1"/><rect x="365.00" y="1145.74" width="20.25" height="18.86" fill="#081d58"/><rect x="385.25" y="1145.74" width="20.25" height="18.86" fill="#2356a4"/><rect x="405.50" y="1145.74" width="20.25" height="18.86" fill="#feffd6"/><rect x="425.75" y="1145.74" width="20.25" height="18.86" fill="#ffffd9"/><rect x="446.00" y="1145.74" width="20.25" height="18.86" fill="#fafdcf"/><rect x="466.25" y="1145.74" width="20.25" height="18.86" fill="#2195c0"/><rect x="486.50" y="1145.74" width="20.25" height="18.86" fill="#081d58"/><rect x="506.75" y="1145.74" width="20.25" height="18.86" fill="#92d5b9"/><rect x="527.00" y="1145.74" width="20.25" height="18.86" fill="#081d58"/><rect x="547.25" y="1145.74" width="20.25" height="18.86" fill="#0a1e5c"/><rect x="567.50" y="1145.74" width="20.25" height="18.86" fill="#a0dab8"/><rect x="587.75" y="1145.74" width="20.25" height="18.86" fill="#ffffd9"/></g><g transform="scale(0.9,1)" font-size="7.0" font-weight="bold" text-anchor="middle"><g fill="#262626" stroke="#262626" stroke-width="0.2" stroke-linejoin="round"><text x="56.81" y="648.33">0</text><text x="56.81" y="667.19">0</text><text x="79.31" y="667.19">0</text><text x="124.31" y="667.19">0</text><text x="146.81" y="667.19">0</text><text x="169.31" y="667.19">0</text><text x="191.81" y="667.19">0.0074</text><text x="214.31" y="667.19">0</text><text x="236.81" y="667.19">0</text><text x="371.81" y="667.19">0.00072</text><text x="394.31" y="667.19">0.069</text><text x="461.81" y="667.19">0.25</text><text x="484.31" y="667.19">0.006</text><text x="56.81" y="686.04">0</text><text x="79.31" y="686.04">0.2</text><text x="101.81" y="686.04">0</text><text x="124.31" y="686.04">0</text><text x="146.81" y="686.04">0</text><text x="169.31" y="686.04">0</text><text x="191.81" y="686.04">0.0035</text><text x="214.31" y="686.04">4e-05</text><text x="236.81" y="686.04">2e-05</text><text x="304.31" y="686.04">0.44</text><text x="371.81" y="686.04">4e-05</text><text x="394.31" y="686.04">0.033</text><text x="461.81" y="686.04">0.02</text><text x="484.31" y="686.04">0</text><text x="506.81" y="686.04">0.46</text><text x="574.31" y="686.04">0.47</text><text x="56.81" y="704.90">0.0003</text><text x="124.31" y="704.90">0</text><text x="146.81" y="704.90">0.0094</text><text x="169.31" y="704.90">0.0019</text><text x="236.81" y="704.90">0.063</text><text x="56.81" y="723.76">0.0033</text><text x="146.81" y="723.76">0</text><text x="169.31" y="723.76">0.032</text><text x="236.81" y="723.76">0.29</text><text x="56.81" y="742.61">0.024</text><text x="169.31" y="742.61">0</text><text x="56.81" y="761.47">0</text><text x="124.31" y="761.47">0.0007</text><text x="146.81" y="761.47">0</text><text x="169.31" y="761.47">0</text><text x="191.81" y="761.47">0</text><text x="214.31" y="761.47">0.056</text><text x="236.81" y="761.47">0.00022</text><text x="371.81" y="761.47">0.038</text><text x="394.31" y="761.47">0.36</text><text x="56.81" y="780.33">0.0002</text><text x="124.31" y="780.33">0.28</text><text x="146.81" y="780.33">0.00046</text><text x="169.31" y="780.33">0</text><text x="214.31" y="780.33">0</text><text x="236.81" y="780.33">2e-05</text><text x="371.81" y="780.33">0.33</text><text x="56.81" y="799.19">0.031</text><text x="169.31" y="799.19">0.38</text><text x="236.81" y="799.19">0</text><text x="56.81" y="818.04">4e-05</text><text x="79.31" y="818.04">0.1</text><text x="101.81" y="818.04">0.45</text><text x="124.31" y="818.04">0.0004</text><text x="146.81" y="818.04">2e-05</text><text x="169.31" y="818.04">0.00014</text><text x="191.81" y="818.04">0.0063</text><text x="214.31" y="818.04">0.0032</text><text x="236.81" y="818.04">0.00038</text><text x="259.31" y="818.04">0</text><text x="304.31" y="818.04">0.037</text><text x="371.81" y="818.04">0.0032</text><text x="394.31" y="818.04">0.063</text><text x="461.81" y="818.04">0.15</text><text x="484.31" y="818.04">0.0027</text><text x="506.81" y="818.04">0.34</text><text x="574.31" y="818.04">0.34</text><text x="641.81" y="818.04">0.46</text><text x="664.31" y="818.04">0.37</text><text x="56.81" y="836.90">0</text><text x="79.31" y="836.90">0.0023</text><text x="101.81" y="836.90">4e-05</text><text x="124.31" y="836.90">0</text><text x="146.81" y="836.90">0</text><text x="169.31" y="836.90">0</text><text x="191.81" y="836.90">8e-05</text><text x="214.31" y="836.90">0</text><text x="236.81" y="836.90">0</text><text x="259.31" y="836.90">0</text><text x="281.81" y="836.90">0</text><text x="304.31" y="836.90">0</text><text x="326.81" y="836.90">0.11</text><text x="371.81" y="836.90">0</text><text x="394.31" y="836.90">4e-05</text><text x="439.31" y="836.90">0.028</text><text x="461.81" y="836.90">2e-05</text><text x="484.31" y="836.90">0</text><text x="506.81" y="836.90">0.0099</text><text x="529.31" y="836.90">0.072</text><text x="574.31" y="836.90">0.024</text><text x="619.31" y="836.90">0.23</text><text x="641.81" y="836.90">0.041</text><text x="664.31" y="836.90">0.026</text><text x="56.81" y="855.76">0.00012</text><text x="79.31" y="855.76">0.13</text><text x="124.31" y="855.76">0.0023</text><text x="146.81" y="855.76">0.00034</text><text x="169.31" y="855.76">0.00056</text><text x="191.81" y="855.76">0.012</text><text x="214.31" y="855.76">0.0071</text><text x="236.81" y="855.76">0.0013</text><text x="304.31" y="855.76">0</text><text x="371.81" y="855.76">0.0069</text><text x="394.31" y="855.76">0.098</text><text x="461.81" y="855.76">0.24</text><text x="484.31" y="855.76">0.004</text><text x="506.81" y="855.76">0.39</text><text x="574.31" y="855.76">0.43</text><text x="664.31" y="855.76">0.4</text><text x="56.81" y="874.61">0</text><text x="79.31" y="874.61">0.0055</text><text x="101.81" y="874.61">2e-05</text><text x="124.31" y="874.61">0</text><text x="146.81" y="874.61">0</text><text x="169.31" y="874.61">0</text><text x="191.81" y="874.61">2e-05</text><text x="214.31" y="874.61">0</text><text x="236.81" y="874.61">0</text><text x="259.31" y="874.61">4e-05</text><text x="304.31" y="874.61">0</text><text x="326.81" y="874.61">0</text><text x="371.81" y="874.61">0</text><text x="394.31" y="874.61">8e-05</text><text x="439.31" y="874.61">0.22</text><text x="461.81" y="874.61">0.00056</text><text x="484.31" y="874.61">0</text><text x="506.81" y="874.61">0.019</text><text x="529.31" y="874.61">0.057</text><text x="574.31" y="874.61">0.029</text><text x="619.31" y="874.61">0.21</text><text x="641.81" y="874.61">0.064</text><text x="664.31" y="874.61">0.042</text><text x="56.81" y="893.47">0</text><text x="79.31" y="893.47">8e-05</text><text x="101.81" y="893.47">0</text><text x="124.31" y="893.47">0</text><text x="146.81" y="893.47">0</text><text x="169.31" y="893.47">0</text><text x="191.81" y="893.47">0</text><text x="214.31" y="893.47">0</text><text x="236.81" y="893.47">0</text><text x="259.31" y="893.47">0</text><text x="281.81" y="893.47">0.0003</text><text x="304.31" y="893.47">0</text><text x="326.81" y="893.47">2e-05</text><text x="349.31" y="893.47">0</text><text x="371.81" y="893.47">0</text><text x="394.31" y="893.47">0</text><text x="416.81" y="893.47">0.42</text><text x="439.31" y="893.47">0.00054</text><text x="461.81" y="893.47">0</text><text x="484.31" y="893.47">0</text><text x="506.81" y="893.47">0.0004</text><text x="529.31" y="893.47">0.017</text><text x="551.81" y="893.47">0.33</text><text x="574.31" y="893.47">0.0019</text><text x="596.81" y="893.47">0.12</text><text x="619.31" y="893.47">0.0073</text><text x="641.81" y="893.47">0.00054</text><text x="664.31" y="893.47">0.00032</text><text x="56.81" y="912.33">0.02</text><text x="124.31" y="912.33">0.35</text><text x="146.81" y="912.33">0.085</text><text x="169.31" y="912.33">0.078</text><text x="236.81" y="912.33">0.16</text><text x="371.81" y="912.33">0</text><text x="56.81" y="931.19">0.002</text><text x="124.31" y="931.19">0.045</text><text x="146.81" y="931.19">0.0058</text><text x="169.31" y="931.19">0.0043</text><text x="214.31" y="931.19">0.12</text><text x="236.81" y="931.19">0.02</text><text x="371.81" y="931.19">0.16</text><text x="394.31" y="931.19">0</text><text x="484.31" y="931.19">0.31</text><text x="56.81" y="950.04">0</text><text x="79.31" y="950.04">8e-05</text><text x="101.81" y="950.04">0</text><text x="124.31" y="950.04">0</text><text x="146.81" y="950.04">0</text><text x="169.31" y="950.04">0</text><text x="191.81" y="950.04">0</text><text x="214.31" y="950.04">0</text><text x="236.81" y="950.04">0</text><text x="259.31" y="950.04">0</text><text x="281.81" y="950.04">0.048</text><text x="304.31" y="950.04">0</text><text x="326.81" y="950.04">0.012</text><text x="371.81" y="950.04">0</text><text x="394.31" y="950.04">0</text><text x="416.81" y="950.04">0</text><text x="439.31" y="950.04">0.0059</text><text x="461.81" y="950.04">0</text><text x="484.31" y="950.04">0</text><text x="506.81" y="950.04">0</text><text x="529.31" y="950.04">0.014</text><text x="551.81" y="950.04">0.25</text><text x="574.31" y="950.04">0</text><text x="596.81" y="950.04">0.035</text><text x="619.31" y="950.04">0.0006</text><text x="641.81" y="950.04">0.0032</text><text x="664.31" y="950.04">2e-05</text><text x="56.81" y="968.90">0</text><text x="79.31" y="968.90">0.023</text><text x="101.81" y="968.90">0.044</text><text x="124.31" y="968.90">0</text><text x="146.81" y="968.90">0</text><text x="169.31" y="968.90">0</text><text x="191.81" y="968.90">0.002</text><text x="214.31" y="968.90">0.00026</text><text x="236.81" y="968.90">2e-05</text><text x="259.31" y="968.90">0.019</text><text x="304.31" y="968.90">0.017</text><text x="371.81" y="968.90">0</text><text x="394.31" y="968.90">0.001</text><text x="439.31" y="968.90">0</text><text x="461.81" y="968.90">0.00064</text><text x="484.31" y="968.90">0</text><text x="506.81" y="968.90">0.14</text><text x="529.31" y="968.90">0.43</text><text x="574.31" y="968.90">0.14</text><text x="641.81" y="968.90">0.18</text><text x="664.31" y="968.90">0.23</text><text x="56.81" y="987.76">2e-05</text><text x="124.31" y="987.76">0.0047</text><text x="146.81" y="987.76">0</text><text x="169.31" y="987.76">0.0001</text><text x="191.81" y="987.76">0.15</text><text x="214.31" y="987.76">0.023</text><text x="236.81" y="987.76">0.0027</text><text x="371.81" y="987.76">0</text><text x="394.31" y="987.76">0.15</text><text x="461.81" y="987.76">0</text><text x="484.31" y="987.76">0.00052</text><text x="56.81" y="1006.61">0.00032</text><text x="124.31" y="1006.61">0.051</text><text x="146.81" y="1006.61">0.00048</text><text x="169.31" y="1006.61">0.00052</text><text x="214.31" y="1006.61">0.15</text><text x="236.81" y="1006.61">0.0064</text><text x="371.81" y="1006.61">0.057</text><text x="484.31" y="1006.61">0</text><text x="56.81" y="1025.47">0</text><text x="79.31" y="1025.47">0.27</text><text x="124.31" y="1025.47">6e-05</text><text x="146.81" y="1025.47">0</text><text x="169.31" y="1025.47">0</text><text x="191.81" y="1025.47">0.021</text><text x="214.31" y="1025.47">0.00064</text><text x="236.81" y="1025.47">2e-05</text><text x="371.81" y="1025.47">0</text><text x="394.31" y="1025.47">0.023</text><text x="461.81" y="1025.47">0.0067</text><text x="484.31" y="1025.47">0</text><text x="506.81" y="1025.47">0</text><text x="641.81" y="1025.47">0.35</text><text x="664.31" y="1025.47">0.12</text><text x="56.81" y="1044.33">0.00034</text><text x="79.31" y="1044.33">0.24</text><text x="101.81" y="1044.33">0.29</text><text x="124.31" y="1044.33">0.0022</text><text x="146.81" y="1044.33">0.00052</text><text x="169.31" y="1044.33">0.0005</text><text x="191.81" y="1044.33">0.1</text><text x="214.31" y="1044.33">0.0033</text><text x="236.81" y="1044.33">0.00096</text><text x="259.31" y="1044.33">0.39</text><text x="304.31" y="1044.33">0.28</text><text x="371.81" y="1044.33">0.0095</text><text x="394.31" y="1044.33">0.0095</text><text x="461.81" y="1044.33">0.051</text><text x="484.31" y="1044.33">0.014</text><text x="506.81" y="1044.33">0.32</text><text x="529.31" y="1044.33">0</text><text x="574.31" y="1044.33">0.29</text><text x="641.81" y="1044.33">0.063</text><text x="664.31" y="1044.33">0.39</text><text x="56.81" y="1063.19">0</text><text x="79.31" y="1063.19">0.0001</text><text x="101.81" y="1063.19">0</text><text x="124.31" y="1063.19">0</text><text x="146.81" y="1063.19">0</text><text x="169.31" y="1063.19">0</text><text x="191.81" y="1063.19">6e-05</text><text x="214.31" y="1063.19">0</text><text x="236.81" y="1063.19">0</text><text x="259.31" y="1063.19">0</text><text x="281.81" y="1063.19">0.056</text><text x="304.31" y="1063.19">0</text><text x="326.81" y="1063.19">0.065</text><text x="371.81" y="1063.19">0</text><text x="394.31" y="1063.19">4e-05</text><text x="439.31" y="1063.19">0.015</text><text x="461.81" y="1063.19">0</text><text x="484.31" y="1063.19">0</text><text x="506.81" y="1063.19">0</text><text x="529.31" y="1063.19">0.056</text><text x="551.81" y="1063.19">0</text><text x="574.31" y="1063.19">0.0001</text><text x="596.81" y="1063.19">0.27</text><text x="619.31" y="1063.19">0.0037</text><text x="641.81" y="1063.19">0.028</text><text x="664.31" y="1063.19">0</text><text x="56.81" y="1082.04">0</text><text x="79.31" y="1082.04">0.33</text><text x="124.31" y="1082.04">0.00052</text><text x="146.81" y="1082.04">2e-05</text><text x="169.31" y="1082.04">2e-05</text><text x="191.81" y="1082.04">0.082</text><text x="214.31" y="1082.04">0.0023</text><text x="236.81" y="1082.04">0.00028</text><text x="371.81" y="1082.04">0</text><text x="394.31" y="1082.04">0.055</text><text x="461.81" y="1082.04">0.014</text><text x="484.31" y="1082.04">0</text><text x="506.81" y="1082.04">0.46</text><text x="574.31" y="1082.04">0</text><text x="641.81" y="1082.04">0.4</text><text x="56.81" y="1100.90">0</text><text x="79.31" y="1100.90">8e-05</text><text x="101.81" y="1100.90">0.0022</text><text x="124.31" y="1100.90">0</text><text x="146.81" y="1100.90">0</text><text x="169.31" y="1100.90">0</text><text x="191.81" y="1100.90">0</text><text x="214.31" y="1100.90">0</text><text x="236.81" y="1100.90">0</text><text x="259.31" y="1100.90">0.0038</text><text x="281.81" y="1100.90">0.2</text><text x="304.31" y="1100.90">0.0026</text><text x="326.81" y="1100.90">0.17</text><text x="371.81" y="1100.90">0</text><text x="394.31" y="1100.90">8e-05</text><text x="439.31" y="1100.90">0.0079</text><text x="461.81" y="1100.90">0</text><text x="484.31" y="1100.90">0</text><text x="506.81" y="1100.90">8e-05</text><text x="529.31" y="1100.90">0.045</text><text x="574.31" y="1100.90">0.00014</text><text x="596.81" y="1100.90">0</text><text x="619.31" y="1100.90">0.0045</text><text x="641.81" y="1100.90">0.0017</text><text x="664.31" y="1100.90">4e-05</text><text x="56.81" y="1119.76">0</text><text x="79.31" y="1119.76">0.024</text><text x="101.81" y="1119.76">0.039</text><text x="124.31" y="1119.76">0</text><text x="146.81" y="1119.76">0</text><text x="169.31" y="1119.76">0</text><text x="191.81" y="1119.76">0.0012</text><text x="214.31" y="1119.76">4e-05</text><text x="236.81" y="1119.76">0</text><text x="259.31" y="1119.76">0.22</text><text x="304.31" y="1119.76">0.099</text><text x="371.81" y="1119.76">0</text><text x="394.31" y="1119.76">0.00058</text><text x="439.31" y="1119.76">0.37</text><text x="461.81" y="1119.76">0</text><text x="484.31" y="1119.76">0</text><text x="506.81" y="1119.76">0.0055</text><text x="529.31" y="1119.76">0.39</text><text x="574.31" y="1119.76">0.0068</text><text x="619.31" y="1119.76">0</text><text x="641.81" y="1119.76">0.1</text><text x="664.31" y="1119.76">0.0078</text><text x="56.81" y="1138.61">0.003</text><text x="124.31" y="1138.61">0.025</text><text x="146.81" y="1138.61">0.0049</text><text x="169.31" y="1138.61">0.0032</text><text x="191.81" y="1138.61">0.25</text><text x="214.31" y="1138.61">0.027</text><text x="236.81" y="1138.61">0.01</text><text x="304.31" y="1138.61">0.42</text><text x="371.81" y="1138.61">0.037</text><text x="394.31" y="1138.61">0.048</text><text x="461.81" y="1138.61">0.26</text><text x="484.31" y="1138.61">0.028</text><text x="641.81" y="1138.61">0</text><text x="56.81" y="1157.47">0</text><text x="79.31" y="1157.47">0.25</text><text x="101.81" y="1157.47">0.44</text><text x="124.31" y="1157.47">0.00012</text><text x="146.81" y="1157.47">0</text><text x="169.31" y="1157.47">0</text><text x="191.81" y="1157.47">0.031</text><text x="214.31" y="1157.47">0.00042</text><text x="236.81" y="1157.47">2e-05</text><text x="371.81" y="1157.47">0</text><text x="394.31" y="1157.47">0.024</text><text x="461.81" y="1157.47">0.0089</text><text x="484.31" y="1157.47">0</text><text x="506.81" y="1157.47">0.033</text><text x="574.31" y="1157.47">0.34</text><text x="641.81" y="1157.47">0.32</text><text x="664.31" y="1157.47">0</text></g><g fill="#fff" stroke="#fff" stroke-width="0.0" stroke-linejoin="round"><text x="79.31" y="648.33">1</text><text x="101.81" y="648.33">1</text><text x="124.31" y="648.33">1</text><text x="146.81" y="648.33">0.97</text><text x="169.31" y="648.33">0.55</text><text x="191.81" y="648.33">1</text><text x="214.31" y="648.33">1</text><text x="236.81" y="648.33">0.97</text><text x="259.31" y="648.33">1</text><text x="281.81" y="648.33">1</text><text x="304.31" y="648.33">1</text><text x="326.81" y="648.33">1</text><text x="349.31" y="648.33">1</text><text x="371.81" y="648.33">0.98</text><text x="394.31" y="648.33">1</text><text x="416.81" y="648.33">1</text><text x="439.31" y="648.33">1</text><text x="461.81" y="648.33">1</text><text x="484.31" y="648.33">1</text><text x="506.81" y="648.33">1</text><text x="529.31" y="648.33">1</text><text x="551.81" y="648.33">1</text><text x="574.31" y="648.33">1</text><text x="596.81" y="648.33">1</text><text x="619.31" y="648.33">1</text><text x="641.81" y="648.33">1</text><text x="664.31" y="648.33">1</text><text x="101.81" y="667.19">0.8</text><text x="259.31" y="667.19">0.9</text><text x="281.81" y="667.19">1</text><text x="304.31" y="667.19">0.87</text><text x="326.81" y="667.19">0.99</text><text x="349.31" y="667.19">1</text><text x="416.81" y="667.19">1</text><text x="439.31" y="667.19">0.98</text><text x="506.81" y="667.19">0.73</text><text x="529.31" y="667.19">0.76</text><text x="551.81" y="667.19">1</text><text x="574.31" y="667.19">0.67</text><text x="596.81" y="667.19">1</text><text x="619.31" y="667.19">0.98</text><text x="641.81" y="667.19">0.5</text><text x="664.31" y="667.19">0.75</text><text x="259.31" y="686.04">0.55</text><text x="281.81" y="686.04">1</text><text x="326.81" y="686.04">1</text><text x="349.31" y="686.04">1</text><text x="416.81" y="686.04">1</text><text x="439.31" y="686.04">0.96</text><text x="529.31" y="686.04">0.71</text><text x="551.81" y="686.04">1</text><text x="596.81" y="686.04">1</text><text x="619.31" y="686.04">0.96</text><text x="641.81" y="686.04">0.48</text><text x="664.31" y="686.04">0.56</text><text x="79.31" y="704.90">1</text><text x="101.81" y="704.90">1</text><text x="191.81" y="704.90">1</text><text x="214.31" y="704.90">0.72</text><text x="259.31" y="704.90">1</text><text x="281.81" y="704.90">1</text><text x="304.31" y="704.90">1</text><text x="326.81" y="704.90">1</text><text x="349.31" y="704.90">1</text><text x="371.81" y="704.90">0.65</text><text x="394.31" y="704.90">0.95</text><text x="416.81" y="704.90">1</text><text x="439.31" y="704.90">1</text><text x="461.81" y="704.90">1</text><text x="484.31" y="704.90">0.95</text><text x="506.81" y="704.90">1</text><text x="529.31" y="704.90">1</text><text x="551.81" y="704.90">1</text><text x="574.31" y="704.90">1</text><text x="596.81" y="704.90">1</text><text x="619.31" y="704.90">1</text><text x="641.81" y="704.90">0.97</text><text x="664.31" y="704.90">1</text><text x="79.31" y="723.76">1</text><text x="101.81" y="723.76">1</text><text x="124.31" y="723.76">0.99</text><text x="191.81" y="723.76">1</text><text x="214.31" y="723.76">1</text><text x="259.31" y="723.76">1</text><text x="281.81" y="723.76">1</text><text x="304.31" y="723.76">1</text><text x="326.81" y="723.76">1</text><text x="349.31" y="723.76">1</text><text x="371.81" y="723.76">0.92</text><text x="394.31" y="723.76">0.99</text><text x="416.81" y="723.76">1</text><text x="439.31" y="723.76">1</text><text x="461.81" y="723.76">1</text><text x="484.31" y="723.76">1</text><text x="506.81" y="723.76">1</text><text x="529.31" y="723.76">1</text><text x="551.81" y="723.76">1</text><text x="574.31" y="723.76">1</text><text x="596.81" y="723.76">1</text><text x="619.31" y="723.76">1</text><text x="641.81" y="723.76">1</text><text x="664.31" y="723.76">1</text><text x="79.31" y="742.61">1</text><text x="101.81" y="742.61">1</text><text x="124.31" y="742.61">1</text><text x="146.81" y="742.61">0.82</text><text x="191.81" y="742.61">1</text><text x="214.31" y="742.61">1</text><text x="236.81" y="742.61">0.61</text><text x="259.31" y="742.61">1</text><text x="281.81" y="742.61">1</text><text x="304.31" y="742.61">1</text><text x="326.81" y="742.61">1</text><text x="349.31" y="742.61">1</text><text x="371.81" y="742.61">0.92</text><text x="394.31" y="742.61">1</text><text x="416.81" y="742.61">1</text><text x="439.31" y="742.61">1</text><text x="461.81" y="742.61">1</text><text x="484.31" y="742.61">1</text><text x="506.81" y="742.61">1</text><text x="529.31" y="742.61">1</text><text x="551.81" y="742.61">1</text><text x="574.31" y="742.61">1</text><text x="596.81" y="742.61">1</text><text x="619.31" y="742.61">1</text><text x="641.81" y="742.61">1</text><text x="664.31" y="742.61">1</text><text x="79.31" y="761.47">0.99</text><text x="101.81" y="761.47">1</text><text x="259.31" y="761.47">0.99</text><text x="281.81" y="761.47">1</text><text x="304.31" y="761.47">0.99</text><text x="326.81" y="761.47">1</text><text x="349.31" y="761.47">1</text><text x="416.81" y="761.47">1</text><text x="439.31" y="761.47">1</text><text x="461.81" y="761.47">0.85</text><text x="484.31" y="761.47">0.49</text><text x="506.81" y="761.47">0.98</text><text x="529.31" y="761.47">0.9</text><text x="551.81" y="761.47">1</text><text x="574.31" y="761.47">0.92</text><text x="596.81" y="761.47">1</text><text x="619.31" y="761.47">1</text><text x="641.81" y="761.47">0.75</text><text x="664.31" y="761.47">0.97</text><text x="79.31" y="780.33">1</text><text x="101.81" y="780.33">1</text><text x="191.81" y="780.33">0.96</text><text x="259.31" y="780.33">1</text><text x="281.81" y="780.33">1</text><text x="304.31" y="780.33">0.99</text><text x="326.81" y="780.33">1</text><text x="349.31" y="780.33">1</text><text x="394.31" y="780.33">0.88</text><text x="416.81" y="780.33">1</text><text x="439.31" y="780.33">1</text><text x="461.81" y="780.33">0.98</text><text x="484.31" y="780.33">0.85</text><text x="506.81" y="780.33">1</text><text x="529.31" y="780.33">1</text><text x="551.81" y="780.33">1</text><text x="574.31" y="780.33">1</text><text x="596.81" y="780.33">1</text><text x="619.31" y="780.33">1</text><text x="641.81" y="780.33">0.97</text><text x="664.31" y="780.33">1</text><text x="79.31" y="799.19">1</text><text x="101.81" y="799.19">1</text><text x="124.31" y="799.19">0.94</text><text x="146.81" y="799.19">0.66</text><text x="191.81" y="799.19">1</text><text x="214.31" y="799.19">1</text><text x="259.31" y="799.19">1</text><text x="281.81" y="799.19">1</text><text x="304.31" y="799.19">1</text><text x="326.81" y="799.19">1</text><text x="349.31" y="799.19">1</text><text x="371.81" y="799.19">0.84</text><text x="394.31" y="799.19">0.98</text><text x="416.81" y="799.19">1</text><text x="439.31" y="799.19">1</text><text x="461.81" y="799.19">1</text><text x="484.31" y="799.19">0.99</text><text x="506.81" y="799.19">1</text><text x="529.31" y="799.19">1</text><text x="551.81" y="799.19">1</text><text x="574.31" y="799.19">1</text><text x="596.81" y="799.19">1</text><text x="619.31" y="799.19">1</text><text x="641.81" y="799.19">0.99</text><text x="664.31" y="799.19">1</text><text x="281.81" y="818.04">1</text><text x="326.81" y="818.04">1</text><text x="349.31" y="818.04">1</text><text x="416.81" y="818.04">1</text><text x="439.31" y="818.04">0.98</text><text x="529.31" y="818.04">0.61</text><text x="551.81" y="818.04">1</text><text x="596.81" y="818.04">1</text><text x="619.31" y="818.04">0.78</text><text x="349.31" y="836.90">1</text><text x="416.81" y="836.90">0.95</text><text x="551.81" y="836.90">0.94</text><text x="596.81" y="836.90">0.79</text><text x="101.81" y="855.76">0.56</text><text x="259.31" y="855.76">0.83</text><text x="281.81" y="855.76">1</text><text x="326.81" y="855.76">1</text><text x="349.31" y="855.76">1</text><text x="416.81" y="855.76">1</text><text x="439.31" y="855.76">0.98</text><text x="529.31" y="855.76">0.72</text><text x="551.81" y="855.76">1</text><text x="596.81" y="855.76">1</text><text x="619.31" y="855.76">0.9</text><text x="641.81" y="855.76">0.58</text><text x="281.81" y="874.61">0.87</text><text x="349.31" y="874.61">1</text><text x="416.81" y="874.61">0.99</text><text x="551.81" y="874.61">0.93</text><text x="596.81" y="874.61">0.83</text><text x="79.31" y="912.33">1</text><text x="101.81" y="912.33">1</text><text x="191.81" y="912.33">0.96</text><text x="214.31" y="912.33">0.67</text><text x="259.31" y="912.33">1</text><text x="281.81" y="912.33">1</text><text x="304.31" y="912.33">0.99</text><text x="326.81" y="912.33">1</text><text x="349.31" y="912.33">1</text><text x="394.31" y="912.33">0.84</text><text x="416.81" y="912.33">1</text><text x="439.31" y="912.33">1</text><text x="461.81" y="912.33">1</text><text x="484.31" y="912.33">0.94</text><text x="506.81" y="912.33">1</text><text x="529.31" y="912.33">0.99</text><text x="551.81" y="912.33">1</text><text x="574.31" y="912.33">1</text><text x="596.81" y="912.33">1</text><text x="619.31" y="912.33">1</text><text x="641.81" y="912.33">0.96</text><text x="664.31" y="912.33">1</text><text x="79.31" y="931.19">0.93</text><text x="101.81" y="931.19">0.97</text><text x="191.81" y="931.19">0.64</text><text x="259.31" y="931.19">0.94</text><text x="281.81" y="931.19">1</text><text x="304.31" y="931.19">0.9</text><text x="326.81" y="931.19">1</text><text x="349.31" y="931.19">1</text><text x="416.81" y="931.19">1</text><text x="439.31" y="931.19">1</text><text x="461.81" y="931.19">0.85</text><text x="506.81" y="931.19">0.98</text><text x="529.31" y="931.19">0.99</text><text x="551.81" y="931.19">1</text><text x="574.31" y="931.19">0.94</text><text x="596.81" y="931.19">1</text><text x="619.31" y="931.19">1</text><text x="641.81" y="931.19">0.95</text><text x="664.31" y="931.19">0.98</text><text x="349.31" y="950.04">0.58</text><text x="281.81" y="968.90">0.97</text><text x="326.81" y="968.90">0.78</text><text x="349.31" y="968.90">1</text><text x="416.81" y="968.90">0.99</text><text x="551.81" y="968.90">0.98</text><text x="596.81" y="968.90">0.99</text><text x="619.31" y="968.90">0.63</text><text x="79.31" y="987.76">0.75</text><text x="101.81" y="987.76">0.98</text><text x="259.31" y="987.76">0.84</text><text x="281.81" y="987.76">1</text><text x="304.31" y="987.76">0.76</text><text x="326.81" y="987.76">1</text><text x="349.31" y="987.76">1</text><text x="416.81" y="987.76">1</text><text x="439.31" y="987.76">1</text><text x="506.81" y="987.76">0.99</text><text x="529.31" y="987.76">0.95</text><text x="551.81" y="987.76">1</text><text x="574.31" y="987.76">0.99</text><text x="596.81" y="987.76">1</text><text x="619.31" y="987.76">1</text><text x="641.81" y="987.76">0.74</text><text x="664.31" y="987.76">0.99</text><text x="79.31" y="1006.61">0.99</text><text x="101.81" y="1006.61">1</text><text x="191.81" y="1006.61">0.51</text><text x="259.31" y="1006.61">1</text><text x="281.81" y="1006.61">1</text><text x="304.31" y="1006.61">1</text><text x="326.81" y="1006.61">1</text><text x="349.31" y="1006.61">1</text><text x="394.31" y="1006.61">0.69</text><text x="416.81" y="1006.61">1</text><text x="439.31" y="1006.61">1</text><text x="461.81" y="1006.61">1</text><text x="506.81" y="1006.61">1</text><text x="529.31" y="1006.61">0.99</text><text x="551.81" y="1006.61">1</text><text x="574.31" y="1006.61">1</text><text x="596.81" y="1006.61">1</text><text x="619.31" y="1006.61">1</text><text x="641.81" y="1006.61">0.97</text><text x="664.31" y="1006.61">1</text><text x="101.81" y="1025.47">0.54</text><text x="259.31" y="1025.47">0.66</text><text x="281.81" y="1025.47">0.99</text><text x="304.31" y="1025.47">0.61</text><text x="326.81" y="1025.47">0.98</text><text x="349.31" y="1025.47">1</text><text x="416.81" y="1025.47">1</text><text x="439.31" y="1025.47">0.86</text><text x="529.31" y="1025.47">0.68</text><text x="551.81" y="1025.47">1</text><text x="574.31" y="1025.47">0.51</text><text x="596.81" y="1025.47">1</text><text x="619.31" y="1025.47">0.99</text><text x="281.81" y="1044.33">0.93</text><text x="326.81" y="1044.33">0.94</text><text x="349.31" y="1044.33">0.98</text><text x="416.81" y="1044.33">0.99</text><text x="439.31" y="1044.33">0.57</text><text x="551.81" y="1044.33">0.94</text><text x="596.81" y="1044.33">0.95</text><text x="619.31" y="1044.33">0.61</text><text x="349.31" y="1063.19">0.67</text><text x="416.81" y="1063.19">0.75</text><text x="101.81" y="1082.04">0.53</text><text x="259.31" y="1082.04">0.66</text><text x="281.81" y="1082.04">0.98</text><text x="304.31" y="1082.04">0.57</text><text x="326.81" y="1082.04">0.97</text><text x="349.31" y="1082.04">1</text><text x="416.81" y="1082.04">1</text><text x="439.31" y="1082.04">0.86</text><text x="529.31" y="1082.04">0.71</text><text x="551.81" y="1082.04">1</text><text x="596.81" y="1082.04">1</text><text x="619.31" y="1082.04">0.99</text><text x="664.31" y="1082.04">0.6</text><text x="349.31" y="1100.90">0.88</text><text x="416.81" y="1100.90">0.97</text><text x="551.81" y="1100.90">0.73</text><text x="281.81" y="1119.76">0.77</text><text x="326.81" y="1119.76">0.79</text><text x="349.31" y="1119.76">0.99</text><text x="416.81" y="1119.76">1</text><text x="551.81" y="1119.76">1</text><text x="596.81" y="1119.76">1</text><text x="79.31" y="1138.61">0.5</text><text x="101.81" y="1138.61">0.52</text><text x="259.31" y="1138.61">0.54</text><text x="281.81" y="1138.61">0.96</text><text x="326.81" y="1138.61">0.96</text><text x="349.31" y="1138.61">1</text><text x="416.81" y="1138.61">1</text><text x="439.31" y="1138.61">0.82</text><text x="506.81" y="1138.61">0.65</text><text x="529.31" y="1138.61">0.94</text><text x="551.81" y="1138.61">0.97</text><text x="574.31" y="1138.61">0.6</text><text x="596.81" y="1138.61">1</text><text x="619.31" y="1138.61">0.9</text><text x="664.31" y="1138.61">0.68</text><text x="259.31" y="1157.47">0.63</text><text x="281.81" y="1157.47">0.97</text><text x="304.31" y="1157.47">0.6</text><text x="326.81" y="1157.47">0.95</text><text x="349.31" y="1157.47">1</text><text x="416.81" y="1157.47">1</text><text x="439.31" y="1157.47">0.77</text><text x="529.31" y="1157.47">0.61</text><text x="551.81" y="1157.47">1</text><text x="596.81" y="1157.47">1</text><text x="619.31" y="1157.47">0.99</text></g></g><g transform="scale(0.9,1)" font-size="7.0" font-weight="normal" text-anchor="end" fill="#000" stroke="#000" stroke-width="0.35" stroke-linejoin="round"><text x="40.00" y="648.43">CSPUS</text><text x="40.00" y="667.29">LTRUS</text><text x="40.00" y="686.14">CUS</text><text x="40.00" y="705.00">PCFS</text><text x="40.00" y="723.86">SDUS1</text><text x="40.00" y="742.71">SDUS2</text><text x="40.00" y="761.57">RBU</text><text x="40.00" y="780.43">CC1</text><text x="40.00" y="799.29">CC2</text><text x="40.00" y="818.14">ENN</text><text x="40.00" y="837.00">TomekLinks</text><text x="40.00" y="855.86">AllKNN</text><text x="40.00" y="874.71">OSS</text><text x="40.00" y="893.57">Origin</text><text x="40.00" y="912.43">CSPHS</text><text x="40.00" y="931.29">MLOS</text><text x="40.00" y="950.14">E-SMOTE</text><text x="40.00" y="969.00">CPS</text><text x="40.00" y="987.86">LDAS</text><text x="40.00" y="1006.71">CDBH</text><text x="40.00" y="1025.57">SMOTE-TK</text><text x="40.00" y="1044.43">GDO</text><text x="40.00" y="1063.29">MWMOTE</text><text x="40.00" y="1082.14">ADASYN</text><text x="40.00" y="1101.00">C-SMOTE</text><text x="40.00" y="1119.86">B-SMOTE</text><text x="40.00" y="1138.71">G-SMOTE</text><text x="40.00" y="1157.57">SMOTE</text></g><g font-size="7.0" font-weight="normal" text-anchor="middle" fill="#000" stroke="#000" stroke-width="0.3" stroke-linejoin="round"><text transform="translate(52.27,624.98) rotate(-30) scale(0.9,1)">CSPUS</text><text transform="translate(72.52,624.96) rotate(-30) scale(0.9,1)">LTRUS</text><text transform="translate(92.77,626.74) rotate(-30) scale(0.9,1)">CUS</text><text transform="translate(113.02,626.12) rotate(-30) scale(0.9,1)">PCFS</text><text transform="translate(133.27,624.99) rotate(-30) scale(0.9,1)">SDUS1</text><text transform="translate(153.52,624.99) rotate(-30) scale(0.9,1)">SDUS2</text><text transform="translate(173.77,626.56) rotate(-30) scale(0.9,1)">RBU</text><text transform="translate(194.02,626.91) rotate(-30) scale(0.9,1)">CC1</text><text transform="translate(214.27,626.91) rotate(-30) scale(0.9,1)">CC2</text><text transform="translate(234.52,626.56) rotate(-30) scale(0.9,1)">ENN</text><text transform="translate(254.77,621.86) rotate(-30) scale(0.9,1)">TomekLinks</text><text transform="translate(275.02,624.38) rotate(-30) scale(0.9,1)">AllKNN</text><text transform="translate(295.27,626.91) rotate(-30) scale(0.9,1)">OSS</text><text transform="translate(315.52,625.69) rotate(-30) scale(0.9,1)">Origin</text><text transform="translate(335.77,624.98) rotate(-30) scale(0.9,1)">CSPHS</text><text transform="translate(356.02,625.42) rotate(-30) scale(0.9,1)">MLOS</text><text transform="translate(376.27,622.98) rotate(-30) scale(0.9,1)">E-SMOTE</text><text transform="translate(396.52,627.00) rotate(-30) scale(0.9,1)">CPS</text><text transform="translate(416.77,625.69) rotate(-30) scale(0.9,1)">LDAS</text><text transform="translate(437.02,625.42) rotate(-30) scale(0.9,1)">CDBH</text><text transform="translate(457.27,621.84) rotate(-30) scale(0.9,1)">SMOTE-TK</text><text transform="translate(477.52,626.39) rotate(-30) scale(0.9,1)">GDO</text><text transform="translate(497.77,622.45) rotate(-30) scale(0.9,1)">MWMOTE</text><text transform="translate(518.02,623.24) rotate(-30) scale(0.9,1)">ADASYN</text><text transform="translate(538.27,622.89) rotate(-30) scale(0.9,1)">C-SMOTE</text><text transform="translate(558.52,622.89) rotate(-30) scale(0.9,1)">B-SMOTE</text><text transform="translate(578.77,622.80) rotate(-30) scale(0.9,1)">G-SMOTE</text><text transform="translate(599.02,624.46) rotate(-30) scale(0.9,1)">SMOTE</text></g><rect x="644.2" y="636.6" width="26.80" height="528.00" fill="url(#cb)"/><g font-size="8.5" fill="#000" stroke="#000" stroke-width="0.3" stroke-linejoin="round"><line x1="670.40" x2="676.00" y1="1165.00" y2="1165.00" stroke="#000" stroke-width="1.0"/><text x="675.80" y="1167.90">0.0</text><line x1="670.40" x2="676.00" y1="1059.40" y2="1059.40" stroke="#000" stroke-width="1.0"/><text x="675.80" y="1062.30">0.2</text><line x1="670.40" x2="676.00" y1="953.80" y2="953.80" stroke="#000" stroke-width="1.0"/><text x="675.80" y="956.70">0.4</text><line x1="670.40" x2="676.00" y1="848.20" y2="848.20" stroke="#000" stroke-width="1.0"/><text x="675.80" y="851.10">0.6</text><line x1="670.40" x2="676.00" y1="742.60" y2="742.60" stroke="#000" stroke-width="1.0"/><text x="675.80" y="745.50">0.8</text><line x1="670.40" x2="676.00" y1="637.00" y2="637.00" stroke="#000" stroke-width="1.0"/><text x="675.80" y="639.90">1.0</text></g><g font-size="15.9" fill="#000" stroke="#000" stroke-width="0.3" stroke-linejoin="round"><text x="301.60" y="1196.8" textLength="21.33" lengthAdjust="spacingAndGlyphs">(b)</text><text x="332.70" y="1196.8" textLength="54.96" lengthAdjust="spacingAndGlyphs">Gmean</text></g><g stroke="#fff" stroke-width="0.6"><rect x="37.00" y="1252.00" width="20.25" height="18.84" fill="#ffffd9"/><rect x="57.25" y="1252.00" width="20.25" height="18.84" fill="#ffffd9"/><rect x="77.50" y="1252.00" width="20.25" height="18.84" fill="#081d58"/><rect x="97.75" y="1252.00" width="20.25" height="18.84" fill="#1f7eb7"/><rect x="118.00" y="1252.00" width="20.25" height="18.84" fill="#081d58"/><rect x="138.25" y="1252.00" width="20.25" height="18.84" fill="#081d58"/><rect x="158.50" y="1252.00" width="20.25" height="18.84" fill="#081d58"/><rect x="178.75" y="1252.00" width="20.25" height="18.84" fill="#fbfdd0"/><rect x="199.00" y="1252.00" width="20.25" height="18.84" fill="#0a1e5c"/><rect x="219.25" y="1252.00" width="20.25" height="18.84" fill="#081d58"/><rect x="239.50" y="1252.00" width="20.25" height="18.84" fill="#081d58"/><rect x="259.75" y="1252.00" width="20.25" height="18.84" fill="#081d58"/><rect x="280.00" y="1252.00" width="20.25" height="18.84" fill="#081d58"/><rect x="300.25" y="1252.00" width="20.25" height="18.84" fill="#081d58"/><rect x="320.50" y="1252.00" width="20.25" height="18.84" fill="#081d58"/><rect x="340.75" y="1252.00" width="20.25" height="18.84" fill="#081d58"/><rect x="361.00" y="1252.00" width="20.25" height="18.84" fill="#081d58"/><rect x="381.25" y="1252.00" width="20.25" height="18.84" fill="#081d58"/><rect x="401.50" y="1252.00" width="20.25" height="18.84" fill="#081d58"/><rect x="421.75" y="1252.00" width="20.25" height="18.84" fill="#081d58"/><rect x="442.00" y="1252.00" width="20.25" height="18.84" fill="#081d58"/><rect x="462.25" y="1252.00" width="20.25" height="18.84" fill="#081d58"/><rect x="482.50" y="1252.00" width="20.25" height="18.84" fill="#081d58"/><rect x="502.75" y="1252.00" width="20.25" height="18.84" fill="#081d58"/><rect x="523.00" y="1252.00" width="20.25" height="18.84" fill="#081d58"/><rect x="543.25" y="1252.00" width="20.25" height="18.84" fill="#081d58"/><rect x="563.50" y="1252.00" width="20.25" height="18.84" fill="#081d58"/><rect x="583.75" y="1252.00" width="20.25" height="18.84" fill="#081d58"/><rect x="37.00" y="1270.84" width="20.25" height="18.84" fill="#081d58"/><rect x="57.25" y="1270.84" width="20.25" height="18.84" fill="#ffffd9"/><rect x="77.50" y="1270.84" width="20.25" height="18.84" fill="#081d58"/><rect x="97.75" y="1270.84" width="20.25" height="18.84" fill="#081d58"/><rect x="118.00" y="1270.84" width="20.25" height="18.84" fill="#081d58"/><rect x="138.25" y="1270.84" width="20.25" height="18.84" fill="#081d58"/><rect x="158.50" y="1270.84" width="20.25" height="18.84" fill="#081d58"/><rect x="178.75" y="1270.84" width="20.25" height="18.84" fill="#081d58"/><rect x="199.00" y="1270.84" width="20.25" height="18.84" fill="#081d58"/><rect x="219.25" y="1270.84" width="20.25" height="18.84" fill="#081d58"/><rect x="239.50" y="1270.84" width="20.25" height="18.84" fill="#081d58"/><rect x="259.75" y="1270.84" width="20.25" height="18.84" fill="#081d58"/><rect x="280.00" y="1270.84" width="20.25" height="18.84" fill="#081d58"/><rect x="300.25" y="1270.84" width="20.25" height="18.84" fill="#081d58"/><rect x="320.50" y="1270.84" width="20.25" height="18.84" fill="#081d58"/><rect x="340.75" y="1270.84" width="20.25" height="18.84" fill="#081d58"/><rect x="361.00" y="1270.84" width="20.25" height="18.84" fill="#081d58"/><rect x="381.25" y="1270.84" width="20.25" height="18.84" fill="#081d58"/><rect x="401.50" y="1270.84" width="20.25" height="18.84" fill="#081d58"/><rect x="421.75" y="1270.84" width="20.25" height="18.84" fill="#081d58"/><rect x="442.00" y="1270.84" width="20.25" height="18.84" fill="#081d58"/><rect x="462.25" y="1270.84" width="20.25" height="18.84" fill="#081d58"/><rect x="482.50" y="1270.84" width="20.25" height="18.84" fill="#081d58"/><rect x="502.75" y="1270.84" width="20.25" height="18.84" fill="#081d58"/><rect x="523.00" y="1270.84" width="20.25" height="18.84" fill="#081d58"/><rect x="543.25" y="1270.84" width="20.25" height="18.84" fill="#081d58"/><rect x="563.50" y="1270.84" width="20.25" height="18.84" fill="#081d58"/><rect x="583.75" y="1270.84" width="20.25" height="18.84" fill="#081d58"/><rect x="37.00" y="1289.69" width="20.25" height="18.84" fill="#ffffd9"/><rect x="57.25" y="1289.69" width="20.25" height="18.84" fill="#ffffd9"/><rect x="77.50" y="1289.69" width="20.25" height="18.84" fill="#ffffd9"/><rect x="97.75" y="1289.69" width="20.25" height="18.84" fill="#ffffd9"/><rect x="118.00" y="1289.69" width="20.25" height="18.84" fill="#ffffd9"/><rect x="138.25" y="1289.69" width="20.25" height="18.84" fill="#ffffd9"/><rect x="158.50" y="1289.69" width="20.25" height="18.84" fill="#ffffd9"/><rect x="178.75" y="1289.69" width="20.25" height="18.84" fill="#ffffd9"/><rect x="199.00" y="1289.69" width="20.25" height="18.84" fill="#ffffd9"/><rect x="219.25" y="1289.69" width="20.25" height="18.84" fill="#daf0b3"/><rect x="239.50" y="1289.69" width="20.25" height="18.84" fill="#081d58"/><rect x="259.75" y="1289.69" width="20.25" height="18.84" fill="#eef8b3"/><rect x="280.00" y="1289.69" width="20.25" height="18.84" fill="#081d58"/><rect x="300.25" y="1289.69" width="20.25" height="18.84" fill="#081d58"/><rect x="320.50" y="1289.69" width="20.25" height="18.84" fill="#ffffd9"/><rect x="340.75" y="1289.69" width="20.25" height="18.84" fill="#feffd8"/><rect x="361.00" y="1289.69" width="20.25" height="18.84" fill="#081d58"/><rect x="381.25" y="1289.69" width="20.25" height="18.84" fill="#11246b"/><rect x="401.50" y="1289.69" width="20.25" height="18.84" fill="#fcfed3"/><rect x="421.75" y="1289.69" width="20.25" height="18.84" fill="#ffffd9"/><rect x="442.00" y="1289.69" width="20.25" height="18.84" fill="#2166ac"/><rect x="462.25" y="1289.69" width="20.25" height="18.84" fill="#234da0"/><rect x="482.50" y="1289.69" width="20.25" height="18.84" fill="#081d58"/><rect x="502.75" y="1289.69" width="20.25" height="18.84" fill="#2072b1"/><rect x="523.00" y="1289.69" width="20.25" height="18.84" fill="#081d58"/><rect x="543.25" y="1289.69" width="20.25" height="18.84" fill="#0e2265"/><rect x="563.50" y="1289.69" width="20.25" height="18.84" fill="#2da2c2"/><rect x="583.75" y="1289.69" width="20.25" height="18.84" fill="#206eb0"/><rect x="37.00" y="1308.53" width="20.25" height="18.84" fill="#99d7b8"/><rect x="57.25" y="1308.53" width="20.25" height="18.84" fill="#ffffd9"/><rect x="77.50" y="1308.53" width="20.25" height="18.84" fill="#081d58"/><rect x="97.75" y="1308.53" width="20.25" height="18.84" fill="#ffffd9"/><rect x="118.00" y="1308.53" width="20.25" height="18.84" fill="#253595"/><rect x="138.25" y="1308.53" width="20.25" height="18.84" fill="#253595"/><rect x="158.50" y="1308.53" width="20.25" height="18.84" fill="#081d58"/><rect x="178.75" y="1308.53" width="20.25" height="18.84" fill="#f8fcc9"/><rect x="199.00" y="1308.53" width="20.25" height="18.84" fill="#172978"/><rect x="219.25" y="1308.53" width="20.25" height="18.84" fill="#081d58"/><rect x="239.50" y="1308.53" width="20.25" height="18.84" fill="#081d58"/><rect x="259.75" y="1308.53" width="20.25" height="18.84" fill="#081d58"/><rect x="280.00" y="1308.53" width="20.25" height="18.84" fill="#081d58"/><rect x="300.25" y="1308.53" width="20.25" height="18.84" fill="#081d58"/><rect x="320.50" y="1308.53" width="20.25" height="18.84" fill="#081d58"/><rect x="340.75" y="1308.53" width="20.25" height="18.84" fill="#081d58"/><rect x="361.00" y="1308.53" width="20.25" height="18.84" fill="#081d58"/><rect x="381.25" y="1308.53" width="20.25" height="18.84" fill="#081d58"/><rect x="401.50" y="1308.53" width="20.25" height="18.84" fill="#081d58"/><rect x="421.75" y="1308.53" width="20.25" height="18.84" fill="#081d58"/><rect x="442.00" y="1308.53" width="20.25" height="18.84" fill="#081d58"/><rect x="462.25" y="1308.53" width="20.25" height="18.84" fill="#081d58"/><rect x="482.50" y="1308.53" width="20.25" height="18.84" fill="#081d58"/><rect x="502.75" y="1308.53" width="20.25" height="18.84" fill="#081d58"/><rect x="523.00" y="1308.53" width="20.25" height="18.84" fill="#081d58"/><rect x="543.25" y="1308.53" width="20.25" height="18.84" fill="#081d58"/><rect x="563.50" y="1308.53" width="20.25" height="18.84" fill="#081d58"/><rect x="583.75" y="1308.53" width="20.25" height="18.84" fill="#081d58"/><rect x="37.00" y="1327.37" width="20.25" height="18.84" fill="#ffffd9"/><rect x="57.25" y="1327.37" width="20.25" height="18.84" fill="#ffffd9"/><rect x="77.50" y="1327.37" width="20.25" height="18.84" fill="#081d58"/><rect x="97.75" y="1327.37" width="20.25" height="18.84" fill="#ecf7b1"/><rect x="118.00" y="1327.37" width="20.25" height="18.84" fill="#ffffd9"/><rect x="138.25" y="1327.37" width="20.25" height="18.84" fill="#40b5c4"/><rect x="158.50" y="1327.37" width="20.25" height="18.84" fill="#081d58"/><rect x="178.75" y="1327.37" width="20.25" height="18.84" fill="#feffd8"/><rect x="199.00" y="1327.37" width="20.25" height="18.84" fill="#1f7ab5"/><rect x="219.25" y="1327.37" width="20.25" height="18.84" fill="#081d58"/><rect x="239.50" y="1327.37" width="20.25" height="18.84" fill="#081d58"/><rect x="259.75" y="1327.37" width="20.25" height="18.84" fill="#081d58"/><rect x="280.00" y="1327.37" width="20.25" height="18.84" fill="#081d58"/><rect x="300.25" y="1327.37" width="20.25" height="18.84" fill="#081d58"/><rect x="320.50" y="1327.37" width="20.25" height="18.84" fill="#081d58"/><rect x="340.75" y="1327.37" width="20.25" height="18.84" fill="#081d58"/><rect x="361.00" y="1327.37" width="20.25" height="18.84" fill="#081d58"/><rect x="381.25" y="1327.37" width="20.25" height="18.84" fill="#081d58"/><rect x="401.50" y="1327.37" width="20.25" height="18.84" fill="#081d58"/><rect x="421.75" y="1327.37" width="20.25" height="18.84" fill="#081d58"/><rect x="442.00" y="1327.37" width="20.25" height="18.84" fill="#081d58"/><rect x="462.25" y="1327.37" width="20.25" height="18.84" fill="#081d58"/><rect x="482.50" y="1327.37" width="20.25" height="18.84" fill="#081d58"/><rect x="502.75" y="1327.37" width="20.25" height="18.84" fill="#081d58"/><rect x="523.00" y="1327.37" width="20.25" height="18.84" fill="#081d58"/><rect x="543.25" y="1327.37" width="20.25" height="18.84" fill="#081d58"/><rect x="563.50" y="1327.37" width="20.25" height="18.84" fill="#081d58"/><rect x="583.75" y="1327.37" width="20.25" height="18.84" fill="#081d58"/><rect x="37.00" y="1346.21" width="20.25" height="18.84" fill="#feffd8"/><rect x="57.25" y="1346.21" width="20.25" height="18.84" fill="#ffffd9"/><rect x="77.50" y="1346.21" width="20.25" height="18.84" fill="#081d58"/><rect x="97.75" y="1346.21" width="20.25" height="18.84" fill="#e6f5b2"/><rect x="118.00" y="1346.21" width="20.25" height="18.84" fill="#6fc7bd"/><rect x="138.25" y="1346.21" width="20.25" height="18.84" fill="#ffffd9"/><rect x="158.50" y="1346.21" width="20.25" height="18.84" fill="#081d58"/><rect x="178.75" y="1346.21" width="20.25" height="18.84" fill="#ffffd9"/><rect x="199.00" y="1346.21" width="20.25" height="18.84" fill="#2354a3"/><rect x="219.25" y="1346.21" width="20.25" height="18.84" fill="#081d58"/><rect x="239.50" y="1346.21" width="20.25" height="18.84" fill="#081d58"/><rect x="259.75" y="1346.21" width="20.25" height="18.84" fill="#081d58"/><rect x="280.00" y="1346.21" width="20.25" height="18.84" fill="#081d58"/><rect x="300.25" y="1346.21" width="20.25" height="18.84" fill="#081d58"/><rect x="320.50" y="1346.21" width="20.25" height="18.84" fill="#081d58"/><rect x="340.75" y="1346.21" width="20.25" height="18.84" fill="#081d58"/><rect x="361.00" y="1346.21" width="20.25" height="18.84" fill="#081d58"/><rect x="381.25" y="1346.21" width="20.25" height="18.84" fill="#081d58"/><rect x="401.50" y="1346.21" width="20.25" height="18.84" fill="#081d58"/><rect x="421.75" y="1346.21" width="20.25" height="18.84" fill="#081d58"/><rect x="442.00" y="1346.21" width="20.25" height="18.84" fill="#081d58"/><rect x="462.25" y="1346.21" width="20.25" height="18.84" fill="#081d58"/><rect x="482.50" y="1346.21" width="20.25" height="18.84" fill="#081d58"/><rect x="502.75" y="1346.21" width="20.25" height="18.84" fill="#081d58"/><rect x="523.00" y="1346.21" width="20.25" height="18.84" fill="#081d58"/><rect x="543.25" y="1346.21" width="20.25" height="18.84" fill="#081d58"/><rect x="563.50" y="1346.21" width="20.25" height="18.84" fill="#081d58"/><rect x="583.75" y="1346.21" width="20.25" height="18.84" fill="#081d58"/><rect x="37.00" y="1365.06" width="20.25" height="18.84" fill="#ffffd9"/><rect x="57.25" y="1365.06" width="20.25" height="18.84" fill="#ffffd9"/><rect x="77.50" y="1365.06" width="20.25" height="18.84" fill="#081d58"/><rect x="97.75" y="1365.06" width="20.25" height="18.84" fill="#ffffd9"/><rect x="118.00" y="1365.06" width="20.25" height="18.84" fill="#ffffd9"/><rect x="138.25" y="1365.06" width="20.25" height="18.84" fill="#ffffd9"/><rect x="158.50" y="1365.06" width="20.25" height="18.84" fill="#ffffd9"/><rect x="178.75" y="1365.06" width="20.25" height="18.84" fill="#ffffd9"/><rect x="199.00" y="1365.06" width="20.25" height="18.84" fill="#ffffd9"/><rect x="219.25" y="1365.06" width="20.25" height="18.84" fill="#081d58"/><rect x="239.50" y="1365.06" width="20.25" height="18.84" fill="#081d58"/><rect x="259.75" y="1365.06" width="20.25" height="18.84" fill="#081d58"/><rect x="280.00" y="1365.06" width="20.25" height="18.84" fill="#081d58"/><rect x="300.25" y="1365.06" width="20.25" height="18.84" fill="#081d58"/><rect x="320.50" y="1365.06" width="20.25" height="18.84" fill="#2072b1"/><rect x="340.75" y="1365.06" width="20.25" height="18.84" fill="#0d2161"/><rect x="361.00" y="1365.06" width="20.25" height="18.84" fill="#081d58"/><rect x="381.25" y="1365.06" width="20.25" height="18.84" fill="#081d58"/><rect x="401.50" y="1365.06" width="20.25" height="18.84" fill="#081d58"/><rect x="421.75" y="1365.06" width="20.25" height="18.84" fill="#081d58"/><rect x="442.00" y="1365.06" width="20.25" height="18.84" fill="#081d58"/><rect x="462.25" y="1365.06" width="20.25" height="18.84" fill="#081d58"/><rect x="482.50" y="1365.06" width="20.25" height="18.84" fill="#081d58"/><rect x="502.75" y="1365.06" width="20.25" height="18.84" fill="#081d58"/><rect x="523.00" y="1365.06" width="20.25" height="18.84" fill="#081d58"/><rect x="543.25" y="1365.06" width="20.25" height="18.84" fill="#081d58"/><rect x="563.50" y="1365.06" width="20.25" height="18.84" fill="#081d58"/><rect x="583.75" y="1365.06" width="20.25" height="18.84" fill="#081d58"/><rect x="37.00" y="1383.90" width="20.25" height="18.84" fill="#0e2265"/><rect x="57.25" y="1383.90" width="20.25" height="18.84" fill="#ffffd9"/><rect x="77.50" y="1383.90" width="20.25" height="18.84" fill="#081d58"/><rect x="97.75" y="1383.90" width="20.25" height="18.84" fill="#13266f"/><rect x="118.00" y="1383.90" width="20.25" height="18.84" fill="#081d58"/><rect x="138.25" y="1383.90" width="20.25" height="18.84" fill="#081d58"/><rect x="158.50" y="1383.90" width="20.25" height="18.84" fill="#081d58"/><rect x="178.75" y="1383.90" width="20.25" height="18.84" fill="#ffffd9"/><rect x="199.00" y="1383.90" width="20.25" height="18.84" fill="#081d58"/><rect x="219.25" y="1383.90" width="20.25" height="18.84" fill="#081d58"/><rect x="239.50" y="1383.90" width="20.25" height="18.84" fill="#081d58"/><rect x="259.75" y="1383.90" width="20.25" height="18.84" fill="#081d58"/><rect x="280.00" y="1383.90" width="20.25" height="18.84" fill="#081d58"/><rect x="300.25" y="1383.90" width="20.25" height="18.84" fill="#081d58"/><rect x="320.50" y="1383.90" width="20.25" height="18.84" fill="#081d58"/><rect x="340.75" y="1383.90" width="20.25" height="18.84" fill="#081d58"/><rect x="361.00" y="1383.90" width="20.25" height="18.84" fill="#081d58"/><rect x="381.25" y="1383.90" width="20.25" height="18.84" fill="#081d58"/><rect x="401.50" y="1383.90" width="20.25" height="18.84" fill="#081d58"/><rect x="421.75" y="1383.90" width="20.25" height="18.84" fill="#081d58"/><rect x="442.00" y="1383.90" width="20.25" height="18.84" fill="#081d58"/><rect x="462.25" y="1383.90" width="20.25" height="18.84" fill="#081d58"/><rect x="482.50" y="1383.90" width="20.25" height="18.84" fill="#081d58"/><rect x="502.75" y="1383.90" width="20.25" height="18.84" fill="#081d58"/><rect x="523.00" y="1383.90" width="20.25" height="18.84" fill="#081d58"/><rect x="543.25" y="1383.90" width="20.25" height="18.84" fill="#081d58"/><rect x="563.50" y="1383.90" width="20.25" height="18.84" fill="#081d58"/><rect x="583.75" y="1383.90" width="20.25" height="18.84" fill="#081d58"/><rect x="37.00" y="1402.74" width="20.25" height="18.84" fill="#feffd8"/><rect x="57.25" y="1402.74" width="20.25" height="18.84" fill="#ffffd9"/><rect x="77.50" y="1402.74" width="20.25" height="18.84" fill="#081d58"/><rect x="97.75" y="1402.74" width="20.25" height="18.84" fill="#f4fbc1"/><rect x="118.00" y="1402.74" width="20.25" height="18.84" fill="#a0dab8"/><rect x="138.25" y="1402.74" width="20.25" height="18.84" fill="#d4eeb3"/><rect x="158.50" y="1402.74" width="20.25" height="18.84" fill="#081d58"/><rect x="178.75" y="1402.74" width="20.25" height="18.84" fill="#ffffd9"/><rect x="199.00" y="1402.74" width="20.25" height="18.84" fill="#ffffd9"/><rect x="219.25" y="1402.74" width="20.25" height="18.84" fill="#081d58"/><rect x="239.50" y="1402.74" width="20.25" height="18.84" fill="#081d58"/><rect x="259.75" y="1402.74" width="20.25" height="18.84" fill="#081d58"/><rect x="280.00" y="1402.74" width="20.25" height="18.84" fill="#081d58"/><rect x="300.25" y="1402.74" width="20.25" height="18.84" fill="#081d58"/><rect x="320.50" y="1402.74" width="20.25" height="18.84" fill="#081d58"/><rect x="340.75" y="1402.74" width="20.25" height="18.84" fill="#081d58"/><rect x="361.00" y="1402.74" width="20.25" height="18.84" fill="#081d58"/><rect x="381.25" y="1402.74" width="20.25" height="18.84" fill="#081d58"/><rect x="401.50" y="1402.74" width="20.25" height="18.84" fill="#081d58"/><rect x="421.75" y="1402.74" width="20.25" height="18.84" fill="#081d58"/><rect x="442.00" y="1402.74" width="20.25" height="18.84" fill="#081d58"/><rect x="462.25" y="1402.74" width="20.25" height="18.84" fill="#081d58"/><rect x="482.50" y="1402.74" width="20.25" height="18.84" fill="#081d58"/><rect x="502.75" y="1402.74" width="20.25" height="18.84" fill="#081d58"/><rect x="523.00" y="1402.74" width="20.25" height="18.84" fill="#081d58"/><rect x="543.25" y="1402.74" width="20.25" height="18.84" fill="#081d58"/><rect x="563.50" y="1402.74" width="20.25" height="18.84" fill="#081d58"/><rect x="583.75" y="1402.74" width="20.25" height="18.84" fill="#081d58"/><rect x="37.00" y="1421.59" width="20.25" height="18.84" fill="#ffffd9"/><rect x="57.25" y="1421.59" width="20.25" height="18.84" fill="#ffffd9"/><rect x="77.50" y="1421.59" width="20.25" height="18.84" fill="#23499e"/><rect x="97.75" y="1421.59" width="20.25" height="18.84" fill="#ffffd9"/><rect x="118.00" y="1421.59" width="20.25" height="18.84" fill="#ffffd9"/><rect x="138.25" y="1421.59" width="20.25" height="18.84" fill="#ffffd9"/><rect x="158.50" y="1421.59" width="20.25" height="18.84" fill="#ffffd9"/><rect x="178.75" y="1421.59" width="20.25" height="18.84" fill="#ffffd9"/><rect x="199.00" y="1421.59" width="20.25" height="18.84" fill="#ffffd9"/><rect x="219.25" y="1421.59" width="20.25" height="18.84" fill="#ffffd9"/><rect x="239.50" y="1421.59" width="20.25" height="18.84" fill="#081d58"/><rect x="259.75" y="1421.59" width="20.25" height="18.84" fill="#ffffd9"/><rect x="280.00" y="1421.59" width="20.25" height="18.84" fill="#081d58"/><rect x="300.25" y="1421.59" width="20.25" height="18.84" fill="#081d58"/><rect x="320.50" y="1421.59" width="20.25" height="18.84" fill="#ffffd9"/><rect x="340.75" y="1421.59" width="20.25" height="18.84" fill="#e6f5b2"/><rect x="361.00" y="1421.59" width="20.25" height="18.84" fill="#081d58"/><rect x="381.25" y="1421.59" width="20.25" height="18.84" fill="#081d58"/><rect x="401.50" y="1421.59" width="20.25" height="18.84" fill="#63c3bf"/><rect x="421.75" y="1421.59" width="20.25" height="18.84" fill="#fafdcf"/><rect x="442.00" y="1421.59" width="20.25" height="18.84" fill="#2354a3"/><rect x="462.25" y="1421.59" width="20.25" height="18.84" fill="#225da8"/><rect x="482.50" y="1421.59" width="20.25" height="18.84" fill="#081d58"/><rect x="502.75" y="1421.59" width="20.25" height="18.84" fill="#2354a3"/><rect x="523.00" y="1421.59" width="20.25" height="18.84" fill="#081d58"/><rect x="543.25" y="1421.59" width="20.25" height="18.84" fill="#13266f"/><rect x="563.50" y="1421.59" width="20.25" height="18.84" fill="#2da2c2"/><rect x="583.75" y="1421.59" width="20.25" height="18.84" fill="#2350a1"/><rect x="37.00" y="1440.43" width="20.25" height="18.84" fill="#ffffd9"/><rect x="57.25" y="1440.43" width="20.25" height="18.84" fill="#ffffd9"/><rect x="77.50" y="1440.43" width="20.25" height="18.84" fill="#ffffd9"/><rect x="97.75" y="1440.43" width="20.25" height="18.84" fill="#ffffd9"/><rect x="118.00" y="1440.43" width="20.25" height="18.84" fill="#ffffd9"/><rect x="138.25" y="1440.43" width="20.25" height="18.84" fill="#ffffd9"/><rect x="158.50" y="1440.43" width="20.25" height="18.84" fill="#ffffd9"/><rect x="178.75" y="1440.43" width="20.25" height="18.84" fill="#ffffd9"/><rect x="199.00" y="1440.43" width="20.25" height="18.84" fill="#ffffd9"/><rect x="219.25" y="1440.43" width="20.25" height="18.84" fill="#ffffd9"/><rect x="239.50" y="1440.43" width="20.25" height="18.84" fill="#ffffd9"/><rect x="259.75" y="1440.43" width="20.25" height="18.84" fill="#ffffd9"/><rect x="280.00" y="1440.43" width="20.25" height="18.84" fill="#fafdce"/><rect x="300.25" y="1440.43" width="20.25" height="18.84" fill="#081d58"/><rect x="320.50" y="1440.43" width="20.25" height="18.84" fill="#ffffd9"/><rect x="340.75" y="1440.43" width="20.25" height="18.84" fill="#ffffd9"/><rect x="361.00" y="1440.43" width="20.25" height="18.84" fill="#0e2265"/><rect x="381.25" y="1440.43" width="20.25" height="18.84" fill="#ffffd9"/><rect x="401.50" y="1440.43" width="20.25" height="18.84" fill="#ffffd9"/><rect x="421.75" y="1440.43" width="20.25" height="18.84" fill="#ffffd9"/><rect x="442.00" y="1440.43" width="20.25" height="18.84" fill="#fdfed5"/><rect x="462.25" y="1440.43" width="20.25" height="18.84" fill="#fcfed1"/><rect x="482.50" y="1440.43" width="20.25" height="18.84" fill="#13266f"/><rect x="502.75" y="1440.43" width="20.25" height="18.84" fill="#f9fdcc"/><rect x="523.00" y="1440.43" width="20.25" height="18.84" fill="#24439b"/><rect x="543.25" y="1440.43" width="20.25" height="18.84" fill="#e0f3b2"/><rect x="563.50" y="1440.43" width="20.25" height="18.84" fill="#fcfed3"/><rect x="583.75" y="1440.43" width="20.25" height="18.84" fill="#fafdce"/><rect x="37.00" y="1459.27" width="20.25" height="18.84" fill="#ffffd9"/><rect x="57.25" y="1459.27" width="20.25" height="18.84" fill="#ffffd9"/><rect x="77.50" y="1459.27" width="20.25" height="18.84" fill="#233390"/><rect x="97.75" y="1459.27" width="20.25" height="18.84" fill="#ffffd9"/><rect x="118.00" y="1459.27" width="20.25" height="18.84" fill="#ffffd9"/><rect x="138.25" y="1459.27" width="20.25" height="18.84" fill="#ffffd9"/><rect x="158.50" y="1459.27" width="20.25" height="18.84" fill="#feffd8"/><rect x="178.75" y="1459.27" width="20.25" height="18.84" fill="#ffffd9"/><rect x="199.00" y="1459.27" width="20.25" height="18.84" fill="#ffffd9"/><rect x="219.25" y="1459.27" width="20.25" height="18.84" fill="#0d2161"/><rect x="239.50" y="1459.27" width="20.25" height="18.84" fill="#081d58"/><rect x="259.75" y="1459.27" width="20.25" height="18.84" fill="#ffffd9"/><rect x="280.00" y="1459.27" width="20.25" height="18.84" fill="#081d58"/><rect x="300.25" y="1459.27" width="20.25" height="18.84" fill="#081d58"/><rect x="320.50" y="1459.27" width="20.25" height="18.84" fill="#fdfed5"/><rect x="340.75" y="1459.27" width="20.25" height="18.84" fill="#73c8bd"/><rect x="361.00" y="1459.27" width="20.25" height="18.84" fill="#081d58"/><rect x="381.25" y="1459.27" width="20.25" height="18.84" fill="#081d58"/><rect x="401.50" y="1459.27" width="20.25" height="18.84" fill="#1f7ab5"/><rect x="421.75" y="1459.27" width="20.25" height="18.84" fill="#eff9b6"/><rect x="442.00" y="1459.27" width="20.25" height="18.84" fill="#24439b"/><rect x="462.25" y="1459.27" width="20.25" height="18.84" fill="#21318d"/><rect x="482.50" y="1459.27" width="20.25" height="18.84" fill="#081d58"/><rect x="502.75" y="1459.27" width="20.25" height="18.84" fill="#253896"/><rect x="523.00" y="1459.27" width="20.25" height="18.84" fill="#081d58"/><rect x="543.25" y="1459.27" width="20.25" height="18.84" fill="#0e2265"/><rect x="563.50" y="1459.27" width="20.25" height="18.84" fill="#234da0"/><rect x="583.75" y="1459.27" width="20.25" height="18.84" fill="#243f99"/><rect x="37.00" y="1478.11" width="20.25" height="18.84" fill="#ffffd9"/><rect x="57.25" y="1478.11" width="20.25" height="18.84" fill="#ffffd9"/><rect x="77.50" y="1478.11" width="20.25" height="18.84" fill="#ffffd9"/><rect x="97.75" y="1478.11" width="20.25" height="18.84" fill="#ffffd9"/><rect x="118.00" y="1478.11" width="20.25" height="18.84" fill="#ffffd9"/><rect x="138.25" y="1478.11" width="20.25" height="18.84" fill="#ffffd9"/><rect x="158.50" y="1478.11" width="20.25" height="18.84" fill="#ffffd9"/><rect x="178.75" y="1478.11" width="20.25" height="18.84" fill="#ffffd9"/><rect x="199.00" y="1478.11" width="20.25" height="18.84" fill="#ffffd9"/><rect x="219.25" y="1478.11" width="20.25" height="18.84" fill="#ffffd9"/><rect x="239.50" y="1478.11" width="20.25" height="18.84" fill="#11246b"/><rect x="259.75" y="1478.11" width="20.25" height="18.84" fill="#ffffd9"/><rect x="280.00" y="1478.11" width="20.25" height="18.84" fill="#ffffd9"/><rect x="300.25" y="1478.11" width="20.25" height="18.84" fill="#081d58"/><rect x="320.50" y="1478.11" width="20.25" height="18.84" fill="#ffffd9"/><rect x="340.75" y="1478.11" width="20.25" height="18.84" fill="#ffffd9"/><rect x="361.00" y="1478.11" width="20.25" height="18.84" fill="#081d58"/><rect x="381.25" y="1478.11" width="20.25" height="18.84" fill="#f7fcc7"/><rect x="401.50" y="1478.11" width="20.25" height="18.84" fill="#ffffd9"/><rect x="421.75" y="1478.11" width="20.25" height="18.84" fill="#ffffd9"/><rect x="442.00" y="1478.11" width="20.25" height="18.84" fill="#fdfed4"/><rect x="462.25" y="1478.11" width="20.25" height="18.84" fill="#fbfdd0"/><rect x="482.50" y="1478.11" width="20.25" height="18.84" fill="#11246b"/><rect x="502.75" y="1478.11" width="20.25" height="18.84" fill="#f8fcca"/><rect x="523.00" y="1478.11" width="20.25" height="18.84" fill="#172978"/><rect x="543.25" y="1478.11" width="20.25" height="18.84" fill="#daf0b3"/><rect x="563.50" y="1478.11" width="20.25" height="18.84" fill="#fafdcf"/><rect x="583.75" y="1478.11" width="20.25" height="18.84" fill="#f7fcc7"/><rect x="37.00" y="1496.96" width="20.25" height="18.84" fill="#ffffd9"/><rect x="57.25" y="1496.96" width="20.25" height="18.84" fill="#ffffd9"/><rect x="77.50" y="1496.96" width="20.25" height="18.84" fill="#ffffd9"/><rect x="97.75" y="1496.96" width="20.25" height="18.84" fill="#ffffd9"/><rect x="118.00" y="1496.96" width="20.25" height="18.84" fill="#ffffd9"/><rect x="138.25" y="1496.96" width="20.25" height="18.84" fill="#ffffd9"/><rect x="158.50" y="1496.96" width="20.25" height="18.84" fill="#ffffd9"/><rect x="178.75" y="1496.96" width="20.25" height="18.84" fill="#ffffd9"/><rect x="199.00" y="1496.96" width="20.25" height="18.84" fill="#ffffd9"/><rect x="219.25" y="1496.96" width="20.25" height="18.84" fill="#ffffd9"/><rect x="239.50" y="1496.96" width="20.25" height="18.84" fill="#ffffd9"/><rect x="259.75" y="1496.96" width="20.25" height="18.84" fill="#ffffd9"/><rect x="280.00" y="1496.96" width="20.25" height="18.84" fill="#ffffd9"/><rect x="300.25" y="1496.96" width="20.25" height="18.84" fill="#ffffd9"/><rect x="320.50" y="1496.96" width="20.25" height="18.84" fill="#ffffd9"/><rect x="340.75" y="1496.96" width="20.25" height="18.84" fill="#ffffd9"/><rect x="361.00" y="1496.96" width="20.25" height="18.84" fill="#bbe4b5"/><rect x="381.25" y="1496.96" width="20.25" height="18.84" fill="#ffffd9"/><rect x="401.50" y="1496.96" width="20.25" height="18.84" fill="#ffffd9"/><rect x="421.75" y="1496.96" width="20.25" height="18.84" fill="#ffffd9"/><rect x="442.00" y="1496.96" width="20.25" height="18.84" fill="#ffffd9"/><rect x="462.25" y="1496.96" width="20.25" height="18.84" fill="#feffd8"/><rect x="482.50" y="1496.96" width="20.25" height="18.84" fill="#daf0b3"/><rect x="502.75" y="1496.96" width="20.25" height="18.84" fill="#ffffd9"/><rect x="523.00" y="1496.96" width="20.25" height="18.84" fill="#f9fdcb"/><rect x="543.25" y="1496.96" width="20.25" height="18.84" fill="#ffffd9"/><rect x="563.50" y="1496.96" width="20.25" height="18.84" fill="#ffffd9"/><rect x="583.75" y="1496.96" width="20.25" height="18.84" fill="#ffffd9"/><rect x="37.00" y="1515.80" width="20.25" height="18.84" fill="#ffffd9"/><rect x="57.25" y="1515.80" width="20.25" height="18.84" fill="#ffffd9"/><rect x="77.50" y="1515.80" width="20.25" height="18.84" fill="#081d58"/><rect x="97.75" y="1515.80" width="20.25" height="18.84" fill="#ffffd9"/><rect x="118.00" y="1515.80" width="20.25" height="18.84" fill="#ffffd9"/><rect x="138.25" y="1515.80" width="20.25" height="18.84" fill="#ffffd9"/><rect x="158.50" y="1515.80" width="20.25" height="18.84" fill="#abdeb7"/><rect x="178.75" y="1515.80" width="20.25" height="18.84" fill="#ffffd9"/><rect x="199.00" y="1515.80" width="20.25" height="18.84" fill="#ffffd9"/><rect x="219.25" y="1515.80" width="20.25" height="18.84" fill="#081d58"/><rect x="239.50" y="1515.80" width="20.25" height="18.84" fill="#081d58"/><rect x="259.75" y="1515.80" width="20.25" height="18.84" fill="#0a1e5c"/><rect x="280.00" y="1515.80" width="20.25" height="18.84" fill="#081d58"/><rect x="300.25" y="1515.80" width="20.25" height="18.84" fill="#081d58"/><rect x="320.50" y="1515.80" width="20.25" height="18.84" fill="#ffffd9"/><rect x="340.75" y="1515.80" width="20.25" height="18.84" fill="#0e2265"/><rect x="361.00" y="1515.80" width="20.25" height="18.84" fill="#081d58"/><rect x="381.25" y="1515.80" width="20.25" height="18.84" fill="#081d58"/><rect x="401.50" y="1515.80" width="20.25" height="18.84" fill="#081d58"/><rect x="421.75" y="1515.80" width="20.25" height="18.84" fill="#081d58"/><rect x="442.00" y="1515.80" width="20.25" height="18.84" fill="#081d58"/><rect x="462.25" y="1515.80" width="20.25" height="18.84" fill="#081d58"/><rect x="482.50" y="1515.80" width="20.25" height="18.84" fill="#081d58"/><rect x="502.75" y="1515.80" width="20.25" height="18.84" fill="#081d58"/><rect x="523.00" y="1515.80" width="20.25" height="18.84" fill="#081d58"/><rect x="543.25" y="1515.80" width="20.25" height="18.84" fill="#081d58"/><rect x="563.50" y="1515.80" width="20.25" height="18.84" fill="#0a1e5c"/><rect x="583.75" y="1515.80" width="20.25" height="18.84" fill="#081d58"/><rect x="37.00" y="1534.64" width="20.25" height="18.84" fill="#ffffd9"/><rect x="57.25" y="1534.64" width="20.25" height="18.84" fill="#ffffd9"/><rect x="77.50" y="1534.64" width="20.25" height="18.84" fill="#0a1e5c"/><rect x="97.75" y="1534.64" width="20.25" height="18.84" fill="#ffffd9"/><rect x="118.00" y="1534.64" width="20.25" height="18.84" fill="#ffffd9"/><rect x="138.25" y="1534.64" width="20.25" height="18.84" fill="#ffffd9"/><rect x="158.50" y="1534.64" width="20.25" height="18.84" fill="#fcfed3"/><rect x="178.75" y="1534.64" width="20.25" height="18.84" fill="#ffffd9"/><rect x="199.00" y="1534.64" width="20.25" height="18.84" fill="#ffffd9"/><rect x="219.25" y="1534.64" width="20.25" height="18.84" fill="#243c98"/><rect x="239.50" y="1534.64" width="20.25" height="18.84" fill="#081d58"/><rect x="259.75" y="1534.64" width="20.25" height="18.84" fill="#2498c1"/><rect x="280.00" y="1534.64" width="20.25" height="18.84" fill="#081d58"/><rect x="300.25" y="1534.64" width="20.25" height="18.84" fill="#081d58"/><rect x="320.50" y="1534.64" width="20.25" height="18.84" fill="#fcfed1"/><rect x="340.75" y="1534.64" width="20.25" height="18.84" fill="#ffffd9"/><rect x="361.00" y="1534.64" width="20.25" height="18.84" fill="#081d58"/><rect x="381.25" y="1534.64" width="20.25" height="18.84" fill="#081d58"/><rect x="401.50" y="1534.64" width="20.25" height="18.84" fill="#13266f"/><rect x="421.75" y="1534.64" width="20.25" height="18.84" fill="#b7e3b6"/><rect x="442.00" y="1534.64" width="20.25" height="18.84" fill="#081d58"/><rect x="462.25" y="1534.64" width="20.25" height="18.84" fill="#081d58"/><rect x="482.50" y="1534.64" width="20.25" height="18.84" fill="#081d58"/><rect x="502.75" y="1534.64" width="20.25" height="18.84" fill="#0a1e5c"/><rect x="523.00" y="1534.64" width="20.25" height="18.84" fill="#081d58"/><rect x="543.25" y="1534.64" width="20.25" height="18.84" fill="#081d58"/><rect x="563.50" y="1534.64" width="20.25" height="18.84" fill="#0e2265"/><rect x="583.75" y="1534.64" width="20.25" height="18.84" fill="#0a1e5c"/><rect x="37.00" y="1553.49" width="20.25" height="18.84" fill="#ffffd9"/><rect x="57.25" y="1553.49" width="20.25" height="18.84" fill="#ffffd9"/><rect x="77.50" y="1553.49" width="20.25" height="18.84" fill="#ffffd9"/><rect x="97.75" y="1553.49" width="20.25" height="18.84" fill="#ffffd9"/><rect x="118.00" y="1553.49" width="20.25" height="18.84" fill="#ffffd9"/><rect x="138.25" y="1553.49" width="20.25" height="18.84" fill="#ffffd9"/><rect x="158.50" y="1553.49" width="20.25" height="18.84" fill="#ffffd9"/><rect x="178.75" y="1553.49" width="20.25" height="18.84" fill="#ffffd9"/><rect x="199.00" y="1553.49" width="20.25" height="18.84" fill="#ffffd9"/><rect x="219.25" y="1553.49" width="20.25" height="18.84" fill="#ffffd9"/><rect x="239.50" y="1553.49" width="20.25" height="18.84" fill="#fbfdd0"/><rect x="259.75" y="1553.49" width="20.25" height="18.84" fill="#ffffd9"/><rect x="280.00" y="1553.49" width="20.25" height="18.84" fill="#ffffd9"/><rect x="300.25" y="1553.49" width="20.25" height="18.84" fill="#2166ac"/><rect x="320.50" y="1553.49" width="20.25" height="18.84" fill="#ffffd9"/><rect x="340.75" y="1553.49" width="20.25" height="18.84" fill="#ffffd9"/><rect x="361.00" y="1553.49" width="20.25" height="18.84" fill="#ffffd9"/><rect x="381.25" y="1553.49" width="20.25" height="18.84" fill="#ffffd9"/><rect x="401.50" y="1553.49" width="20.25" height="18.84" fill="#ffffd9"/><rect x="421.75" y="1553.49" width="20.25" height="18.84" fill="#ffffd9"/><rect x="442.00" y="1553.49" width="20.25" height="18.84" fill="#ffffd9"/><rect x="462.25" y="1553.49" width="20.25" height="18.84" fill="#ffffd9"/><rect x="482.50" y="1553.49" width="20.25" height="18.84" fill="#daf0b3"/><rect x="502.75" y="1553.49" width="20.25" height="18.84" fill="#ffffd9"/><rect x="523.00" y="1553.49" width="20.25" height="18.84" fill="#f8fcca"/><rect x="543.25" y="1553.49" width="20.25" height="18.84" fill="#ffffd9"/><rect x="563.50" y="1553.49" width="20.25" height="18.84" fill="#ffffd9"/><rect x="583.75" y="1553.49" width="20.25" height="18.84" fill="#ffffd9"/><rect x="37.00" y="1572.33" width="20.25" height="18.84" fill="#ffffd9"/><rect x="57.25" y="1572.33" width="20.25" height="18.84" fill="#ffffd9"/><rect x="77.50" y="1572.33" width="20.25" height="18.84" fill="#fafdce"/><rect x="97.75" y="1572.33" width="20.25" height="18.84" fill="#ffffd9"/><rect x="118.00" y="1572.33" width="20.25" height="18.84" fill="#ffffd9"/><rect x="138.25" y="1572.33" width="20.25" height="18.84" fill="#ffffd9"/><rect x="158.50" y="1572.33" width="20.25" height="18.84" fill="#ffffd9"/><rect x="178.75" y="1572.33" width="20.25" height="18.84" fill="#ffffd9"/><rect x="199.00" y="1572.33" width="20.25" height="18.84" fill="#ffffd9"/><rect x="219.25" y="1572.33" width="20.25" height="18.84" fill="#feffd8"/><rect x="239.50" y="1572.33" width="20.25" height="18.84" fill="#081d58"/><rect x="259.75" y="1572.33" width="20.25" height="18.84" fill="#ffffd9"/><rect x="280.00" y="1572.33" width="20.25" height="18.84" fill="#162874"/><rect x="300.25" y="1572.33" width="20.25" height="18.84" fill="#081d58"/><rect x="320.50" y="1572.33" width="20.25" height="18.84" fill="#ffffd9"/><rect x="340.75" y="1572.33" width="20.25" height="18.84" fill="#ffffd9"/><rect x="361.00" y="1572.33" width="20.25" height="18.84" fill="#081d58"/><rect x="381.25" y="1572.33" width="20.25" height="18.84" fill="#ffffd9"/><rect x="401.50" y="1572.33" width="20.25" height="18.84" fill="#ffffd9"/><rect x="421.75" y="1572.33" width="20.25" height="18.84" fill="#ffffd9"/><rect x="442.00" y="1572.33" width="20.25" height="18.84" fill="#bbe4b5"/><rect x="462.25" y="1572.33" width="20.25" height="18.84" fill="#5fc1c0"/><rect x="482.50" y="1572.33" width="20.25" height="18.84" fill="#081d58"/><rect x="502.75" y="1572.33" width="20.25" height="18.84" fill="#b0e0b6"/><rect x="523.00" y="1572.33" width="20.25" height="18.84" fill="#081d58"/><rect x="543.25" y="1572.33" width="20.25" height="18.84" fill="#2166ac"/><rect x="563.50" y="1572.33" width="20.25" height="18.84" fill="#e0f3b2"/><rect x="583.75" y="1572.33" width="20.25" height="18.84" fill="#92d5b9"/><rect x="37.00" y="1591.17" width="20.25" height="18.84" fill="#ffffd9"/><rect x="57.25" y="1591.17" width="20.25" height="18.84" fill="#ffffd9"/><rect x="77.50" y="1591.17" width="20.25" height="18.84" fill="#0d2161"/><rect x="97.75" y="1591.17" width="20.25" height="18.84" fill="#ffffd9"/><rect x="118.00" y="1591.17" width="20.25" height="18.84" fill="#ffffd9"/><rect x="138.25" y="1591.17" width="20.25" height="18.84" fill="#ffffd9"/><rect x="158.50" y="1591.17" width="20.25" height="18.84" fill="#ffffd9"/><rect x="178.75" y="1591.17" width="20.25" height="18.84" fill="#ffffd9"/><rect x="199.00" y="1591.17" width="20.25" height="18.84" fill="#ffffd9"/><rect x="219.25" y="1591.17" width="20.25" height="18.84" fill="#2da2c2"/><rect x="239.50" y="1591.17" width="20.25" height="18.84" fill="#081d58"/><rect x="259.75" y="1591.17" width="20.25" height="18.84" fill="#a0dab8"/><rect x="280.00" y="1591.17" width="20.25" height="18.84" fill="#081d58"/><rect x="300.25" y="1591.17" width="20.25" height="18.84" fill="#081d58"/><rect x="320.50" y="1591.17" width="20.25" height="18.84" fill="#ffffd9"/><rect x="340.75" y="1591.17" width="20.25" height="18.84" fill="#f8fcc9"/><rect x="361.00" y="1591.17" width="20.25" height="18.84" fill="#081d58"/><rect x="381.25" y="1591.17" width="20.25" height="18.84" fill="#081d58"/><rect x="401.50" y="1591.17" width="20.25" height="18.84" fill="#ffffd9"/><rect x="421.75" y="1591.17" width="20.25" height="18.84" fill="#ffffd9"/><rect x="442.00" y="1591.17" width="20.25" height="18.84" fill="#081d58"/><rect x="462.25" y="1591.17" width="20.25" height="18.84" fill="#13266f"/><rect x="482.50" y="1591.17" width="20.25" height="18.84" fill="#081d58"/><rect x="502.75" y="1591.17" width="20.25" height="18.84" fill="#081d58"/><rect x="523.00" y="1591.17" width="20.25" height="18.84" fill="#081d58"/><rect x="543.25" y="1591.17" width="20.25" height="18.84" fill="#081d58"/><rect x="563.50" y="1591.17" width="20.25" height="18.84" fill="#2350a1"/><rect x="583.75" y="1591.17" width="20.25" height="18.84" fill="#081d58"/><rect x="37.00" y="1610.01" width="20.25" height="18.84" fill="#ffffd9"/><rect x="57.25" y="1610.01" width="20.25" height="18.84" fill="#ffffd9"/><rect x="77.50" y="1610.01" width="20.25" height="18.84" fill="#081d58"/><rect x="97.75" y="1610.01" width="20.25" height="18.84" fill="#ffffd9"/><rect x="118.00" y="1610.01" width="20.25" height="18.84" fill="#ffffd9"/><rect x="138.25" y="1610.01" width="20.25" height="18.84" fill="#ffffd9"/><rect x="158.50" y="1610.01" width="20.25" height="18.84" fill="#ffffd9"/><rect x="178.75" y="1610.01" width="20.25" height="18.84" fill="#ffffd9"/><rect x="199.00" y="1610.01" width="20.25" height="18.84" fill="#ffffd9"/><rect x="219.25" y="1610.01" width="20.25" height="18.84" fill="#0e2265"/><rect x="239.50" y="1610.01" width="20.25" height="18.84" fill="#081d58"/><rect x="259.75" y="1610.01" width="20.25" height="18.84" fill="#243c98"/><rect x="280.00" y="1610.01" width="20.25" height="18.84" fill="#081d58"/><rect x="300.25" y="1610.01" width="20.25" height="18.84" fill="#081d58"/><rect x="320.50" y="1610.01" width="20.25" height="18.84" fill="#ffffd9"/><rect x="340.75" y="1610.01" width="20.25" height="18.84" fill="#216aad"/><rect x="361.00" y="1610.01" width="20.25" height="18.84" fill="#081d58"/><rect x="381.25" y="1610.01" width="20.25" height="18.84" fill="#081d58"/><rect x="401.50" y="1610.01" width="20.25" height="18.84" fill="#081d58"/><rect x="421.75" y="1610.01" width="20.25" height="18.84" fill="#ffffd9"/><rect x="442.00" y="1610.01" width="20.25" height="18.84" fill="#081d58"/><rect x="462.25" y="1610.01" width="20.25" height="18.84" fill="#0a1e5c"/><rect x="482.50" y="1610.01" width="20.25" height="18.84" fill="#081d58"/><rect x="502.75" y="1610.01" width="20.25" height="18.84" fill="#081d58"/><rect x="523.00" y="1610.01" width="20.25" height="18.84" fill="#081d58"/><rect x="543.25" y="1610.01" width="20.25" height="18.84" fill="#081d58"/><rect x="563.50" y="1610.01" width="20.25" height="18.84" fill="#0e2265"/><rect x="583.75" y="1610.01" width="20.25" height="18.84" fill="#081d58"/><rect x="37.00" y="1628.86" width="20.25" height="18.84" fill="#ffffd9"/><rect x="57.25" y="1628.86" width="20.25" height="18.84" fill="#ffffd9"/><rect x="77.50" y="1628.86" width="20.25" height="18.84" fill="#bbe4b5"/><rect x="97.75" y="1628.86" width="20.25" height="18.84" fill="#ffffd9"/><rect x="118.00" y="1628.86" width="20.25" height="18.84" fill="#ffffd9"/><rect x="138.25" y="1628.86" width="20.25" height="18.84" fill="#ffffd9"/><rect x="158.50" y="1628.86" width="20.25" height="18.84" fill="#ffffd9"/><rect x="178.75" y="1628.86" width="20.25" height="18.84" fill="#ffffd9"/><rect x="199.00" y="1628.86" width="20.25" height="18.84" fill="#ffffd9"/><rect x="219.25" y="1628.86" width="20.25" height="18.84" fill="#d0edb3"/><rect x="239.50" y="1628.86" width="20.25" height="18.84" fill="#0a1e5c"/><rect x="259.75" y="1628.86" width="20.25" height="18.84" fill="#e0f3b2"/><rect x="280.00" y="1628.86" width="20.25" height="18.84" fill="#0d2161"/><rect x="300.25" y="1628.86" width="20.25" height="18.84" fill="#081d58"/><rect x="320.50" y="1628.86" width="20.25" height="18.84" fill="#ffffd9"/><rect x="340.75" y="1628.86" width="20.25" height="18.84" fill="#feffd8"/><rect x="361.00" y="1628.86" width="20.25" height="18.84" fill="#081d58"/><rect x="381.25" y="1628.86" width="20.25" height="18.84" fill="#2166ac"/><rect x="401.50" y="1628.86" width="20.25" height="18.84" fill="#ffffd9"/><rect x="421.75" y="1628.86" width="20.25" height="18.84" fill="#ffffd9"/><rect x="442.00" y="1628.86" width="20.25" height="18.84" fill="#ffffd9"/><rect x="462.25" y="1628.86" width="20.25" height="18.84" fill="#40b5c4"/><rect x="482.50" y="1628.86" width="20.25" height="18.84" fill="#081d58"/><rect x="502.75" y="1628.86" width="20.25" height="18.84" fill="#5fc1c0"/><rect x="523.00" y="1628.86" width="20.25" height="18.84" fill="#081d58"/><rect x="543.25" y="1628.86" width="20.25" height="18.84" fill="#081d58"/><rect x="563.50" y="1628.86" width="20.25" height="18.84" fill="#abdeb7"/><rect x="583.75" y="1628.86" width="20.25" height="18.84" fill="#c2e7b4"/><rect x="37.00" y="1647.70" width="20.25" height="18.84" fill="#ffffd9"/><rect x="57.25" y="1647.70" width="20.25" height="18.84" fill="#ffffd9"/><rect x="77.50" y="1647.70" width="20.25" height="18.84" fill="#d6efb3"/><rect x="97.75" y="1647.70" width="20.25" height="18.84" fill="#ffffd9"/><rect x="118.00" y="1647.70" width="20.25" height="18.84" fill="#ffffd9"/><rect x="138.25" y="1647.70" width="20.25" height="18.84" fill="#ffffd9"/><rect x="158.50" y="1647.70" width="20.25" height="18.84" fill="#ffffd9"/><rect x="178.75" y="1647.70" width="20.25" height="18.84" fill="#ffffd9"/><rect x="199.00" y="1647.70" width="20.25" height="18.84" fill="#ffffd9"/><rect x="219.25" y="1647.70" width="20.25" height="18.84" fill="#c6e9b4"/><rect x="239.50" y="1647.70" width="20.25" height="18.84" fill="#0d2161"/><rect x="259.75" y="1647.70" width="20.25" height="18.84" fill="#eff9b6"/><rect x="280.00" y="1647.70" width="20.25" height="18.84" fill="#0e2265"/><rect x="300.25" y="1647.70" width="20.25" height="18.84" fill="#081d58"/><rect x="320.50" y="1647.70" width="20.25" height="18.84" fill="#ffffd9"/><rect x="340.75" y="1647.70" width="20.25" height="18.84" fill="#feffd8"/><rect x="361.00" y="1647.70" width="20.25" height="18.84" fill="#081d58"/><rect x="381.25" y="1647.70" width="20.25" height="18.84" fill="#2fa4c2"/><rect x="401.50" y="1647.70" width="20.25" height="18.84" fill="#f8fcca"/><rect x="421.75" y="1647.70" width="20.25" height="18.84" fill="#feffd8"/><rect x="442.00" y="1647.70" width="20.25" height="18.84" fill="#40b5c4"/><rect x="462.25" y="1647.70" width="20.25" height="18.84" fill="#ffffd9"/><rect x="482.50" y="1647.70" width="20.25" height="18.84" fill="#0a1e5c"/><rect x="502.75" y="1647.70" width="20.25" height="18.84" fill="#46b8c3"/><rect x="523.00" y="1647.70" width="20.25" height="18.84" fill="#0a1e5c"/><rect x="543.25" y="1647.70" width="20.25" height="18.84" fill="#2356a4"/><rect x="563.50" y="1647.70" width="20.25" height="18.84" fill="#f3fabd"/><rect x="583.75" y="1647.70" width="20.25" height="18.84" fill="#33a7c2"/><rect x="37.00" y="1666.54" width="20.25" height="18.84" fill="#ffffd9"/><rect x="57.25" y="1666.54" width="20.25" height="18.84" fill="#ffffd9"/><rect x="77.50" y="1666.54" width="20.25" height="18.84" fill="#ffffd9"/><rect x="97.75" y="1666.54" width="20.25" height="18.84" fill="#ffffd9"/><rect x="118.00" y="1666.54" width="20.25" height="18.84" fill="#ffffd9"/><rect x="138.25" y="1666.54" width="20.25" height="18.84" fill="#ffffd9"/><rect x="158.50" y="1666.54" width="20.25" height="18.84" fill="#ffffd9"/><rect x="178.75" y="1666.54" width="20.25" height="18.84" fill="#ffffd9"/><rect x="199.00" y="1666.54" width="20.25" height="18.84" fill="#ffffd9"/><rect x="219.25" y="1666.54" width="20.25" height="18.84" fill="#ffffd9"/><rect x="239.50" y="1666.54" width="20.25" height="18.84" fill="#f8fcca"/><rect x="259.75" y="1666.54" width="20.25" height="18.84" fill="#ffffd9"/><rect x="280.00" y="1666.54" width="20.25" height="18.84" fill="#fafdce"/><rect x="300.25" y="1666.54" width="20.25" height="18.84" fill="#23499e"/><rect x="320.50" y="1666.54" width="20.25" height="18.84" fill="#ffffd9"/><rect x="340.75" y="1666.54" width="20.25" height="18.84" fill="#ffffd9"/><rect x="361.00" y="1666.54" width="20.25" height="18.84" fill="#23499e"/><rect x="381.25" y="1666.54" width="20.25" height="18.84" fill="#ffffd9"/><rect x="401.50" y="1666.54" width="20.25" height="18.84" fill="#ffffd9"/><rect x="421.75" y="1666.54" width="20.25" height="18.84" fill="#ffffd9"/><rect x="442.00" y="1666.54" width="20.25" height="18.84" fill="#ffffd9"/><rect x="462.25" y="1666.54" width="20.25" height="18.84" fill="#fdfed5"/><rect x="482.50" y="1666.54" width="20.25" height="18.84" fill="#ffffd9"/><rect x="502.75" y="1666.54" width="20.25" height="18.84" fill="#ffffd9"/><rect x="523.00" y="1666.54" width="20.25" height="18.84" fill="#35aac3"/><rect x="543.25" y="1666.54" width="20.25" height="18.84" fill="#ffffd9"/><rect x="563.50" y="1666.54" width="20.25" height="18.84" fill="#feffd6"/><rect x="583.75" y="1666.54" width="20.25" height="18.84" fill="#ffffd9"/><rect x="37.00" y="1685.39" width="20.25" height="18.84" fill="#ffffd9"/><rect x="57.25" y="1685.39" width="20.25" height="18.84" fill="#ffffd9"/><rect x="77.50" y="1685.39" width="20.25" height="18.84" fill="#abdeb7"/><rect x="97.75" y="1685.39" width="20.25" height="18.84" fill="#ffffd9"/><rect x="118.00" y="1685.39" width="20.25" height="18.84" fill="#ffffd9"/><rect x="138.25" y="1685.39" width="20.25" height="18.84" fill="#ffffd9"/><rect x="158.50" y="1685.39" width="20.25" height="18.84" fill="#ffffd9"/><rect x="178.75" y="1685.39" width="20.25" height="18.84" fill="#ffffd9"/><rect x="199.00" y="1685.39" width="20.25" height="18.84" fill="#ffffd9"/><rect x="219.25" y="1685.39" width="20.25" height="18.84" fill="#d0edb3"/><rect x="239.50" y="1685.39" width="20.25" height="18.84" fill="#11246b"/><rect x="259.75" y="1685.39" width="20.25" height="18.84" fill="#e9f7b1"/><rect x="280.00" y="1685.39" width="20.25" height="18.84" fill="#0e2265"/><rect x="300.25" y="1685.39" width="20.25" height="18.84" fill="#081d58"/><rect x="320.50" y="1685.39" width="20.25" height="18.84" fill="#ffffd9"/><rect x="340.75" y="1685.39" width="20.25" height="18.84" fill="#feffd8"/><rect x="361.00" y="1685.39" width="20.25" height="18.84" fill="#081d58"/><rect x="381.25" y="1685.39" width="20.25" height="18.84" fill="#206eb0"/><rect x="401.50" y="1685.39" width="20.25" height="18.84" fill="#ffffd9"/><rect x="421.75" y="1685.39" width="20.25" height="18.84" fill="#ffffd9"/><rect x="442.00" y="1685.39" width="20.25" height="18.84" fill="#40b5c4"/><rect x="462.25" y="1685.39" width="20.25" height="18.84" fill="#3eb3c4"/><rect x="482.50" y="1685.39" width="20.25" height="18.84" fill="#081d58"/><rect x="502.75" y="1685.39" width="20.25" height="18.84" fill="#ffffd9"/><rect x="523.00" y="1685.39" width="20.25" height="18.84" fill="#081d58"/><rect x="543.25" y="1685.39" width="20.25" height="18.84" fill="#081d58"/><rect x="563.50" y="1685.39" width="20.25" height="18.84" fill="#abdeb7"/><rect x="583.75" y="1685.39" width="20.25" height="18.84" fill="#2356a4"/><rect x="37.00" y="1704.23" width="20.25" height="18.84" fill="#ffffd9"/><rect x="57.25" y="1704.23" width="20.25" height="18.84" fill="#ffffd9"/><rect x="77.50" y="1704.23" width="20.25" height="18.84" fill="#ffffd9"/><rect x="97.75" y="1704.23" width="20.25" height="18.84" fill="#ffffd9"/><rect x="118.00" y="1704.23" width="20.25" height="18.84" fill="#ffffd9"/><rect x="138.25" y="1704.23" width="20.25" height="18.84" fill="#ffffd9"/><rect x="158.50" y="1704.23" width="20.25" height="18.84" fill="#ffffd9"/><rect x="178.75" y="1704.23" width="20.25" height="18.84" fill="#ffffd9"/><rect x="199.00" y="1704.23" width="20.25" height="18.84" fill="#ffffd9"/><rect x="219.25" y="1704.23" width="20.25" height="18.84" fill="#ffffd9"/><rect x="239.50" y="1704.23" width="20.25" height="18.84" fill="#e0f3b2"/><rect x="259.75" y="1704.23" width="20.25" height="18.84" fill="#ffffd9"/><rect x="280.00" y="1704.23" width="20.25" height="18.84" fill="#f5fbc2"/><rect x="300.25" y="1704.23" width="20.25" height="18.84" fill="#11246b"/><rect x="320.50" y="1704.23" width="20.25" height="18.84" fill="#ffffd9"/><rect x="340.75" y="1704.23" width="20.25" height="18.84" fill="#ffffd9"/><rect x="361.00" y="1704.23" width="20.25" height="18.84" fill="#13266f"/><rect x="381.25" y="1704.23" width="20.25" height="18.84" fill="#ffffd9"/><rect x="401.50" y="1704.23" width="20.25" height="18.84" fill="#ffffd9"/><rect x="421.75" y="1704.23" width="20.25" height="18.84" fill="#ffffd9"/><rect x="442.00" y="1704.23" width="20.25" height="18.84" fill="#ffffd9"/><rect x="462.25" y="1704.23" width="20.25" height="18.84" fill="#feffd8"/><rect x="482.50" y="1704.23" width="20.25" height="18.84" fill="#55bec1"/><rect x="502.75" y="1704.23" width="20.25" height="18.84" fill="#ffffd9"/><rect x="523.00" y="1704.23" width="20.25" height="18.84" fill="#ffffd9"/><rect x="543.25" y="1704.23" width="20.25" height="18.84" fill="#ffffd9"/><rect x="563.50" y="1704.23" width="20.25" height="18.84" fill="#ffffd9"/><rect x="583.75" y="1704.23" width="20.25" height="18.84" fill="#ffffd9"/><rect x="37.00" y="1723.07" width="20.25" height="18.84" fill="#ffffd9"/><rect x="57.25" y="1723.07" width="20.25" height="18.84" fill="#ffffd9"/><rect x="77.50" y="1723.07" width="20.25" height="18.84" fill="#fcfed1"/><rect x="97.75" y="1723.07" width="20.25" height="18.84" fill="#ffffd9"/><rect x="118.00" y="1723.07" width="20.25" height="18.84" fill="#ffffd9"/><rect x="138.25" y="1723.07" width="20.25" height="18.84" fill="#ffffd9"/><rect x="158.50" y="1723.07" width="20.25" height="18.84" fill="#ffffd9"/><rect x="178.75" y="1723.07" width="20.25" height="18.84" fill="#ffffd9"/><rect x="199.00" y="1723.07" width="20.25" height="18.84" fill="#ffffd9"/><rect x="219.25" y="1723.07" width="20.25" height="18.84" fill="#f8fcc9"/><rect x="239.50" y="1723.07" width="20.25" height="18.84" fill="#24439b"/><rect x="259.75" y="1723.07" width="20.25" height="18.84" fill="#fbfdd0"/><rect x="280.00" y="1723.07" width="20.25" height="18.84" fill="#23499e"/><rect x="300.25" y="1723.07" width="20.25" height="18.84" fill="#081d58"/><rect x="320.50" y="1723.07" width="20.25" height="18.84" fill="#ffffd9"/><rect x="340.75" y="1723.07" width="20.25" height="18.84" fill="#ffffd9"/><rect x="361.00" y="1723.07" width="20.25" height="18.84" fill="#081d58"/><rect x="381.25" y="1723.07" width="20.25" height="18.84" fill="#bbe4b5"/><rect x="401.50" y="1723.07" width="20.25" height="18.84" fill="#ffffd9"/><rect x="421.75" y="1723.07" width="20.25" height="18.84" fill="#ffffd9"/><rect x="442.00" y="1723.07" width="20.25" height="18.84" fill="#ffffd9"/><rect x="462.25" y="1723.07" width="20.25" height="18.84" fill="#ceecb3"/><rect x="482.50" y="1723.07" width="20.25" height="18.84" fill="#081d58"/><rect x="502.75" y="1723.07" width="20.25" height="18.84" fill="#feffd8"/><rect x="523.00" y="1723.07" width="20.25" height="18.84" fill="#081d58"/><rect x="543.25" y="1723.07" width="20.25" height="18.84" fill="#ffffd9"/><rect x="563.50" y="1723.07" width="20.25" height="18.84" fill="#f9fdcc"/><rect x="583.75" y="1723.07" width="20.25" height="18.84" fill="#feffd8"/><rect x="37.00" y="1741.91" width="20.25" height="18.84" fill="#ffffd9"/><rect x="57.25" y="1741.91" width="20.25" height="18.84" fill="#ffffd9"/><rect x="77.50" y="1741.91" width="20.25" height="18.84" fill="#63c3bf"/><rect x="97.75" y="1741.91" width="20.25" height="18.84" fill="#ffffd9"/><rect x="118.00" y="1741.91" width="20.25" height="18.84" fill="#ffffd9"/><rect x="138.25" y="1741.91" width="20.25" height="18.84" fill="#ffffd9"/><rect x="158.50" y="1741.91" width="20.25" height="18.84" fill="#ffffd9"/><rect x="178.75" y="1741.91" width="20.25" height="18.84" fill="#ffffd9"/><rect x="199.00" y="1741.91" width="20.25" height="18.84" fill="#ffffd9"/><rect x="219.25" y="1741.91" width="20.25" height="18.84" fill="#63c3bf"/><rect x="239.50" y="1741.91" width="20.25" height="18.84" fill="#0d2161"/><rect x="259.75" y="1741.91" width="20.25" height="18.84" fill="#d6efb3"/><rect x="280.00" y="1741.91" width="20.25" height="18.84" fill="#0e2265"/><rect x="300.25" y="1741.91" width="20.25" height="18.84" fill="#081d58"/><rect x="320.50" y="1741.91" width="20.25" height="18.84" fill="#feffd6"/><rect x="340.75" y="1741.91" width="20.25" height="18.84" fill="#fafdcf"/><rect x="361.00" y="1741.91" width="20.25" height="18.84" fill="#081d58"/><rect x="381.25" y="1741.91" width="20.25" height="18.84" fill="#24439b"/><rect x="401.50" y="1741.91" width="20.25" height="18.84" fill="#d4eeb3"/><rect x="421.75" y="1741.91" width="20.25" height="18.84" fill="#fbfdd0"/><rect x="442.00" y="1741.91" width="20.25" height="18.84" fill="#2072b1"/><rect x="462.25" y="1741.91" width="20.25" height="18.84" fill="#1d2e83"/><rect x="482.50" y="1741.91" width="20.25" height="18.84" fill="#0a1e5c"/><rect x="502.75" y="1741.91" width="20.25" height="18.84" fill="#2072b1"/><rect x="523.00" y="1741.91" width="20.25" height="18.84" fill="#081d58"/><rect x="543.25" y="1741.91" width="20.25" height="18.84" fill="#11246b"/><rect x="563.50" y="1741.91" width="20.25" height="18.84" fill="#ffffd9"/><rect x="583.75" y="1741.91" width="20.25" height="18.84" fill="#2354a3"/><rect x="37.00" y="1760.76" width="20.25" height="18.84" fill="#ffffd9"/><rect x="57.25" y="1760.76" width="20.25" height="18.84" fill="#ffffd9"/><rect x="77.50" y="1760.76" width="20.25" height="18.84" fill="#b0e0b6"/><rect x="97.75" y="1760.76" width="20.25" height="18.84" fill="#ffffd9"/><rect x="118.00" y="1760.76" width="20.25" height="18.84" fill="#ffffd9"/><rect x="138.25" y="1760.76" width="20.25" height="18.84" fill="#ffffd9"/><rect x="158.50" y="1760.76" width="20.25" height="18.84" fill="#ffffd9"/><rect x="178.75" y="1760.76" width="20.25" height="18.84" fill="#ffffd9"/><rect x="199.00" y="1760.76" width="20.25" height="18.84" fill="#ffffd9"/><rect x="219.25" y="1760.76" width="20.25" height="18.84" fill="#d4eeb3"/><rect x="239.50" y="1760.76" width="20.25" height="18.84" fill="#11246b"/><rect x="259.75" y="1760.76" width="20.25" height="18.84" fill="#e3f4b2"/><rect x="280.00" y="1760.76" width="20.25" height="18.84" fill="#162874"/><rect x="300.25" y="1760.76" width="20.25" height="18.84" fill="#081d58"/><rect x="320.50" y="1760.76" width="20.25" height="18.84" fill="#ffffd9"/><rect x="340.75" y="1760.76" width="20.25" height="18.84" fill="#feffd8"/><rect x="361.00" y="1760.76" width="20.25" height="18.84" fill="#081d58"/><rect x="381.25" y="1760.76" width="20.25" height="18.84" fill="#1e83ba"/><rect x="401.50" y="1760.76" width="20.25" height="18.84" fill="#ffffd9"/><rect x="421.75" y="1760.76" width="20.25" height="18.84" fill="#ffffd9"/><rect x="442.00" y="1760.76" width="20.25" height="18.84" fill="#fbfdd0"/><rect x="462.25" y="1760.76" width="20.25" height="18.84" fill="#59bfc0"/><rect x="482.50" y="1760.76" width="20.25" height="18.84" fill="#081d58"/><rect x="502.75" y="1760.76" width="20.25" height="18.84" fill="#d4eeb3"/><rect x="523.00" y="1760.76" width="20.25" height="18.84" fill="#081d58"/><rect x="543.25" y="1760.76" width="20.25" height="18.84" fill="#0a1e5c"/><rect x="563.50" y="1760.76" width="20.25" height="18.84" fill="#d0edb3"/><rect x="583.75" y="1760.76" width="20.25" height="18.84" fill="#ffffd9"/></g><g transform="scale(0.9,1)" font-size="7.0" font-weight="bold" text-anchor="middle"><g fill="#262626" stroke="#262626" stroke-width="0.2" stroke-linejoin="round"><text x="52.36" y="1263.72">0</text><text x="74.86" y="1263.72">0</text><text x="209.86" y="1263.72">0.03</text><text x="74.86" y="1282.56">0</text><text x="52.36" y="1301.41">0</text><text x="74.86" y="1301.41">0</text><text x="97.36" y="1301.41">0</text><text x="119.86" y="1301.41">0</text><text x="142.36" y="1301.41">0</text><text x="164.86" y="1301.41">0</text><text x="187.36" y="1301.41">0</text><text x="209.86" y="1301.41">0</text><text x="232.36" y="1301.41">0</text><text x="254.86" y="1301.41">0.19</text><text x="299.86" y="1301.41">0.12</text><text x="367.36" y="1301.41">0</text><text x="389.86" y="1301.41">0.005</text><text x="457.36" y="1301.41">0.02</text><text x="479.86" y="1301.41">0</text><text x="52.36" y="1320.25">0.33</text><text x="74.86" y="1320.25">0</text><text x="119.86" y="1320.25">0</text><text x="209.86" y="1320.25">0.052</text><text x="52.36" y="1339.09">0.00082</text><text x="74.86" y="1339.09">0</text><text x="119.86" y="1339.09">0.13</text><text x="142.36" y="1339.09">0</text><text x="209.86" y="1339.09">0.0043</text><text x="52.36" y="1357.94">0.0041</text><text x="74.86" y="1357.94">0</text><text x="119.86" y="1357.94">0.15</text><text x="142.36" y="1357.94">0.41</text><text x="164.86" y="1357.94">0</text><text x="209.86" y="1357.94">0.0024</text><text x="52.36" y="1376.78">0</text><text x="74.86" y="1376.78">0</text><text x="119.86" y="1376.78">0</text><text x="142.36" y="1376.78">0</text><text x="164.86" y="1376.78">0</text><text x="187.36" y="1376.78">0</text><text x="209.86" y="1376.78">0</text><text x="232.36" y="1376.78">2e-05</text><text x="74.86" y="1395.62">0</text><text x="209.86" y="1395.62">0</text><text x="52.36" y="1414.46">0.0068</text><text x="74.86" y="1414.46">0</text><text x="119.86" y="1414.46">0.075</text><text x="142.36" y="1414.46">0.32</text><text x="164.86" y="1414.46">0.21</text><text x="209.86" y="1414.46">0</text><text x="232.36" y="1414.46">0</text><text x="52.36" y="1433.31">0</text><text x="74.86" y="1433.31">0</text><text x="119.86" y="1433.31">0</text><text x="142.36" y="1433.31">2e-05</text><text x="164.86" y="1433.31">6e-05</text><text x="187.36" y="1433.31">0.0012</text><text x="209.86" y="1433.31">4e-05</text><text x="232.36" y="1433.31">0.00018</text><text x="254.86" y="1433.31">0</text><text x="299.86" y="1433.31">0</text><text x="367.36" y="1433.31">0.00062</text><text x="389.86" y="1433.31">0.15</text><text x="457.36" y="1433.31">0.43</text><text x="479.86" y="1433.31">0.034</text><text x="52.36" y="1452.15">0</text><text x="74.86" y="1452.15">0</text><text x="97.36" y="1452.15">0</text><text x="119.86" y="1452.15">0</text><text x="142.36" y="1452.15">0</text><text x="164.86" y="1452.15">0</text><text x="187.36" y="1452.15">0</text><text x="209.86" y="1452.15">0</text><text x="232.36" y="1452.15">0</text><text x="254.86" y="1452.15">0</text><text x="277.36" y="1452.15">0</text><text x="299.86" y="1452.15">0</text><text x="322.36" y="1452.15">0.038</text><text x="367.36" y="1452.15">0</text><text x="389.86" y="1452.15">0</text><text x="434.86" y="1452.15">0.0031</text><text x="457.36" y="1452.15">0</text><text x="479.86" y="1452.15">0</text><text x="502.36" y="1452.15">0.014</text><text x="524.86" y="1452.15">0.025</text><text x="569.86" y="1452.15">0.042</text><text x="614.86" y="1452.15">0.17</text><text x="637.36" y="1452.15">0.023</text><text x="659.86" y="1452.15">0.036</text><text x="52.36" y="1470.99">8e-05</text><text x="74.86" y="1470.99">0</text><text x="119.86" y="1470.99">0.0001</text><text x="142.36" y="1470.99">0.00036</text><text x="164.86" y="1470.99">0.00028</text><text x="187.36" y="1470.99">0.005</text><text x="209.86" y="1470.99">0.00016</text><text x="232.36" y="1470.99">0.00044</text><text x="299.86" y="1470.99">0</text><text x="367.36" y="1470.99">0.012</text><text x="389.86" y="1470.99">0.4</text><text x="479.86" y="1470.99">0.11</text><text x="52.36" y="1489.84">0</text><text x="74.86" y="1489.84">0</text><text x="97.36" y="1489.84">0</text><text x="119.86" y="1489.84">0</text><text x="142.36" y="1489.84">0</text><text x="164.86" y="1489.84">0</text><text x="187.36" y="1489.84">0</text><text x="209.86" y="1489.84">0</text><text x="232.36" y="1489.84">0</text><text x="254.86" y="1489.84">2e-05</text><text x="299.86" y="1489.84">0</text><text x="322.36" y="1489.84">0</text><text x="367.36" y="1489.84">0</text><text x="389.86" y="1489.84">0</text><text x="434.86" y="1489.84">0.056</text><text x="457.36" y="1489.84">0</text><text x="479.86" y="1489.84">0</text><text x="502.36" y="1489.84">0.019</text><text x="524.86" y="1489.84">0.028</text><text x="569.86" y="1489.84">0.05</text><text x="614.86" y="1489.84">0.19</text><text x="637.36" y="1489.84">0.032</text><text x="659.86" y="1489.84">0.055</text><text x="52.36" y="1508.68">0</text><text x="74.86" y="1508.68">0</text><text x="97.36" y="1508.68">0</text><text x="119.86" y="1508.68">0</text><text x="142.36" y="1508.68">0</text><text x="164.86" y="1508.68">0</text><text x="187.36" y="1508.68">0</text><text x="209.86" y="1508.68">0</text><text x="232.36" y="1508.68">0</text><text x="254.86" y="1508.68">0</text><text x="277.36" y="1508.68">8e-05</text><text x="299.86" y="1508.68">0</text><text x="322.36" y="1508.68">0</text><text x="344.86" y="1508.68">0</text><text x="367.36" y="1508.68">0</text><text x="389.86" y="1508.68">0</text><text x="412.36" y="1508.68">0.27</text><text x="434.86" y="1508.68">4e-05</text><text x="457.36" y="1508.68">0</text><text x="479.86" y="1508.68">0</text><text x="502.36" y="1508.68">4e-05</text><text x="524.86" y="1508.68">0.0044</text><text x="547.36" y="1508.68">0.19</text><text x="569.86" y="1508.68">0.00018</text><text x="592.36" y="1508.68">0.043</text><text x="614.86" y="1508.68">0.00034</text><text x="637.36" y="1508.68">2e-05</text><text x="659.86" y="1508.68">8e-05</text><text x="52.36" y="1527.52">0</text><text x="74.86" y="1527.52">0</text><text x="119.86" y="1527.52">0</text><text x="142.36" y="1527.52">6e-05</text><text x="164.86" y="1527.52">0.00034</text><text x="187.36" y="1527.52">0.3</text><text x="209.86" y="1527.52">2e-05</text><text x="232.36" y="1527.52">0.0015</text><text x="367.36" y="1527.52">0</text><text x="52.36" y="1546.36">0</text><text x="74.86" y="1546.36">0</text><text x="119.86" y="1546.36">0</text><text x="142.36" y="1546.36">0</text><text x="164.86" y="1546.36">4e-05</text><text x="187.36" y="1546.36">0.023</text><text x="209.86" y="1546.36">2e-05</text><text x="232.36" y="1546.36">0.0003</text><text x="367.36" y="1546.36">0.025</text><text x="389.86" y="1546.36">0</text><text x="479.86" y="1546.36">0.28</text><text x="52.36" y="1565.21">0</text><text x="74.86" y="1565.21">0</text><text x="97.36" y="1565.21">0</text><text x="119.86" y="1565.21">0</text><text x="142.36" y="1565.21">0</text><text x="164.86" y="1565.21">0</text><text x="187.36" y="1565.21">0</text><text x="209.86" y="1565.21">0</text><text x="232.36" y="1565.21">0</text><text x="254.86" y="1565.21">2e-05</text><text x="277.36" y="1565.21">0.03</text><text x="299.86" y="1565.21">0</text><text x="322.36" y="1565.21">0.0016</text><text x="367.36" y="1565.21">0</text><text x="389.86" y="1565.21">0</text><text x="412.36" y="1565.21">0</text><text x="434.86" y="1565.21">0.0019</text><text x="457.36" y="1565.21">0</text><text x="479.86" y="1565.21">0</text><text x="502.36" y="1565.21">4e-05</text><text x="524.86" y="1565.21">0.0037</text><text x="547.36" y="1565.21">0.19</text><text x="569.86" y="1565.21">4e-05</text><text x="592.36" y="1565.21">0.049</text><text x="614.86" y="1565.21">0.00098</text><text x="637.36" y="1565.21">0.00094</text><text x="659.86" y="1565.21">0.00014</text><text x="52.36" y="1584.05">0</text><text x="74.86" y="1584.05">0</text><text x="97.36" y="1584.05">0.038</text><text x="119.86" y="1584.05">0</text><text x="142.36" y="1584.05">0</text><text x="164.86" y="1584.05">0</text><text x="187.36" y="1584.05">2e-05</text><text x="209.86" y="1584.05">0</text><text x="232.36" y="1584.05">0</text><text x="254.86" y="1584.05">0.0047</text><text x="299.86" y="1584.05">0.0026</text><text x="367.36" y="1584.05">0</text><text x="389.86" y="1584.05">8e-05</text><text x="434.86" y="1584.05">0</text><text x="457.36" y="1584.05">8e-05</text><text x="479.86" y="1584.05">0</text><text x="502.36" y="1584.05">0.27</text><text x="524.86" y="1584.05">0.44</text><text x="569.86" y="1584.05">0.29</text><text x="637.36" y="1584.05">0.17</text><text x="659.86" y="1584.05">0.34</text><text x="52.36" y="1602.89">0</text><text x="74.86" y="1602.89">0</text><text x="119.86" y="1602.89">0</text><text x="142.36" y="1602.89">0</text><text x="164.86" y="1602.89">0</text><text x="187.36" y="1602.89">4e-05</text><text x="209.86" y="1602.89">0</text><text x="232.36" y="1602.89">2e-05</text><text x="299.86" y="1602.89">0.32</text><text x="367.36" y="1602.89">0</text><text x="389.86" y="1602.89">0.053</text><text x="457.36" y="1602.89">0</text><text x="479.86" y="1602.89">2e-05</text><text x="52.36" y="1621.74">0</text><text x="74.86" y="1621.74">0</text><text x="119.86" y="1621.74">0</text><text x="142.36" y="1621.74">0</text><text x="164.86" y="1621.74">0</text><text x="187.36" y="1621.74">0.0027</text><text x="209.86" y="1621.74">0</text><text x="232.36" y="1621.74">2e-05</text><text x="367.36" y="1621.74">0.0013</text><text x="479.86" y="1621.74">0</text><text x="52.36" y="1640.58">0</text><text x="74.86" y="1640.58">0</text><text x="97.36" y="1640.58">0.27</text><text x="119.86" y="1640.58">0</text><text x="142.36" y="1640.58">0</text><text x="164.86" y="1640.58">0</text><text x="187.36" y="1640.58">0</text><text x="209.86" y="1640.58">0</text><text x="232.36" y="1640.58">0</text><text x="254.86" y="1640.58">0.22</text><text x="299.86" y="1640.58">0.17</text><text x="367.36" y="1640.58">0</text><text x="389.86" y="1640.58">0.0043</text><text x="457.36" y="1640.58">0.00026</text><text x="479.86" y="1640.58">0</text><text x="502.36" y="1640.58">0</text><text x="569.86" y="1640.58">0.44</text><text x="637.36" y="1640.58">0.3</text><text x="659.86" y="1640.58">0.26</text><text x="52.36" y="1659.42">6e-05</text><text x="74.86" y="1659.42">0</text><text x="97.36" y="1659.42">0.2</text><text x="119.86" y="1659.42">6e-05</text><text x="142.36" y="1659.42">2e-05</text><text x="164.86" y="1659.42">0</text><text x="187.36" y="1659.42">0.00056</text><text x="209.86" y="1659.42">2e-05</text><text x="232.36" y="1659.42">4e-05</text><text x="254.86" y="1659.42">0.25</text><text x="299.86" y="1659.42">0.11</text><text x="367.36" y="1659.42">0.0032</text><text x="389.86" y="1659.42">0.0044</text><text x="457.36" y="1659.42">0.048</text><text x="479.86" y="1659.42">0.0076</text><text x="524.86" y="1659.42">0</text><text x="637.36" y="1659.42">0.089</text><text x="52.36" y="1678.26">0</text><text x="74.86" y="1678.26">0</text><text x="97.36" y="1678.26">0</text><text x="119.86" y="1678.26">0</text><text x="142.36" y="1678.26">0</text><text x="164.86" y="1678.26">0</text><text x="187.36" y="1678.26">0</text><text x="209.86" y="1678.26">0</text><text x="232.36" y="1678.26">0</text><text x="254.86" y="1678.26">0</text><text x="277.36" y="1678.26">0.047</text><text x="299.86" y="1678.26">0</text><text x="322.36" y="1678.26">0.036</text><text x="367.36" y="1678.26">0</text><text x="389.86" y="1678.26">0</text><text x="434.86" y="1678.26">0.0028</text><text x="457.36" y="1678.26">0</text><text x="479.86" y="1678.26">0</text><text x="502.36" y="1678.26">0</text><text x="524.86" y="1678.26">0.015</text><text x="547.36" y="1678.26">0</text><text x="569.86" y="1678.26">0</text><text x="614.86" y="1678.26">0.0037</text><text x="637.36" y="1678.26">0.009</text><text x="659.86" y="1678.26">8e-05</text><text x="52.36" y="1697.11">0</text><text x="74.86" y="1697.11">0</text><text x="97.36" y="1697.11">0.3</text><text x="119.86" y="1697.11">0</text><text x="142.36" y="1697.11">0</text><text x="164.86" y="1697.11">0</text><text x="187.36" y="1697.11">0</text><text x="209.86" y="1697.11">0</text><text x="232.36" y="1697.11">0</text><text x="254.86" y="1697.11">0.22</text><text x="299.86" y="1697.11">0.14</text><text x="367.36" y="1697.11">0</text><text x="389.86" y="1697.11">0.0068</text><text x="457.36" y="1697.11">0.0029</text><text x="479.86" y="1697.11">0</text><text x="569.86" y="1697.11">0</text><text x="637.36" y="1697.11">0.3</text><text x="52.36" y="1715.95">0</text><text x="74.86" y="1715.95">0</text><text x="97.36" y="1715.95">0.0014</text><text x="119.86" y="1715.95">0</text><text x="142.36" y="1715.95">0</text><text x="164.86" y="1715.95">0</text><text x="187.36" y="1715.95">0</text><text x="209.86" y="1715.95">0</text><text x="232.36" y="1715.95">0</text><text x="254.86" y="1715.95">0.00084</text><text x="277.36" y="1715.95">0.17</text><text x="299.86" y="1715.95">0.0003</text><text x="322.36" y="1715.95">0.071</text><text x="367.36" y="1715.95">0</text><text x="389.86" y="1715.95">0</text><text x="434.86" y="1715.95">0.0013</text><text x="457.36" y="1715.95">0</text><text x="479.86" y="1715.95">0</text><text x="502.36" y="1715.95">0</text><text x="524.86" y="1715.95">0.0075</text><text x="547.36" y="1715.95">0.46</text><text x="569.86" y="1715.95">2e-05</text><text x="592.36" y="1715.95">0</text><text x="614.86" y="1715.95">0.00032</text><text x="637.36" y="1715.95">6e-05</text><text x="659.86" y="1715.95">0</text><text x="52.36" y="1734.79">0</text><text x="74.86" y="1734.79">0</text><text x="97.36" y="1734.79">0.027</text><text x="119.86" y="1734.79">0</text><text x="142.36" y="1734.79">0</text><text x="164.86" y="1734.79">0</text><text x="187.36" y="1734.79">0</text><text x="209.86" y="1734.79">0</text><text x="232.36" y="1734.79">0</text><text x="254.86" y="1734.79">0.051</text><text x="299.86" y="1734.79">0.03</text><text x="367.36" y="1734.79">0</text><text x="389.86" y="1734.79">4e-05</text><text x="434.86" y="1734.79">0.27</text><text x="457.36" y="1734.79">0</text><text x="479.86" y="1734.79">0</text><text x="502.36" y="1734.79">0.0022</text><text x="524.86" y="1734.79">0.23</text><text x="569.86" y="1734.79">0.0048</text><text x="614.86" y="1734.79">0</text><text x="637.36" y="1734.79">0.042</text><text x="659.86" y="1734.79">0.007</text><text x="52.36" y="1753.64">0</text><text x="74.86" y="1753.64">0</text><text x="97.36" y="1753.64">0.43</text><text x="119.86" y="1753.64">6e-05</text><text x="142.36" y="1753.64">2e-05</text><text x="164.86" y="1753.64">0</text><text x="187.36" y="1753.64">0.00038</text><text x="209.86" y="1753.64">0</text><text x="232.36" y="1753.64">4e-05</text><text x="254.86" y="1753.64">0.43</text><text x="299.86" y="1753.64">0.2</text><text x="367.36" y="1753.64">0.008</text><text x="389.86" y="1753.64">0.034</text><text x="457.36" y="1753.64">0.21</text><text x="479.86" y="1753.64">0.028</text><text x="637.36" y="1753.64">0</text><text x="52.36" y="1772.48">0</text><text x="74.86" y="1772.48">0</text><text x="97.36" y="1772.48">0.29</text><text x="119.86" y="1772.48">0</text><text x="142.36" y="1772.48">0</text><text x="164.86" y="1772.48">0</text><text x="187.36" y="1772.48">0</text><text x="209.86" y="1772.48">0</text><text x="232.36" y="1772.48">0</text><text x="254.86" y="1772.48">0.21</text><text x="299.86" y="1772.48">0.16</text><text x="367.36" y="1772.48">0</text><text x="389.86" y="1772.48">0.0067</text><text x="457.36" y="1772.48">0.0004</text><text x="479.86" y="1772.48">0</text><text x="502.36" y="1772.48">0.029</text><text x="524.86" y="1772.48">0.45</text><text x="569.86" y="1772.48">0.21</text><text x="637.36" y="1772.48">0.22</text><text x="659.86" y="1772.48">0</text></g><g fill="#fff" stroke="#fff" stroke-width="0.0" stroke-linejoin="round"><text x="97.36" y="1263.72">1</text><text x="119.86" y="1263.72">0.67</text><text x="142.36" y="1263.72">1</text><text x="164.86" y="1263.72">1</text><text x="187.36" y="1263.72">1</text><text x="232.36" y="1263.72">0.99</text><text x="254.86" y="1263.72">1</text><text x="277.36" y="1263.72">1</text><text x="299.86" y="1263.72">1</text><text x="322.36" y="1263.72">1</text><text x="344.86" y="1263.72">1</text><text x="367.36" y="1263.72">1</text><text x="389.86" y="1263.72">1</text><text x="412.36" y="1263.72">1</text><text x="434.86" y="1263.72">1</text><text x="457.36" y="1263.72">1</text><text x="479.86" y="1263.72">1</text><text x="502.36" y="1263.72">1</text><text x="524.86" y="1263.72">1</text><text x="547.36" y="1263.72">1</text><text x="569.86" y="1263.72">1</text><text x="592.36" y="1263.72">1</text><text x="614.86" y="1263.72">1</text><text x="637.36" y="1263.72">1</text><text x="659.86" y="1263.72">1</text><text x="52.36" y="1282.56">1</text><text x="97.36" y="1282.56">1</text><text x="119.86" y="1282.56">1</text><text x="142.36" y="1282.56">1</text><text x="164.86" y="1282.56">1</text><text x="187.36" y="1282.56">1</text><text x="209.86" y="1282.56">1</text><text x="232.36" y="1282.56">1</text><text x="254.86" y="1282.56">1</text><text x="277.36" y="1282.56">1</text><text x="299.86" y="1282.56">1</text><text x="322.36" y="1282.56">1</text><text x="344.86" y="1282.56">1</text><text x="367.36" y="1282.56">1</text><text x="389.86" y="1282.56">1</text><text x="412.36" y="1282.56">1</text><text x="434.86" y="1282.56">1</text><text x="457.36" y="1282.56">1</text><text x="479.86" y="1282.56">1</text><text x="502.36" y="1282.56">1</text><text x="524.86" y="1282.56">1</text><text x="547.36" y="1282.56">1</text><text x="569.86" y="1282.56">1</text><text x="592.36" y="1282.56">1</text><text x="614.86" y="1282.56">1</text><text x="637.36" y="1282.56">1</text><text x="659.86" y="1282.56">1</text><text x="277.36" y="1301.41">1</text><text x="322.36" y="1301.41">1</text><text x="344.86" y="1301.41">1</text><text x="412.36" y="1301.41">1</text><text x="434.86" y="1301.41">0.96</text><text x="502.36" y="1301.41">0.73</text><text x="524.86" y="1301.41">0.8</text><text x="547.36" y="1301.41">1</text><text x="569.86" y="1301.41">0.7</text><text x="592.36" y="1301.41">1</text><text x="614.86" y="1301.41">0.97</text><text x="637.36" y="1301.41">0.57</text><text x="659.86" y="1301.41">0.71</text><text x="97.36" y="1320.25">1</text><text x="142.36" y="1320.25">0.87</text><text x="164.86" y="1320.25">0.87</text><text x="187.36" y="1320.25">1</text><text x="232.36" y="1320.25">0.93</text><text x="254.86" y="1320.25">1</text><text x="277.36" y="1320.25">1</text><text x="299.86" y="1320.25">1</text><text x="322.36" y="1320.25">1</text><text x="344.86" y="1320.25">1</text><text x="367.36" y="1320.25">1</text><text x="389.86" y="1320.25">1</text><text x="412.36" y="1320.25">1</text><text x="434.86" y="1320.25">1</text><text x="457.36" y="1320.25">1</text><text x="479.86" y="1320.25">1</text><text x="502.36" y="1320.25">1</text><text x="524.86" y="1320.25">1</text><text x="547.36" y="1320.25">1</text><text x="569.86" y="1320.25">1</text><text x="592.36" y="1320.25">1</text><text x="614.86" y="1320.25">1</text><text x="637.36" y="1320.25">1</text><text x="659.86" y="1320.25">1</text><text x="97.36" y="1339.09">1</text><text x="164.86" y="1339.09">0.5</text><text x="187.36" y="1339.09">1</text><text x="232.36" y="1339.09">0.68</text><text x="254.86" y="1339.09">1</text><text x="277.36" y="1339.09">1</text><text x="299.86" y="1339.09">1</text><text x="322.36" y="1339.09">1</text><text x="344.86" y="1339.09">1</text><text x="367.36" y="1339.09">1</text><text x="389.86" y="1339.09">1</text><text x="412.36" y="1339.09">1</text><text x="434.86" y="1339.09">1</text><text x="457.36" y="1339.09">1</text><text x="479.86" y="1339.09">1</text><text x="502.36" y="1339.09">1</text><text x="524.86" y="1339.09">1</text><text x="547.36" y="1339.09">1</text><text x="569.86" y="1339.09">1</text><text x="592.36" y="1339.09">1</text><text x="614.86" y="1339.09">1</text><text x="637.36" y="1339.09">1</text><text x="659.86" y="1339.09">1</text><text x="97.36" y="1357.94">1</text><text x="187.36" y="1357.94">1</text><text x="232.36" y="1357.94">0.78</text><text x="254.86" y="1357.94">1</text><text x="277.36" y="1357.94">1</text><text x="299.86" y="1357.94">1</text><text x="322.36" y="1357.94">1</text><text x="344.86" y="1357.94">1</text><text x="367.36" y="1357.94">1</text><text x="389.86" y="1357.94">1</text><text x="412.36" y="1357.94">1</text><text x="434.86" y="1357.94">1</text><text x="457.36" y="1357.94">1</text><text x="479.86" y="1357.94">1</text><text x="502.36" y="1357.94">1</text><text x="524.86" y="1357.94">1</text><text x="547.36" y="1357.94">1</text><text x="569.86" y="1357.94">1</text><text x="592.36" y="1357.94">1</text><text x="614.86" y="1357.94">1</text><text x="637.36" y="1357.94">1</text><text x="659.86" y="1357.94">1</text><text x="97.36" y="1376.78">1</text><text x="254.86" y="1376.78">1</text><text x="277.36" y="1376.78">1</text><text x="299.86" y="1376.78">1</text><text x="322.36" y="1376.78">1</text><text x="344.86" y="1376.78">1</text><text x="367.36" y="1376.78">0.7</text><text x="389.86" y="1376.78">0.98</text><text x="412.36" y="1376.78">1</text><text x="434.86" y="1376.78">1</text><text x="457.36" y="1376.78">1</text><text x="479.86" y="1376.78">1</text><text x="502.36" y="1376.78">1</text><text x="524.86" y="1376.78">1</text><text x="547.36" y="1376.78">1</text><text x="569.86" y="1376.78">1</text><text x="592.36" y="1376.78">1</text><text x="614.86" y="1376.78">1</text><text x="637.36" y="1376.78">1</text><text x="659.86" y="1376.78">1</text><text x="52.36" y="1395.62">0.97</text><text x="97.36" y="1395.62">1</text><text x="119.86" y="1395.62">0.95</text><text x="142.36" y="1395.62">1</text><text x="164.86" y="1395.62">1</text><text x="187.36" y="1395.62">1</text><text x="232.36" y="1395.62">1</text><text x="254.86" y="1395.62">1</text><text x="277.36" y="1395.62">1</text><text x="299.86" y="1395.62">1</text><text x="322.36" y="1395.62">1</text><text x="344.86" y="1395.62">1</text><text x="367.36" y="1395.62">1</text><text x="389.86" y="1395.62">1</text><text x="412.36" y="1395.62">1</text><text x="434.86" y="1395.62">1</text><text x="457.36" y="1395.62">1</text><text x="479.86" y="1395.62">1</text><text x="502.36" y="1395.62">1</text><text x="524.86" y="1395.62">1</text><text x="547.36" y="1395.62">1</text><text x="569.86" y="1395.62">1</text><text x="592.36" y="1395.62">1</text><text x="614.86" y="1395.62">1</text><text x="637.36" y="1395.62">1</text><text x="659.86" y="1395.62">1</text><text x="97.36" y="1414.46">1</text><text x="187.36" y="1414.46">1</text><text x="254.86" y="1414.46">1</text><text x="277.36" y="1414.46">1</text><text x="299.86" y="1414.46">1</text><text x="322.36" y="1414.46">1</text><text x="344.86" y="1414.46">1</text><text x="367.36" y="1414.46">1</text><text x="389.86" y="1414.46">1</text><text x="412.36" y="1414.46">1</text><text x="434.86" y="1414.46">1</text><text x="457.36" y="1414.46">1</text><text x="479.86" y="1414.46">1</text><text x="502.36" y="1414.46">1</text><text x="524.86" y="1414.46">1</text><text x="547.36" y="1414.46">1</text><text x="569.86" y="1414.46">1</text><text x="592.36" y="1414.46">1</text><text x="614.86" y="1414.46">1</text><text x="637.36" y="1414.46">1</text><text x="659.86" y="1414.46">1</text><text x="97.36" y="1433.31">0.81</text><text x="277.36" y="1433.31">1</text><text x="322.36" y="1433.31">1</text><text x="344.86" y="1433.31">1</text><text x="412.36" y="1433.31">1</text><text x="434.86" y="1433.31">1</text><text x="502.36" y="1433.31">0.78</text><text x="524.86" y="1433.31">0.75</text><text x="547.36" y="1433.31">1</text><text x="569.86" y="1433.31">0.78</text><text x="592.36" y="1433.31">1</text><text x="614.86" y="1433.31">0.95</text><text x="637.36" y="1433.31">0.57</text><text x="659.86" y="1433.31">0.79</text><text x="344.86" y="1452.15">1</text><text x="412.36" y="1452.15">0.97</text><text x="547.36" y="1452.15">0.95</text><text x="592.36" y="1452.15">0.83</text><text x="97.36" y="1470.99">0.88</text><text x="254.86" y="1470.99">0.98</text><text x="277.36" y="1470.99">1</text><text x="322.36" y="1470.99">1</text><text x="344.86" y="1470.99">1</text><text x="412.36" y="1470.99">1</text><text x="434.86" y="1470.99">1</text><text x="457.36" y="1470.99">0.68</text><text x="502.36" y="1470.99">0.83</text><text x="524.86" y="1470.99">0.89</text><text x="547.36" y="1470.99">1</text><text x="569.86" y="1470.99">0.86</text><text x="592.36" y="1470.99">1</text><text x="614.86" y="1470.99">0.97</text><text x="637.36" y="1470.99">0.8</text><text x="659.86" y="1470.99">0.84</text><text x="277.36" y="1489.84">0.96</text><text x="344.86" y="1489.84">1</text><text x="412.36" y="1489.84">1</text><text x="547.36" y="1489.84">0.96</text><text x="592.36" y="1489.84">0.93</text><text x="97.36" y="1527.52">1</text><text x="254.86" y="1527.52">1</text><text x="277.36" y="1527.52">1</text><text x="299.86" y="1527.52">0.99</text><text x="322.36" y="1527.52">1</text><text x="344.86" y="1527.52">1</text><text x="389.86" y="1527.52">0.97</text><text x="412.36" y="1527.52">1</text><text x="434.86" y="1527.52">1</text><text x="457.36" y="1527.52">1</text><text x="479.86" y="1527.52">1</text><text x="502.36" y="1527.52">1</text><text x="524.86" y="1527.52">1</text><text x="547.36" y="1527.52">1</text><text x="569.86" y="1527.52">1</text><text x="592.36" y="1527.52">1</text><text x="614.86" y="1527.52">1</text><text x="637.36" y="1527.52">0.99</text><text x="659.86" y="1527.52">1</text><text x="97.36" y="1546.36">0.99</text><text x="254.86" y="1546.36">0.85</text><text x="277.36" y="1546.36">1</text><text x="299.86" y="1546.36">0.6</text><text x="322.36" y="1546.36">1</text><text x="344.86" y="1546.36">1</text><text x="412.36" y="1546.36">1</text><text x="434.86" y="1546.36">1</text><text x="457.36" y="1546.36">0.95</text><text x="502.36" y="1546.36">1</text><text x="524.86" y="1546.36">1</text><text x="547.36" y="1546.36">1</text><text x="569.86" y="1546.36">0.99</text><text x="592.36" y="1546.36">1</text><text x="614.86" y="1546.36">1</text><text x="637.36" y="1546.36">0.97</text><text x="659.86" y="1546.36">0.99</text><text x="344.86" y="1565.21">0.73</text><text x="277.36" y="1584.05">1</text><text x="322.36" y="1584.05">0.94</text><text x="344.86" y="1584.05">1</text><text x="412.36" y="1584.05">1</text><text x="547.36" y="1584.05">1</text><text x="592.36" y="1584.05">1</text><text x="614.86" y="1584.05">0.73</text><text x="97.36" y="1602.89">0.98</text><text x="254.86" y="1602.89">0.57</text><text x="277.36" y="1602.89">1</text><text x="322.36" y="1602.89">1</text><text x="344.86" y="1602.89">1</text><text x="412.36" y="1602.89">1</text><text x="434.86" y="1602.89">1</text><text x="502.36" y="1602.89">1</text><text x="524.86" y="1602.89">0.95</text><text x="547.36" y="1602.89">1</text><text x="569.86" y="1602.89">1</text><text x="592.36" y="1602.89">1</text><text x="614.86" y="1602.89">1</text><text x="637.36" y="1602.89">0.79</text><text x="659.86" y="1602.89">1</text><text x="97.36" y="1621.74">1</text><text x="254.86" y="1621.74">0.97</text><text x="277.36" y="1621.74">1</text><text x="299.86" y="1621.74">0.85</text><text x="322.36" y="1621.74">1</text><text x="344.86" y="1621.74">1</text><text x="389.86" y="1621.74">0.72</text><text x="412.36" y="1621.74">1</text><text x="434.86" y="1621.74">1</text><text x="457.36" y="1621.74">1</text><text x="502.36" y="1621.74">1</text><text x="524.86" y="1621.74">0.99</text><text x="547.36" y="1621.74">1</text><text x="569.86" y="1621.74">1</text><text x="592.36" y="1621.74">1</text><text x="614.86" y="1621.74">1</text><text x="637.36" y="1621.74">0.97</text><text x="659.86" y="1621.74">1</text><text x="277.36" y="1640.58">0.99</text><text x="322.36" y="1640.58">0.98</text><text x="344.86" y="1640.58">1</text><text x="412.36" y="1640.58">1</text><text x="434.86" y="1640.58">0.73</text><text x="524.86" y="1640.58">0.5</text><text x="547.36" y="1640.58">1</text><text x="592.36" y="1640.58">1</text><text x="614.86" y="1640.58">1</text><text x="277.36" y="1659.42">0.98</text><text x="322.36" y="1659.42">0.97</text><text x="344.86" y="1659.42">1</text><text x="412.36" y="1659.42">1</text><text x="434.86" y="1659.42">0.56</text><text x="502.36" y="1659.42">0.5</text><text x="547.36" y="1659.42">0.99</text><text x="569.86" y="1659.42">0.49</text><text x="592.36" y="1659.42">0.99</text><text x="614.86" y="1659.42">0.77</text><text x="659.86" y="1659.42">0.55</text><text x="344.86" y="1678.26">0.81</text><text x="412.36" y="1678.26">0.81</text><text x="592.36" y="1678.26">0.54</text><text x="277.36" y="1697.11">0.96</text><text x="322.36" y="1697.11">0.97</text><text x="344.86" y="1697.11">1</text><text x="412.36" y="1697.11">1</text><text x="434.86" y="1697.11">0.71</text><text x="502.36" y="1697.11">0.5</text><text x="524.86" y="1697.11">0.51</text><text x="547.36" y="1697.11">1</text><text x="592.36" y="1697.11">1</text><text x="614.86" y="1697.11">1</text><text x="659.86" y="1697.11">0.77</text><text x="344.86" y="1715.95">0.96</text><text x="412.36" y="1715.95">0.95</text><text x="277.36" y="1734.79">0.83</text><text x="322.36" y="1734.79">0.81</text><text x="344.86" y="1734.79">1</text><text x="412.36" y="1734.79">1</text><text x="547.36" y="1734.79">1</text><text x="592.36" y="1734.79">1</text><text x="277.36" y="1753.64">0.98</text><text x="322.36" y="1753.64">0.97</text><text x="344.86" y="1753.64">1</text><text x="412.36" y="1753.64">1</text><text x="434.86" y="1753.64">0.83</text><text x="502.36" y="1753.64">0.7</text><text x="524.86" y="1753.64">0.91</text><text x="547.36" y="1753.64">0.99</text><text x="569.86" y="1753.64">0.7</text><text x="592.36" y="1753.64">1</text><text x="614.86" y="1753.64">0.96</text><text x="659.86" y="1753.64">0.78</text><text x="277.36" y="1772.48">0.96</text><text x="322.36" y="1772.48">0.94</text><text x="344.86" y="1772.48">1</text><text x="412.36" y="1772.48">1</text><text x="434.86" y="1772.48">0.66</text><text x="547.36" y="1772.48">1</text><text x="592.36" y="1772.48">1</text><text x="614.86" y="1772.48">0.99</text></g></g><g transform="scale(0.9,1)" font-size="7.0" font-weight="normal" text-anchor="end" fill="#000" stroke="#000" stroke-width="0.35" stroke-linejoin="round"><text x="35.56" y="1263.82">CSPUS</text><text x="35.56" y="1282.66">LTRUS</text><text x="35.56" y="1301.51">CUS</text><text x="35.56" y="1320.35">PCFS</text><text x="35.56" y="1339.19">SDUS1</text><text x="35.56" y="1358.04">SDUS2</text><text x="35.56" y="1376.88">RBU</text><text x="35.56" y="1395.72">CC1</text><text x="35.56" y="1414.56">CC2</text><text x="35.56" y="1433.41">ENN</text><text x="35.56" y="1452.25">TomekLinks</text><text x="35.56" y="1471.09">AllKNN</text><text x="35.56" y="1489.94">OSS</text><text x="35.56" y="1508.78">Origin</text><text x="35.56" y="1527.62">CSPHS</text><text x="35.56" y="1546.46">MLOS</text><text x="35.56" y="1565.31">E-SMOTE</text><text x="35.56" y="1584.15">CPS</text><text x="35.56" y="1602.99">LDAS</text><text x="35.56" y="1621.84">CDBH</text><text x="35.56" y="1640.68">SMOTE-TK</text><text x="35.56" y="1659.52">GDO</text><text x="35.56" y="1678.36">MWMOTE</text><text x="35.56" y="1697.21">ADASYN</text><text x="35.56" y="1716.05">C-SMOTE</text><text x="35.56" y="1734.89">B-SMOTE</text><text x="35.56" y="1753.74">G-SMOTE</text><text x="35.56" y="1772.58">SMOTE</text></g><g font-size="7.0" font-weight="normal" text-anchor="middle" fill="#000" stroke="#000" stroke-width="0.3" stroke-linejoin="round"><text transform="translate(48.27,1240.38) rotate(-30) scale(0.9,1)">CSPUS</text><text transform="translate(68.52,1240.36) rotate(-30) scale(0.9,1)">LTRUS</text><text transform="translate(88.77,1242.14) rotate(-30) scale(0.9,1)">CUS</text><text transform="translate(109.02,1241.52) rotate(-30) scale(0.9,1)">PCFS</text><text transform="translate(129.27,1240.39) rotate(-30) scale(0.9,1)">SDUS1</text><text transform="translate(149.52,1240.39) rotate(-30) scale(0.9,1)">SDUS2</text><text transform="translate(169.77,1241.96) rotate(-30) scale(0.9,1)">RBU</text><text transform="translate(190.02,1242.31) rotate(-30) scale(0.9,1)">CC1</text><text transform="translate(210.27,1242.31) rotate(-30) scale(0.9,1)">CC2</text><text transform="translate(230.52,1241.96) rotate(-30) scale(0.9,1)">ENN</text><text transform="translate(250.77,1237.26) rotate(-30) scale(0.9,1)">TomekLinks</text><text transform="translate(271.02,1239.78) rotate(-30) scale(0.9,1)">AllKNN</text><text transform="translate(291.27,1242.31) rotate(-30) scale(0.9,1)">OSS</text><text transform="translate(311.52,1241.09) rotate(-30) scale(0.9,1)">Origin</text><text transform="translate(331.77,1240.38) rotate(-30) scale(0.9,1)">CSPHS</text><text transform="translate(352.02,1240.82) rotate(-30) scale(0.9,1)">MLOS</text><text transform="translate(372.27,1238.38) rotate(-30) scale(0.9,1)">E-SMOTE</text><text transform="translate(392.52,1242.40) rotate(-30) scale(0.9,1)">CPS</text><text transform="translate(412.77,1241.09) rotate(-30) scale(0.9,1)">LDAS</text><text transform="translate(433.02,1240.82) rotate(-30) scale(0.9,1)">CDBH</text><text transform="translate(453.27,1237.24) rotate(-30) scale(0.9,1)">SMOTE-TK</text><text transform="translate(473.52,1241.79) rotate(-30) scale(0.9,1)">GDO</text><text transform="translate(493.77,1237.85) rotate(-30) scale(0.9,1)">MWMOTE</text><text transform="translate(514.02,1238.64) rotate(-30) scale(0.9,1)">ADASYN</text><text transform="translate(534.27,1238.29) rotate(-30) scale(0.9,1)">C-SMOTE</text><text transform="translate(554.52,1238.29) rotate(-30) scale(0.9,1)">B-SMOTE</text><text transform="translate(574.77,1238.20) rotate(-30) scale(0.9,1)">G-SMOTE</text><text transform="translate(595.02,1239.86) rotate(-30) scale(0.9,1)">SMOTE</text></g><rect x="639.6" y="1252.0" width="27.40" height="527.60" fill="url(#cb)"/><g font-size="8.5" fill="#000" stroke="#000" stroke-width="0.3" stroke-linejoin="round"><line x1="666.40" x2="672.00" y1="1780.00" y2="1780.00" stroke="#000" stroke-width="1.0"/><text x="671.80" y="1782.90">0.0</text><line x1="666.40" x2="672.00" y1="1674.48" y2="1674.48" stroke="#000" stroke-width="1.0"/><text x="671.80" y="1677.38">0.2</text><line x1="666.40" x2="672.00" y1="1568.96" y2="1568.96" stroke="#000" stroke-width="1.0"/><text x="671.80" y="1571.86">0.4</text><line x1="666.40" x2="672.00" y1="1463.44" y2="1463.44" stroke="#000" stroke-width="1.0"/><text x="671.80" y="1466.34">0.6</text><line x1="666.40" x2="672.00" y1="1357.92" y2="1357.92" stroke="#000" stroke-width="1.0"/><text x="671.80" y="1360.82">0.8</text><line x1="666.40" x2="672.00" y1="1252.40" y2="1252.40" stroke="#000" stroke-width="1.0"/><text x="671.80" y="1255.30">1.0</text></g><g font-size="15.9" fill="#000" stroke="#000" stroke-width="0.3" stroke-linejoin="round"><text x="302.60" y="1811.8" textLength="19.80" lengthAdjust="spacingAndGlyphs">(c)</text><text x="332.20" y="1811.8" textLength="47.28" lengthAdjust="spacingAndGlyphs">Recall</text></g></svg></body></html>
